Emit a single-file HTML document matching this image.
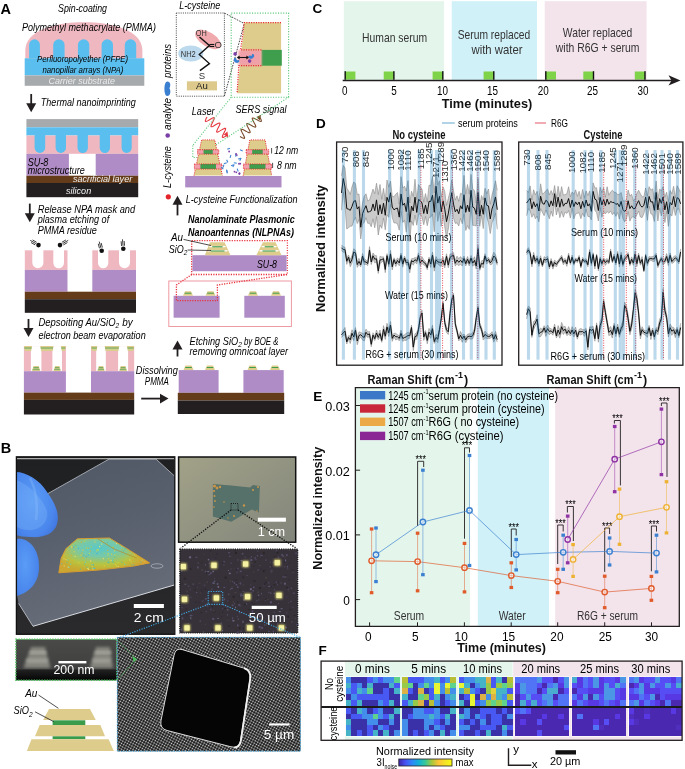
<!DOCTYPE html>
<html><head><meta charset="utf-8"><title>Figure</title>
<style>html,body{margin:0;padding:0;background:#fff;width:685px;height:769px;overflow:hidden}svg{display:block}</style>
</head><body>
<svg width="685" height="769" viewBox="0 0 685 769" font-family='"Liberation Sans", Arial, sans-serif'><defs>
<filter id="blur1" x="-20%" y="-20%" width="140%" height="140%"><feGaussianBlur stdDeviation="0.8"/></filter>
<filter id="blur2" x="-30%" y="-30%" width="160%" height="160%"><feGaussianBlur stdDeviation="1.6"/></filter><filter id="glow" x="-50%" y="-50%" width="200%" height="200%"><feGaussianBlur stdDeviation="1.1"/></filter>
<linearGradient id="gbg1" x1="0" y1="0" x2="0" y2="1"><stop offset="0" stop-color="#1f2022"/><stop offset="1" stop-color="#2a2a2c"/></linearGradient>
<linearGradient id="gsheet" x1="0" y1="0" x2="0.3" y2="1"><stop offset="0" stop-color="#4f5764"/><stop offset="0.5" stop-color="#59606d"/><stop offset="1" stop-color="#666c78"/></linearGradient>
<radialGradient id="gglove" cx="0.4" cy="0.45" r="0.75"><stop offset="0" stop-color="#5a9cf6"/><stop offset="0.7" stop-color="#4a86ec"/><stop offset="1" stop-color="#3d70da"/></radialGradient>
<radialGradient id="grain" cx="0.45" cy="0.3" r="0.65"><stop offset="0" stop-color="#58c8c8"/><stop offset="0.35" stop-color="#78c8a8"/><stop offset="0.7" stop-color="#b8c440"/><stop offset="1" stop-color="#c8a830"/></radialGradient><linearGradient id="grain2" x1="0" y1="0" x2="1" y2="0"><stop offset="0" stop-color="#d8a030" stop-opacity="0.5"/><stop offset="0.15" stop-color="#d8a030" stop-opacity="0"/><stop offset="0.75" stop-color="#d8a030" stop-opacity="0"/><stop offset="1" stop-color="#e0a030" stop-opacity="0.8"/></linearGradient>
<linearGradient id="gbg2" x1="0" y1="0" x2="1" y2="1"><stop offset="0" stop-color="#a2a288"/><stop offset="1" stop-color="#82857b"/></linearGradient>
<linearGradient id="gsem" x1="0" y1="0" x2="0" y2="1"><stop offset="0" stop-color="#4a4a48"/><stop offset="0.7" stop-color="#404040"/><stop offset="1" stop-color="#2a2a2a"/></linearGradient>
<linearGradient id="gsemb" x1="0" y1="0" x2="0" y2="1"><stop offset="0" stop-color="#222"/><stop offset="1" stop-color="#050505"/></linearGradient>
<linearGradient id="gtrap" x1="0" y1="0" x2="0" y2="1"><stop offset="0" stop-color="#9a9a9a"/><stop offset="1" stop-color="#c8c8c8"/></linearGradient>
<pattern id="dots" width="2.6" height="2.6" patternUnits="userSpaceOnUse" patternTransform="rotate(28)"><rect width="2.6" height="2.6" fill="#0e0e0e"/><circle cx="1.3" cy="1.3" r="0.88" fill="#d6d6d6"/></pattern>
<pattern id="noise1" width="9" height="7" patternUnits="userSpaceOnUse"><rect x="1" y="2" width="1.5" height="1.5" fill="#5a5272"/><rect x="5" y="5" width="1.5" height="1.5" fill="#6a6476"/><rect x="7" y="1" width="1" height="1" fill="#4a4060"/><rect x="3" y="4" width="1" height="1" fill="#4a4644"/></pattern>
</defs><text x="0.50" y="14.20" font-size="14.5" font-weight="bold" fill="#000" >A</text>
<text x="82.50" y="12.20" font-size="10.2" text-anchor="middle" font-style="italic" textLength="49.00" lengthAdjust="spacingAndGlyphs" >Spin-coating</text>
<path d="M25.3,58.5 L25.3,50 C26,30 55,22.2 84,22.2 C113,22.2 141.5,30 142.4,50 L142.4,58.5 Z" fill="#efb8c0" />
<text x="21.90" y="31.10" font-size="10.3" font-style="italic" textLength="134.00" lengthAdjust="spacingAndGlyphs" >Polymethyl methacrylate (PMMA)</text>
<rect x="24.70" y="58.30" width="119.60" height="17.10" fill="#5abeee" />
<path d="M29.10,58.60 L29.10,44.70 A5.40,5.40 0 0 1 39.90,44.70 L39.90,58.60 Z" fill="#5abeee" />
<path d="M53.20,58.60 L53.20,45.00 A5.70,5.70 0 0 1 64.60,45.00 L64.60,58.60 Z" fill="#5abeee" />
<path d="M77.90,58.60 L77.90,45.00 A5.70,5.70 0 0 1 89.30,45.00 L89.30,58.60 Z" fill="#5abeee" />
<path d="M101.60,58.60 L101.60,45.00 A5.70,5.70 0 0 1 113.00,45.00 L113.00,58.60 Z" fill="#5abeee" />
<path d="M124.80,58.60 L124.80,45.00 A5.70,5.70 0 0 1 136.20,45.00 L136.20,58.60 Z" fill="#5abeee" />
<rect x="24.70" y="75.40" width="119.60" height="10.40" fill="#a7aaac" />
<text x="37.10" y="62.40" font-size="9.2" font-style="italic" textLength="91.00" lengthAdjust="spacingAndGlyphs" >Perfluoropolyether (PFPE)</text>
<text x="42.40" y="72.90" font-size="9.2" font-style="italic" textLength="81.00" lengthAdjust="spacingAndGlyphs" >nanopillar arrays (NPA)</text>
<text x="48.50" y="84.30" font-size="9.2" font-style="italic" fill="#ececec" textLength="66.40" lengthAdjust="spacingAndGlyphs" >Carrier substrate</text>
<line x1="31.20" y1="94.00" x2="31.20" y2="104.30" stroke="#231f20" stroke-width="1.8" />
<polygon points="26.20,103.30 36.20,103.30 31.20,112.30" fill="#231f20" />
<text x="40.80" y="106.00" font-size="10.3" font-style="italic" textLength="95.00" lengthAdjust="spacingAndGlyphs" >Thermal nanoimprinting</text>
<rect x="26.40" y="119.10" width="111.80" height="8.20" fill="#a7aaac" />
<rect x="26.40" y="127.30" width="111.80" height="8.20" fill="#5abeee" />
<rect x="26.40" y="135.50" width="111.80" height="18.30" fill="#efb8c0" />
<path d="M34.60,135.00 L34.60,147.60 A5.30,5.30 0 0 0 45.20,147.60 L45.20,135.00 Z" fill="#5abeee" />
<path d="M55.60,135.00 L55.60,147.70 A5.20,5.20 0 0 0 66.00,147.70 L66.00,135.00 Z" fill="#5abeee" />
<path d="M77.50,135.00 L77.50,147.70 A5.20,5.20 0 0 0 87.90,147.70 L87.90,135.00 Z" fill="#5abeee" />
<path d="M99.70,135.00 L99.70,147.75 A5.15,5.15 0 0 0 110.00,147.75 L110.00,135.00 Z" fill="#5abeee" />
<path d="M121.60,135.00 L121.60,147.85 A5.05,5.05 0 0 0 131.70,147.85 L131.70,135.00 Z" fill="#5abeee" />
<rect x="26.40" y="153.80" width="42.50" height="21.90" fill="#b08cc6" />
<rect x="95.70" y="153.80" width="42.50" height="21.90" fill="#b08cc6" />
<rect x="26.40" y="175.70" width="111.80" height="7.30" fill="#643c19" />
<rect x="26.40" y="183.00" width="111.80" height="14.20" fill="#231f20" />
<text x="27.70" y="165.70" font-size="10" font-style="italic" textLength="20.60" lengthAdjust="spacingAndGlyphs" >SU-8</text>
<text x="27.70" y="173.90" font-size="10" font-style="italic" textLength="57.00" lengthAdjust="spacingAndGlyphs" >microstructure</text>
<text x="72.90" y="182.20" font-size="9.6" font-style="italic" fill="#f2f2f2" textLength="59.30" lengthAdjust="spacingAndGlyphs" >sacrificial layer</text>
<text x="66.00" y="194.00" font-size="9.6" font-style="italic" fill="#f2f2f2" textLength="25.20" lengthAdjust="spacingAndGlyphs" >silicon</text>
<line x1="29.80" y1="203.60" x2="29.80" y2="214.30" stroke="#231f20" stroke-width="1.8" />
<polygon points="24.80,213.30 34.80,213.30 29.80,222.30" fill="#231f20" />
<text x="37.70" y="212.80" font-size="10.3" font-style="italic" textLength="97.50" lengthAdjust="spacingAndGlyphs" >Release NPA mask and</text>
<text x="37.70" y="223.20" font-size="10.3" font-style="italic" textLength="71.50" lengthAdjust="spacingAndGlyphs" >plasma etching of</text>
<text x="37.70" y="233.60" font-size="10.3" font-style="italic" textLength="59.10" lengthAdjust="spacingAndGlyphs" >PMMA residue</text>
<rect x="24.80" y="250.30" width="42.70" height="19.60" fill="#efb8c0" />
<path d="M32.30,250 L32.30,262.65 A5.55,5.55 0 0 0 43.40,262.65 L43.40,250 Z" fill="#fff" />
<path d="M53.30,250 L53.30,262.85 A5.35,5.35 0 0 0 64.00,262.85 L64.00,250 Z" fill="#fff" />
<rect x="24.80" y="269.90" width="42.70" height="21.80" fill="#b08cc6" />
<rect x="92.30" y="250.30" width="43.70" height="19.60" fill="#efb8c0" />
<path d="M98.00,250 L98.00,263.05 A5.15,5.15 0 0 0 108.30,263.05 L108.30,250 Z" fill="#fff" />
<path d="M119.00,250 L119.00,262.70 A5.50,5.50 0 0 0 130.00,262.70 L130.00,250 Z" fill="#fff" />
<rect x="92.30" y="269.90" width="43.70" height="21.80" fill="#b08cc6" />
<rect x="24.80" y="291.70" width="111.20" height="7.50" fill="#643c19" />
<rect x="24.80" y="299.20" width="111.20" height="13.60" fill="#231f20" />
<circle cx="38.50" cy="245.10" r="2.3" fill="#111" />
<line x1="35.15" y1="244.90" x2="31.08" y2="242.55" stroke="#333" stroke-width="0.95" />
<line x1="35.90" y1="243.60" x2="30.27" y2="240.35" stroke="#333" stroke-width="0.95" />
<line x1="36.65" y1="242.30" x2="32.58" y2="239.95" stroke="#333" stroke-width="0.95" />
<circle cx="60.00" cy="245.10" r="2.3" fill="#111" />
<line x1="61.85" y1="242.30" x2="65.92" y2="239.95" stroke="#333" stroke-width="0.95" />
<line x1="62.60" y1="243.60" x2="68.23" y2="240.35" stroke="#333" stroke-width="0.95" />
<line x1="63.35" y1="244.90" x2="67.42" y2="242.55" stroke="#333" stroke-width="0.95" />
<circle cx="101.70" cy="250.80" r="2.3" fill="#111" />
<line x1="99.47" y1="248.29" x2="98.26" y2="243.75" stroke="#333" stroke-width="0.95" />
<line x1="100.92" y1="247.90" x2="99.24" y2="241.62" stroke="#333" stroke-width="0.95" />
<line x1="102.37" y1="247.51" x2="101.16" y2="242.97" stroke="#333" stroke-width="0.95" />
<circle cx="123.30" cy="248.80" r="2.3" fill="#111" />
<line x1="121.54" y1="245.94" x2="121.13" y2="241.26" stroke="#333" stroke-width="0.95" />
<line x1="123.04" y1="245.81" x2="122.47" y2="239.34" stroke="#333" stroke-width="0.95" />
<line x1="124.53" y1="245.68" x2="124.12" y2="241.00" stroke="#333" stroke-width="0.95" />
<line x1="28.50" y1="319.00" x2="28.50" y2="329.10" stroke="#231f20" stroke-width="1.8" />
<polygon points="23.50,328.10 33.50,328.10 28.50,337.10" fill="#231f20" />
<text x="38.50" y="326.20" font-size="10.3" font-style="italic" textLength="77.00" lengthAdjust="spacingAndGlyphs" >Depsoiting Au/SiO</text>
<text x="115.60" y="328.30" font-size="6.5" font-style="italic" >2</text>
<text x="122.30" y="326.20" font-size="10.3" font-style="italic" textLength="10.50" lengthAdjust="spacingAndGlyphs" >by</text>
<text x="38.50" y="338.90" font-size="10.3" font-style="italic" textLength="107.20" lengthAdjust="spacingAndGlyphs" >electron beam evaporation</text>
<rect x="23.90" y="346.10" width="42.00" height="25.10" fill="#efb8c0" />
<rect x="30.90" y="346.10" width="10.50" height="25.10" fill="#fff" />
<polygon points="31.90,371.20 33.50,366.00 38.80,366.00 40.40,371.20" fill="#decc8c" />
<line x1="33.50" y1="367.80" x2="38.80" y2="367.80" stroke="#3e9e4e" stroke-width="0.9" />
<line x1="32.70" y1="369.60" x2="39.60" y2="369.60" stroke="#3e9e4e" stroke-width="0.6" />
<rect x="52.40" y="346.10" width="9.60" height="25.10" fill="#fff" />
<polygon points="53.40,371.20 55.00,366.00 59.40,366.00 61.00,371.20" fill="#decc8c" />
<line x1="55.00" y1="367.80" x2="59.40" y2="367.80" stroke="#3e9e4e" stroke-width="0.9" />
<line x1="54.20" y1="369.60" x2="60.20" y2="369.60" stroke="#3e9e4e" stroke-width="0.6" />
<polygon points="23.90,346.10 32.10,346.10 31.10,351.00 24.90,351.00" fill="#decc8c" />
<line x1="24.40" y1="348.00" x2="31.60" y2="348.00" stroke="#3e9e4e" stroke-width="0.8" />
<line x1="24.70" y1="349.80" x2="31.30" y2="349.80" stroke="#c8d890" stroke-width="0.6" />
<polygon points="40.20,346.10 53.60,346.10 52.60,351.00 41.20,351.00" fill="#decc8c" />
<line x1="40.70" y1="348.00" x2="53.10" y2="348.00" stroke="#3e9e4e" stroke-width="0.8" />
<line x1="41.00" y1="349.80" x2="52.80" y2="349.80" stroke="#c8d890" stroke-width="0.6" />
<polygon points="60.80,346.10 65.90,346.10 64.90,351.00 61.80,351.00" fill="#decc8c" />
<line x1="61.30" y1="348.00" x2="65.40" y2="348.00" stroke="#3e9e4e" stroke-width="0.8" />
<line x1="61.60" y1="349.80" x2="65.10" y2="349.80" stroke="#c8d890" stroke-width="0.6" />
<rect x="23.90" y="371.20" width="42.00" height="21.40" fill="#b08cc6" />
<rect x="91.00" y="346.10" width="43.20" height="25.10" fill="#efb8c0" />
<rect x="96.20" y="346.10" width="9.60" height="25.10" fill="#fff" />
<polygon points="97.20,371.20 98.80,366.00 103.20,366.00 104.80,371.20" fill="#decc8c" />
<line x1="98.80" y1="367.80" x2="103.20" y2="367.80" stroke="#3e9e4e" stroke-width="0.9" />
<line x1="98.00" y1="369.60" x2="104.00" y2="369.60" stroke="#3e9e4e" stroke-width="0.6" />
<rect x="118.10" y="346.10" width="10.00" height="25.10" fill="#fff" />
<polygon points="119.10,371.20 120.70,366.00 125.50,366.00 127.10,371.20" fill="#decc8c" />
<line x1="120.70" y1="367.80" x2="125.50" y2="367.80" stroke="#3e9e4e" stroke-width="0.9" />
<line x1="119.90" y1="369.60" x2="126.30" y2="369.60" stroke="#3e9e4e" stroke-width="0.6" />
<polygon points="91.00,346.10 97.40,346.10 96.40,351.00 92.00,351.00" fill="#decc8c" />
<line x1="91.50" y1="348.00" x2="96.90" y2="348.00" stroke="#3e9e4e" stroke-width="0.8" />
<line x1="91.80" y1="349.80" x2="96.60" y2="349.80" stroke="#c8d890" stroke-width="0.6" />
<polygon points="104.60,346.10 119.30,346.10 118.30,351.00 105.60,351.00" fill="#decc8c" />
<line x1="105.10" y1="348.00" x2="118.80" y2="348.00" stroke="#3e9e4e" stroke-width="0.8" />
<line x1="105.40" y1="349.80" x2="118.50" y2="349.80" stroke="#c8d890" stroke-width="0.6" />
<polygon points="126.90,346.10 134.20,346.10 133.20,351.00 127.90,351.00" fill="#decc8c" />
<line x1="127.40" y1="348.00" x2="133.70" y2="348.00" stroke="#3e9e4e" stroke-width="0.8" />
<line x1="127.70" y1="349.80" x2="133.40" y2="349.80" stroke="#c8d890" stroke-width="0.6" />
<rect x="91.00" y="371.20" width="43.20" height="21.40" fill="#b08cc6" />
<rect x="23.90" y="392.60" width="110.30" height="7.30" fill="#643c19" />
<rect x="23.90" y="399.90" width="110.30" height="14.60" fill="#231f20" />
<text x="156.80" y="373.60" font-size="10.3" text-anchor="middle" font-style="italic" textLength="42.00" lengthAdjust="spacingAndGlyphs" >Dissolving</text>
<text x="156.80" y="384.90" font-size="10.3" text-anchor="middle" font-style="italic" textLength="24.00" lengthAdjust="spacingAndGlyphs" >PMMA</text>
<line x1="141.20" y1="398.60" x2="162.00" y2="398.60" stroke="#231f20" stroke-width="1.8" />
<polygon points="160.00,393.80 160.00,403.40 168.50,398.60" fill="#231f20" />
<rect x="178.70" y="370.10" width="39.90" height="22.70" fill="#b08cc6" />
<rect x="243.40" y="370.10" width="40.30" height="22.70" fill="#b08cc6" />
<rect x="177.80" y="392.80" width="106.40" height="7.70" fill="#643c19" />
<rect x="177.80" y="400.50" width="106.40" height="13.50" fill="#231f20" />
<polygon points="183.50,370.10 185.50,365.50 191.50,365.50 193.50,370.10" fill="#decc8c" />
<line x1="185.20" y1="367.50" x2="191.80" y2="367.50" stroke="#3e9e4e" stroke-width="1.0" />
<polygon points="205.00,370.10 207.00,365.50 213.00,365.50 215.00,370.10" fill="#decc8c" />
<line x1="206.70" y1="367.50" x2="213.30" y2="367.50" stroke="#3e9e4e" stroke-width="1.0" />
<polygon points="247.50,370.10 249.50,365.50 255.50,365.50 257.50,370.10" fill="#decc8c" />
<line x1="249.20" y1="367.50" x2="255.80" y2="367.50" stroke="#3e9e4e" stroke-width="1.0" />
<polygon points="270.00,370.10 272.00,365.50 278.00,365.50 280.00,370.10" fill="#decc8c" />
<line x1="271.70" y1="367.50" x2="278.30" y2="367.50" stroke="#3e9e4e" stroke-width="1.0" />
<line x1="177.50" y1="356.50" x2="177.50" y2="348.50" stroke="#231f20" stroke-width="1.8" />
<polygon points="172.50,349.50 182.50,349.50 177.50,340.50" fill="#231f20" />
<text x="189.60" y="344.80" font-size="10.3" font-style="italic" textLength="48.50" lengthAdjust="spacingAndGlyphs" >Etching SiO</text>
<text x="238.30" y="347.20" font-size="6.5" font-style="italic" >2</text>
<text x="244.00" y="344.80" font-size="10.3" font-style="italic" textLength="34.50" lengthAdjust="spacingAndGlyphs" >by BOE &amp;</text>
<text x="189.60" y="355.10" font-size="10.3" font-style="italic" textLength="98.50" lengthAdjust="spacingAndGlyphs" >removing omnicoat layer</text>
<rect x="168.80" y="281.00" width="122.60" height="45.50" fill="none" stroke="#ee9aa2" stroke-width="1"/>
<rect x="173.60" y="295.80" width="46.00" height="21.90" fill="#b08cc6" />
<rect x="244.30" y="295.80" width="40.50" height="21.90" fill="#b08cc6" />
<polygon points="183.00,295.80 185.00,291.20 191.00,291.20 193.00,295.80" fill="#decc8c" />
<line x1="184.70" y1="293.20" x2="191.30" y2="293.20" stroke="#3e9e4e" stroke-width="1.0" />
<polygon points="205.50,295.80 207.50,291.20 213.50,291.20 215.50,295.80" fill="#decc8c" />
<line x1="207.20" y1="293.20" x2="213.80" y2="293.20" stroke="#3e9e4e" stroke-width="1.0" />
<polygon points="248.00,295.80 250.00,291.20 256.00,291.20 258.00,295.80" fill="#decc8c" />
<line x1="249.70" y1="293.20" x2="256.30" y2="293.20" stroke="#3e9e4e" stroke-width="1.0" />
<polygon points="271.00,295.80 273.00,291.20 279.00,291.20 281.00,295.80" fill="#decc8c" />
<line x1="272.70" y1="293.20" x2="279.30" y2="293.20" stroke="#3e9e4e" stroke-width="1.0" />
<path d="M191.7,274.5 L176.4,285 L176.4,300.6 L217.4,300.6 L217.4,285 L287.4,274.5" fill="none" stroke="#e8323c" stroke-width="1.3" stroke-dasharray="1.2 1.3" fill="none"/>
<rect x="191.70" y="240.60" width="95.70" height="33.90" fill="none" stroke="#e8323c" stroke-width="1.3" stroke-dasharray="1.2 1.3" fill="none"/>
<rect x="192.40" y="255.20" width="94.20" height="16.00" fill="#b08cc6" />
<text x="257.00" y="268.40" font-size="10.3" font-style="italic" textLength="20.00" lengthAdjust="spacingAndGlyphs" >SU-8</text>
<polygon points="204.90,255.20 209.90,242.30 224.60,242.30 230.50,255.20" fill="#decc8c" />
<line x1="209.25" y1="246.56" x2="225.55" y2="246.56" stroke="#fff" stroke-width="1.3" />
<line x1="212.25" y1="246.76" x2="222.55" y2="246.76" stroke="#3e9e4e" stroke-width="1.1" />
<line x1="207.60" y1="250.81" x2="227.49" y2="250.81" stroke="#fff" stroke-width="1.3" />
<line x1="210.60" y1="251.01" x2="224.49" y2="251.01" stroke="#3e9e4e" stroke-width="1.1" />
<polygon points="256.30,255.20 262.90,242.30 275.60,242.30 281.50,255.20" fill="#decc8c" />
<line x1="261.72" y1="246.56" x2="276.55" y2="246.56" stroke="#fff" stroke-width="1.3" />
<line x1="264.72" y1="246.76" x2="273.55" y2="246.76" stroke="#3e9e4e" stroke-width="1.1" />
<line x1="259.54" y1="250.81" x2="278.49" y2="250.81" stroke="#fff" stroke-width="1.3" />
<line x1="262.54" y1="251.01" x2="275.49" y2="251.01" stroke="#3e9e4e" stroke-width="1.1" />
<text x="171.00" y="240.90" font-size="10.3" font-style="italic" textLength="12.00" lengthAdjust="spacingAndGlyphs" >Au</text>
<line x1="183.50" y1="239.40" x2="211.00" y2="245.50" stroke="#231f20" stroke-width="0.8" />
<text x="168.80" y="252.90" font-size="10.3" font-style="italic" textLength="15.00" lengthAdjust="spacingAndGlyphs" >SiO</text>
<text x="183.80" y="255.20" font-size="6.5" font-style="italic" >2</text>
<line x1="187.60" y1="250.00" x2="211.00" y2="250.50" stroke="#231f20" stroke-width="0.8" />
<text x="188.00" y="223.40" font-size="10.6" font-weight="bold" font-style="italic" textLength="106.70" lengthAdjust="spacingAndGlyphs" >Nanolaminate Plasmonic</text>
<text x="188.00" y="236.10" font-size="10.6" font-weight="bold" font-style="italic" textLength="106.00" lengthAdjust="spacingAndGlyphs" >Nanoantennas (NLPNAs)</text>
<line x1="177.50" y1="215.40" x2="177.50" y2="203.70" stroke="#231f20" stroke-width="1.8" />
<polygon points="172.50,204.70 182.50,204.70 177.50,195.70" fill="#231f20" />
<text x="185.80" y="203.20" font-size="10.3" font-style="italic" textLength="111.70" lengthAdjust="spacingAndGlyphs" >L-cysteine Functionalization</text>
<text x="170.50" y="78.00" font-size="10.3" font-style="italic" textLength="34.00" lengthAdjust="spacingAndGlyphs" transform="rotate(-90 170.50 78.00)" >proteins</text>
<path d="M167.4,81.5 C170.6,81.5 171,85.5 169.4,88.2 C171.2,90.6 170.6,96 167.2,96 C163.6,96 163.4,81.5 167.4,81.5 Z" fill="#3b7fd0" />
<text x="170.50" y="130.00" font-size="10.3" font-style="italic" textLength="32.00" lengthAdjust="spacingAndGlyphs" transform="rotate(-90 170.50 130.00)" >analyte</text>
<circle cx="167.70" cy="135.50" r="2.3" fill="#7a3fa6" />
<text x="170.50" y="188.00" font-size="10.3" font-style="italic" textLength="42.00" lengthAdjust="spacingAndGlyphs" transform="rotate(-90 170.50 188.00)" >L-cysteine</text>
<circle cx="168.30" cy="196.80" r="2.6" fill="#e3242b" />
<text x="179.20" y="8.60" font-size="10.3" font-style="italic" textLength="41.00" lengthAdjust="spacingAndGlyphs" >L-cysteine</text>
<rect x="176.30" y="13.00" width="48.10" height="83.20" fill="none" stroke="#333" stroke-width="0.9" stroke-dasharray="1 1.2"/>
<ellipse cx="208.1" cy="39.4" rx="14.5" ry="7.2" fill="#f0a9ad" transform="rotate(32 208.1 39.4)"/>
<ellipse cx="190.8" cy="53.5" rx="12.5" ry="8" fill="#bcd9ee"/>
<path d="M199.5,37 L209.4,45.5 L199.3,54.4 L209.4,63.6 L199.9,70.6" fill="none" stroke="#111" stroke-width="1.4" />
<line x1="209.40" y1="44.50" x2="214.30" y2="44.50" stroke="#111" stroke-width="1.1" />
<line x1="209.40" y1="46.50" x2="214.30" y2="46.50" stroke="#111" stroke-width="1.1" />
<text x="195.80" y="35.80" font-size="9.6" fill="#333" textLength="11.00" lengthAdjust="spacingAndGlyphs" >OH</text>
<text x="214.60" y="48.20" font-size="9.6" fill="#333" >O</text>
<text x="180.80" y="56.80" font-size="9.6" fill="#333" textLength="15.00" lengthAdjust="spacingAndGlyphs" >NH2</text>
<text x="198.80" y="79.00" font-size="9.6" fill="#333" >S</text>
<rect x="186.90" y="81.30" width="30.10" height="9.10" fill="#dcc98b" />
<text x="201.90" y="89.00" font-size="9.6" text-anchor="middle" fill="#222" >Au</text>
<line x1="224.40" y1="13.00" x2="244.30" y2="23.60" stroke="#333" stroke-width="0.9" stroke-dasharray="1.6 1.2"/>
<line x1="224.40" y1="96.20" x2="244.30" y2="23.60" stroke="#333" stroke-width="0.9" stroke-dasharray="1.6 1.2"/>
<rect x="231.20" y="13.10" width="57.40" height="84.10" fill="none" stroke="#5cc87a" stroke-width="1.1" stroke-dasharray="1.1 1.5" fill="none"/>
<polygon points="244.30,22.60 281.10,22.60 281.10,93.30 237.10,93.30" fill="#decc8c" />
<rect x="261.40" y="49.90" width="20.40" height="15.80" fill="#3e9e4e" />
<rect x="238.4" y="49.9" width="23" height="15.8" fill="#f0a0a8" filter="url(#blur1)"/>
<path d="M281,22.6 L244.3,22.6 L240.6,49.9 L261.4,49.9 M261.4,65.7 L238.8,65.7 L237.1,93.3" fill="none" stroke="#e8232c" stroke-width="1.2" stroke-dasharray="1.1 1.3" fill="none"/>
<line x1="238.20" y1="57.50" x2="247.80" y2="57.50" stroke="#111" stroke-width="1.1" />
<polygon points="236.80,57.50 239.60,55.60 239.60,59.40" fill="#111" />
<polygon points="249.20,57.50 246.40,55.60 246.40,59.40" fill="#111" />
<circle cx="235.10" cy="53.90" r="1.8" fill="#7a3fa6" />
<circle cx="249.60" cy="61.10" r="1.8" fill="#7a3fa6" />
<g transform="translate(236.3,60.6) rotate(30) scale(0.75)"><path d="M-4,-1.2 C-4,-3.2 -1.5,-3.2 -0.6,-1.6 C0.2,-0.6 0.8,-0.6 1.4,-1.6 C2.3,-3.2 4.6,-2.4 4,0 C3.4,2.6 0.5,3 -0.3,2.8 C-1.2,2.6 -4,2 -4,-1.2 Z" fill="#3b7fd0"/></g>
<g transform="translate(251.5,56.6) rotate(-30) scale(0.75)"><path d="M-4,-1.2 C-4,-3.2 -1.5,-3.2 -0.6,-1.6 C0.2,-0.6 0.8,-0.6 1.4,-1.6 C2.3,-3.2 4.6,-2.4 4,0 C3.4,2.6 0.5,3 -0.3,2.8 C-1.2,2.6 -4,2 -4,-1.2 Z" fill="#3b7fd0"/></g>
<text x="191.70" y="115.00" font-size="10.3" font-style="italic" textLength="23.00" lengthAdjust="spacingAndGlyphs" >Laser</text>
<text x="235.50" y="112.50" font-size="10.3" font-style="italic" textLength="51.00" lengthAdjust="spacingAndGlyphs" >SERS signal</text>
<path d="M207.00,116.90 L206.56,117.77 L206.14,118.61 L205.79,119.38 L205.52,120.06 L205.37,120.62 L205.34,121.05 L205.44,121.33 L205.69,121.47 L206.08,121.45 L206.60,121.30 L207.23,121.02 L207.96,120.64 L208.75,120.19 L209.59,119.70 L210.43,119.20 L211.25,118.72 L212.02,118.30 L212.71,117.96 L213.30,117.74 L213.76,117.64 L214.09,117.69 L214.28,117.88 L214.32,118.23 L214.24,118.72 L214.03,119.33 L213.73,120.06 L213.34,120.86 L212.91,121.72 L212.46,122.59 L212.03,123.45 L211.64,124.26 L211.32,125.00 L211.10,125.63 L210.99,126.14 L211.02,126.51 L211.19,126.72 L211.50,126.79 L211.94,126.71 L212.51,126.50 L213.19,126.18 L213.95,125.77 L214.76,125.30 L215.61,124.80 L216.44,124.30 L217.25,123.85 L217.98,123.46 L218.63,123.17 L219.17,122.99 L219.58,122.96 L219.84,123.07 L219.97,123.33 L219.96,123.74 L219.82,124.28 L219.57,124.95 L219.23,125.71 L218.82,126.54 L218.38,127.40 L217.93,128.28 L217.51,129.12 L217.15,129.90 L216.87,130.60 L216.70,131.18 L216.65,131.63 L216.73,131.93 L216.96,132.09 L217.33,132.09 L217.83,131.95 L218.45,131.69 L219.16,131.33 L219.95,130.89 L220.78,130.40 L221.62,129.90 L222.45,129.42 L223.23,128.98 L223.93,128.63 L224.53,128.39 L225.02,128.27 L225.36,128.30 L225.57,128.47 L225.64,128.80 L225.57,129.27 L225.38,129.87 L225.09,130.58 L224.72,131.37 L224.29,132.22 L223.84,133.09 L223.40,133.96 L223.01,134.78 L222.68,135.53 L222.44,136.18 L222.32,136.70 L222.32,137.09 L222.47,137.33 L222.76,137.42 L223.19,137.36 L223.74,137.17 L224.40,136.86 L225.15,136.46 L225.96,136.00 L226.80,135.50" fill="none" stroke="#e5383f" stroke-width="1.1" />
<polygon points="228.40,137.50 223.80,134.60 227.40,131.60" fill="#e5383f" />
<path d="M240.00,136.60 L240.86,137.06 L241.69,137.50 L242.46,137.87 L243.13,138.15 L243.70,138.32 L244.13,138.36 L244.42,138.25 L244.56,138.00 L244.56,137.61 L244.43,137.08 L244.17,136.44 L243.82,135.70 L243.40,134.89 L242.94,134.03 L242.46,133.17 L242.01,132.33 L241.62,131.55 L241.31,130.84 L241.10,130.25 L241.02,129.78 L241.08,129.44 L241.29,129.26 L241.64,129.22 L242.13,129.31 L242.74,129.53 L243.46,129.85 L244.26,130.25 L245.11,130.70 L245.97,131.17 L246.82,131.63 L247.63,132.04 L248.36,132.37 L248.99,132.61 L249.50,132.72 L249.87,132.70 L250.10,132.53 L250.18,132.22 L250.12,131.77 L249.93,131.19 L249.63,130.50 L249.25,129.73 L248.80,128.89 L248.33,128.03 L247.87,127.18 L247.44,126.36 L247.07,125.60 L246.80,124.94 L246.65,124.40 L246.63,123.99 L246.75,123.72 L247.02,123.59 L247.43,123.61 L247.98,123.76 L248.64,124.03 L249.40,124.39 L250.22,124.81 L251.08,125.28 L251.94,125.74 L252.77,126.18 L253.55,126.56 L254.24,126.86 L254.82,127.04 L255.28,127.10 L255.59,127.02 L255.75,126.79 L255.77,126.42 L255.65,125.91 L255.41,125.28 L255.08,124.55 L254.66,123.75 L254.20,122.90 L253.73,122.04 L253.28,121.19 L252.87,120.40 L252.54,119.68 L252.32,119.07 L252.22,118.58 L252.26,118.23 L252.45,118.02 L252.78,117.96 L253.25,118.03 L253.85,118.24 L254.55,118.54 L255.34,118.94 L256.18,119.38 L257.05,119.85 L257.90,120.31 L258.72,120.73 L259.46,121.07 L260.11,121.32 L260.63,121.46 L261.03,121.46 L261.27,121.31 L261.38,121.02 L261.34,120.59 L261.16,120.02 L260.88,119.35 L260.51,118.59 L260.07,117.76 L259.60,116.90" fill="none" stroke="#7b4a2a" stroke-width="1.1" />
<polygon points="261.20,114.80 256.40,117.00 259.70,120.60" fill="#7b4a2a" />
<line x1="231.20" y1="97.20" x2="192.80" y2="145.40" stroke="#5cc87a" stroke-width="1.1" stroke-dasharray="1.1 1.5"/>
<line x1="288.60" y1="97.20" x2="208.00" y2="150.00" stroke="#5cc87a" stroke-width="1.1" stroke-dasharray="1.1 1.5"/>
<path d="M192.8,145.4 L192.8,157.5 L208.4,157.5 L208.4,145.4" fill="none" stroke="#5cc87a" stroke-width="1.1" stroke-dasharray="1.1 1.5" fill="none"/>
<polygon points="201.60,139.90 214.70,139.90 222.40,175.60 194.00,175.60" fill="#decc8c" />
<path d="M194.00,175.60 L201.60,139.90 L214.70,139.90 L222.40,175.60" fill="none" stroke="#e8232c" stroke-width="1" stroke-dasharray="1 1.2" fill="none"/>
<rect x="197.58" y="149.70" width="21.19" height="4.40" fill="#efa0aa" />
<rect x="203.58" y="149.70" width="9.19" height="4.40" fill="#3e9e4e" />
<rect x="197.58" y="149.70" width="21.19" height="4.40" fill="none" stroke="#e8232c" stroke-width="1" stroke-dasharray="1 1.2" fill="none"/>
<rect x="194.41" y="164.00" width="27.57" height="5.00" fill="#efa0aa" />
<rect x="200.41" y="164.00" width="15.57" height="5.00" fill="#3e9e4e" />
<rect x="194.41" y="164.00" width="27.57" height="5.00" fill="none" stroke="#e8232c" stroke-width="1" stroke-dasharray="1 1.2" fill="none"/>
<polygon points="249.80,139.90 265.10,139.90 271.70,175.60 243.20,175.60" fill="#decc8c" />
<path d="M243.20,175.60 L249.80,139.90 L265.10,139.90 L271.70,175.60" fill="none" stroke="#e8232c" stroke-width="1" stroke-dasharray="1 1.2" fill="none"/>
<rect x="246.17" y="149.70" width="22.55" height="4.40" fill="#efa0aa" />
<rect x="252.17" y="149.70" width="10.55" height="4.40" fill="#3e9e4e" />
<rect x="246.17" y="149.70" width="22.55" height="4.40" fill="none" stroke="#e8232c" stroke-width="1" stroke-dasharray="1 1.2" fill="none"/>
<rect x="243.42" y="164.00" width="28.06" height="5.00" fill="#efa0aa" />
<rect x="249.42" y="164.00" width="16.06" height="5.00" fill="#3e9e4e" />
<rect x="243.42" y="164.00" width="28.06" height="5.00" fill="none" stroke="#e8232c" stroke-width="1" stroke-dasharray="1 1.2" fill="none"/>
<line x1="226.64" y1="159.68" x2="227.83" y2="162.44" stroke="#3f86d2" stroke-width="1.1" />
<line x1="233.82" y1="162.71" x2="236.75" y2="163.32" stroke="#3f86d2" stroke-width="1.1" />
<line x1="221.26" y1="167.01" x2="223.32" y2="169.19" stroke="#3f86d2" stroke-width="1.1" />
<line x1="227.02" y1="170.40" x2="227.30" y2="173.39" stroke="#3f86d2" stroke-width="1.1" />
<line x1="241.04" y1="158.07" x2="239.77" y2="160.79" stroke="#3f86d2" stroke-width="1.1" />
<line x1="226.69" y1="162.63" x2="223.94" y2="163.84" stroke="#3f86d2" stroke-width="1.1" />
<line x1="234.28" y1="164.50" x2="232.74" y2="167.08" stroke="#3f86d2" stroke-width="1.1" />
<line x1="223.83" y1="164.76" x2="222.99" y2="167.64" stroke="#3f86d2" stroke-width="1.1" />
<line x1="230.00" y1="148.13" x2="227.26" y2="149.36" stroke="#3f86d2" stroke-width="1.1" />
<line x1="233.79" y1="164.69" x2="231.01" y2="165.81" stroke="#3f86d2" stroke-width="1.1" />
<line x1="237.22" y1="168.69" x2="238.20" y2="171.53" stroke="#3f86d2" stroke-width="1.1" />
<line x1="241.09" y1="158.37" x2="238.15" y2="158.97" stroke="#3f86d2" stroke-width="1.1" />
<line x1="239.97" y1="149.72" x2="242.70" y2="150.96" stroke="#3f86d2" stroke-width="1.1" />
<line x1="226.47" y1="169.70" x2="227.07" y2="172.64" stroke="#3f86d2" stroke-width="1.1" />
<line x1="235.82" y1="153.73" x2="235.75" y2="156.72" stroke="#3f86d2" stroke-width="1.1" />
<line x1="230.89" y1="154.98" x2="230.09" y2="157.87" stroke="#3f86d2" stroke-width="1.1" />
<circle cx="234.52" cy="171.70" r="0.9" fill="#7a3fa6" />
<circle cx="236.28" cy="172.29" r="0.9" fill="#7a3fa6" />
<circle cx="239.42" cy="173.78" r="0.9" fill="#7a3fa6" />
<circle cx="236.08" cy="153.91" r="0.9" fill="#7a3fa6" />
<circle cx="239.49" cy="173.15" r="0.9" fill="#7a3fa6" />
<circle cx="240.28" cy="163.66" r="0.9" fill="#7a3fa6" />
<circle cx="236.85" cy="155.07" r="0.9" fill="#7a3fa6" />
<circle cx="238.97" cy="163.76" r="0.9" fill="#7a3fa6" />
<circle cx="229.13" cy="151.52" r="0.9" fill="#7a3fa6" />
<circle cx="239.37" cy="173.76" r="0.9" fill="#7a3fa6" />
<rect x="185.20" y="176.00" width="96.30" height="11.40" fill="#b08cc6" />
<text x="274.30" y="154.30" font-size="10.3" font-style="italic" textLength="24.00" lengthAdjust="spacingAndGlyphs" >12 nm</text>
<text x="277.10" y="169.00" font-size="10.3" font-style="italic" textLength="19.50" lengthAdjust="spacingAndGlyphs" >8 nm</text>
<line x1="271.60" y1="148.00" x2="271.60" y2="153.50" stroke="#231f20" stroke-width="0.8" />
<line x1="272.60" y1="162.80" x2="272.60" y2="168.00" stroke="#231f20" stroke-width="0.8" />
<text x="0.80" y="453.30" font-size="14.5" font-weight="bold" fill="#000" >B</text>
<clipPath id="cp1"><rect x="16.4" y="456.8" width="158.4" height="177.5"/></clipPath>
<g clip-path="url(#cp1)">
<rect x="16.40" y="456.80" width="158.40" height="177.50" fill="url(#gbg1)" />
<polygon points="47.00,494.10 109.20,459.00 155.90,459.00 175.00,476.50 175.00,584.80 33.00,626.30 18.60,603.40 10.00,560.00 10.00,500.00" fill="url(#gsheet)" />
<path d="M47,494.1 L109.2,459 L155.9,459 L175,476.5" fill="none" stroke="#b8bcc4" stroke-width="0.8" />
<line x1="33.00" y1="626.30" x2="175.00" y2="584.80" stroke="#d8dce2" stroke-width="1.0" />
<line x1="18.60" y1="603.40" x2="33.00" y2="626.30" stroke="#c8ccd2" stroke-width="0.8" />
<rect x="16.40" y="458.20" width="158.40" height="1.00" fill="#d0d0d0" />
<path d="M16,472 C26,472 40,480 47,492 C55,503 60,514 57,524 C54,534 44,538 30,537 C24,537 19,536 16,535 Z" fill="url(#gglove)"/>
<path d="M16,539 C28,537 38,548 39,564 C40,580 32,592 16,596 Z" fill="url(#gglove)"/>
<path d="M16,480 C28,484 40,496 46,508 C50,518 44,528 32,530 C24,531 18,528 16,526 Z" fill="#7db4f8" opacity="0.35"/>
<path d="M30,478 C36,490 38,505 36,520" stroke="#8cbcf8" stroke-width="2.5" fill="none" opacity="0.35"/>
<polygon points="58.80,572.80 61.20,558.10 66.10,548.50 77.30,538.80 109.40,538.00 125.50,547.70 149.60,562.90 133.50,566.10 98.20,570.10" fill="url(#grain)" />
<clipPath id="cpfilm"><polygon points="58.8,572.8 61.2,558.1 66.1,548.5 77.3,538.8 109.4,538 125.5,547.7 149.6,562.9 133.5,566.1 98.2,570.1"/></clipPath><g clip-path="url(#cpfilm)">
<rect x="115.3" y="564.0" width="1.2" height="1.2" fill="#e0d040" opacity="0.85"/>
<rect x="135.3" y="565.2" width="1.2" height="1.2" fill="#40b0d8" opacity="0.85"/>
<rect x="117.7" y="569.5" width="1.2" height="1.2" fill="#c8d848" opacity="0.85"/>
<rect x="92.2" y="568.4" width="1.2" height="1.2" fill="#f0e070" opacity="0.85"/>
<rect x="108.0" y="558.1" width="1.2" height="1.2" fill="#e0d040" opacity="0.85"/>
<rect x="125.3" y="552.3" width="1.2" height="1.2" fill="#60d0c8" opacity="0.85"/>
<rect x="142.3" y="564.8" width="1.2" height="1.2" fill="#60d0c8" opacity="0.85"/>
<rect x="128.1" y="540.5" width="1.2" height="1.2" fill="#58c0a0" opacity="0.85"/>
<rect x="69.7" y="538.1" width="1.2" height="1.2" fill="#e0d040" opacity="0.85"/>
<rect x="77.3" y="545.5" width="1.2" height="1.2" fill="#60d0c8" opacity="0.85"/>
<rect x="138.3" y="548.1" width="1.2" height="1.2" fill="#40b0d8" opacity="0.85"/>
<rect x="107.6" y="561.7" width="1.2" height="1.2" fill="#40b0d8" opacity="0.85"/>
<rect x="74.7" y="571.9" width="1.2" height="1.2" fill="#40b0d8" opacity="0.85"/>
<rect x="146.9" y="569.3" width="1.2" height="1.2" fill="#d8b030" opacity="0.85"/>
<rect x="60.0" y="552.5" width="1.2" height="1.2" fill="#60d0c8" opacity="0.85"/>
<rect x="82.3" y="549.6" width="1.2" height="1.2" fill="#e0d040" opacity="0.85"/>
<rect x="112.8" y="562.8" width="1.2" height="1.2" fill="#c8d848" opacity="0.85"/>
<rect x="86.5" y="566.6" width="1.2" height="1.2" fill="#58c0a0" opacity="0.85"/>
<rect x="122.1" y="544.5" width="1.2" height="1.2" fill="#58c0a0" opacity="0.85"/>
<rect x="122.8" y="540.0" width="1.2" height="1.2" fill="#e0d040" opacity="0.85"/>
<rect x="145.3" y="550.5" width="1.2" height="1.2" fill="#f0e070" opacity="0.85"/>
<rect x="59.7" y="565.6" width="1.2" height="1.2" fill="#a0d060" opacity="0.85"/>
<rect x="92.6" y="567.4" width="1.2" height="1.2" fill="#58c0a0" opacity="0.85"/>
<rect x="62.3" y="544.3" width="1.2" height="1.2" fill="#40b0d8" opacity="0.85"/>
<rect x="68.9" y="546.6" width="1.2" height="1.2" fill="#58c0a0" opacity="0.85"/>
<rect x="89.7" y="550.4" width="1.2" height="1.2" fill="#d8b030" opacity="0.85"/>
<rect x="129.4" y="541.8" width="1.2" height="1.2" fill="#a0d060" opacity="0.85"/>
<rect x="137.1" y="539.3" width="1.2" height="1.2" fill="#c8d848" opacity="0.85"/>
<rect x="77.2" y="556.0" width="1.2" height="1.2" fill="#a0d060" opacity="0.85"/>
<rect x="142.5" y="549.9" width="1.2" height="1.2" fill="#c8d848" opacity="0.85"/>
<rect x="86.7" y="549.1" width="1.2" height="1.2" fill="#60d0c8" opacity="0.85"/>
<rect x="131.5" y="559.9" width="1.2" height="1.2" fill="#d8b030" opacity="0.85"/>
<rect x="149.7" y="543.7" width="1.2" height="1.2" fill="#e0d040" opacity="0.85"/>
<rect x="65.4" y="559.0" width="1.2" height="1.2" fill="#f0e070" opacity="0.85"/>
<rect x="60.9" y="563.9" width="1.2" height="1.2" fill="#a0d060" opacity="0.85"/>
<rect x="134.0" y="553.9" width="1.2" height="1.2" fill="#f0e070" opacity="0.85"/>
<rect x="71.4" y="572.3" width="1.2" height="1.2" fill="#e0d040" opacity="0.85"/>
<rect x="131.8" y="549.7" width="1.2" height="1.2" fill="#40b0d8" opacity="0.85"/>
<rect x="70.0" y="563.6" width="1.2" height="1.2" fill="#60d0c8" opacity="0.85"/>
<rect x="116.0" y="565.6" width="1.2" height="1.2" fill="#c8d848" opacity="0.85"/>
<rect x="73.5" y="551.1" width="1.2" height="1.2" fill="#e0d040" opacity="0.85"/>
<rect x="135.7" y="548.3" width="1.2" height="1.2" fill="#58c0a0" opacity="0.85"/>
<rect x="142.8" y="559.7" width="1.2" height="1.2" fill="#60d0c8" opacity="0.85"/>
<rect x="147.8" y="553.9" width="1.2" height="1.2" fill="#58c0a0" opacity="0.85"/>
<rect x="121.4" y="549.1" width="1.2" height="1.2" fill="#d8b030" opacity="0.85"/>
<rect x="84.8" y="552.1" width="1.2" height="1.2" fill="#60d0c8" opacity="0.85"/>
<rect x="68.4" y="566.8" width="1.2" height="1.2" fill="#60d0c8" opacity="0.85"/>
<rect x="115.7" y="555.5" width="1.2" height="1.2" fill="#a0d060" opacity="0.85"/>
<rect x="74.6" y="555.2" width="1.2" height="1.2" fill="#a0d060" opacity="0.85"/>
<rect x="63.8" y="565.8" width="1.2" height="1.2" fill="#a0d060" opacity="0.85"/>
<rect x="121.9" y="561.2" width="1.2" height="1.2" fill="#d8b030" opacity="0.85"/>
<rect x="91.4" y="562.7" width="1.2" height="1.2" fill="#d8b030" opacity="0.85"/>
<rect x="134.8" y="547.3" width="1.2" height="1.2" fill="#d8b030" opacity="0.85"/>
<rect x="146.0" y="549.9" width="1.2" height="1.2" fill="#60d0c8" opacity="0.85"/>
<rect x="111.4" y="538.4" width="1.2" height="1.2" fill="#d8b030" opacity="0.85"/>
<rect x="88.0" y="547.6" width="1.2" height="1.2" fill="#d8b030" opacity="0.85"/>
<rect x="133.1" y="560.7" width="1.2" height="1.2" fill="#a0d060" opacity="0.85"/>
<rect x="90.0" y="560.5" width="1.2" height="1.2" fill="#f0e070" opacity="0.85"/>
<rect x="90.2" y="567.5" width="1.2" height="1.2" fill="#58c0a0" opacity="0.85"/>
<rect x="147.8" y="571.5" width="1.2" height="1.2" fill="#60d0c8" opacity="0.85"/>
<rect x="106.7" y="543.8" width="1.2" height="1.2" fill="#a0d060" opacity="0.85"/>
<rect x="144.2" y="554.7" width="1.2" height="1.2" fill="#c8d848" opacity="0.85"/>
<rect x="124.2" y="563.6" width="1.2" height="1.2" fill="#60d0c8" opacity="0.85"/>
<rect x="114.7" y="570.8" width="1.2" height="1.2" fill="#f0e070" opacity="0.85"/>
<rect x="85.8" y="557.4" width="1.2" height="1.2" fill="#d8b030" opacity="0.85"/>
<rect x="124.3" y="539.0" width="1.2" height="1.2" fill="#60d0c8" opacity="0.85"/>
<rect x="112.0" y="559.8" width="1.2" height="1.2" fill="#60d0c8" opacity="0.85"/>
<rect x="78.2" y="562.0" width="1.2" height="1.2" fill="#e0d040" opacity="0.85"/>
<rect x="148.8" y="572.3" width="1.2" height="1.2" fill="#60d0c8" opacity="0.85"/>
<rect x="63.0" y="542.7" width="1.2" height="1.2" fill="#a0d060" opacity="0.85"/>
<rect x="147.1" y="554.9" width="1.2" height="1.2" fill="#e0d040" opacity="0.85"/>
<rect x="96.2" y="550.3" width="1.2" height="1.2" fill="#c8d848" opacity="0.85"/>
<rect x="112.3" y="546.3" width="1.2" height="1.2" fill="#a0d060" opacity="0.85"/>
<rect x="58.1" y="552.2" width="1.2" height="1.2" fill="#d8b030" opacity="0.85"/>
<rect x="136.7" y="568.3" width="1.2" height="1.2" fill="#a0d060" opacity="0.85"/>
<rect x="146.7" y="557.2" width="1.2" height="1.2" fill="#d8b030" opacity="0.85"/>
<rect x="66.7" y="557.1" width="1.2" height="1.2" fill="#a0d060" opacity="0.85"/>
<rect x="145.5" y="548.3" width="1.2" height="1.2" fill="#a0d060" opacity="0.85"/>
<rect x="133.3" y="552.7" width="1.2" height="1.2" fill="#a0d060" opacity="0.85"/>
<rect x="101.0" y="543.5" width="1.2" height="1.2" fill="#f0e070" opacity="0.85"/>
<rect x="109.9" y="571.5" width="1.2" height="1.2" fill="#60d0c8" opacity="0.85"/>
<rect x="114.0" y="550.3" width="1.2" height="1.2" fill="#e0d040" opacity="0.85"/>
<rect x="93.1" y="549.4" width="1.2" height="1.2" fill="#60d0c8" opacity="0.85"/>
<rect x="87.9" y="568.7" width="1.2" height="1.2" fill="#f0e070" opacity="0.85"/>
<rect x="97.5" y="572.2" width="1.2" height="1.2" fill="#58c0a0" opacity="0.85"/>
<rect x="84.8" y="572.0" width="1.2" height="1.2" fill="#f0e070" opacity="0.85"/>
<rect x="93.3" y="567.9" width="1.2" height="1.2" fill="#60d0c8" opacity="0.85"/>
<rect x="112.8" y="547.1" width="1.2" height="1.2" fill="#d8b030" opacity="0.85"/>
<rect x="103.7" y="552.5" width="1.2" height="1.2" fill="#a0d060" opacity="0.85"/>
<rect x="145.0" y="548.8" width="1.2" height="1.2" fill="#d8b030" opacity="0.85"/>
<rect x="71.2" y="538.8" width="1.2" height="1.2" fill="#58c0a0" opacity="0.85"/>
<rect x="80.6" y="539.4" width="1.2" height="1.2" fill="#60d0c8" opacity="0.85"/>
<rect x="134.1" y="538.5" width="1.2" height="1.2" fill="#d8b030" opacity="0.85"/>
<rect x="80.4" y="554.6" width="1.2" height="1.2" fill="#e0d040" opacity="0.85"/>
<rect x="80.6" y="547.4" width="1.2" height="1.2" fill="#60d0c8" opacity="0.85"/>
<rect x="124.4" y="548.0" width="1.2" height="1.2" fill="#58c0a0" opacity="0.85"/>
<rect x="113.9" y="554.6" width="1.2" height="1.2" fill="#c8d848" opacity="0.85"/>
<rect x="59.5" y="542.4" width="1.2" height="1.2" fill="#d8b030" opacity="0.85"/>
<rect x="107.1" y="549.8" width="1.2" height="1.2" fill="#d8b030" opacity="0.85"/>
<rect x="125.3" y="538.9" width="1.2" height="1.2" fill="#a0d060" opacity="0.85"/>
<rect x="91.2" y="564.1" width="1.2" height="1.2" fill="#60d0c8" opacity="0.85"/>
<rect x="61.4" y="546.8" width="1.2" height="1.2" fill="#58c0a0" opacity="0.85"/>
<rect x="121.1" y="541.8" width="1.2" height="1.2" fill="#40b0d8" opacity="0.85"/>
<rect x="59.3" y="565.2" width="1.2" height="1.2" fill="#f0e070" opacity="0.85"/>
<rect x="112.7" y="562.1" width="1.2" height="1.2" fill="#58c0a0" opacity="0.85"/>
<rect x="137.0" y="567.4" width="1.2" height="1.2" fill="#58c0a0" opacity="0.85"/>
<rect x="94.1" y="567.8" width="1.2" height="1.2" fill="#40b0d8" opacity="0.85"/>
<rect x="140.7" y="554.3" width="1.2" height="1.2" fill="#c8d848" opacity="0.85"/>
<rect x="85.9" y="538.1" width="1.2" height="1.2" fill="#f0e070" opacity="0.85"/>
<rect x="111.6" y="560.7" width="1.2" height="1.2" fill="#58c0a0" opacity="0.85"/>
<rect x="141.8" y="543.0" width="1.2" height="1.2" fill="#58c0a0" opacity="0.85"/>
<rect x="122.0" y="569.1" width="1.2" height="1.2" fill="#a0d060" opacity="0.85"/>
<rect x="107.5" y="552.9" width="1.2" height="1.2" fill="#e0d040" opacity="0.85"/>
<rect x="64.3" y="546.1" width="1.2" height="1.2" fill="#c8d848" opacity="0.85"/>
<rect x="130.8" y="561.2" width="1.2" height="1.2" fill="#e0d040" opacity="0.85"/>
<rect x="88.6" y="553.0" width="1.2" height="1.2" fill="#c8d848" opacity="0.85"/>
<rect x="149.8" y="562.5" width="1.2" height="1.2" fill="#e0d040" opacity="0.85"/>
<rect x="69.4" y="542.3" width="1.2" height="1.2" fill="#c8d848" opacity="0.85"/>
<rect x="123.5" y="542.7" width="1.2" height="1.2" fill="#d8b030" opacity="0.85"/>
<rect x="122.9" y="553.3" width="1.2" height="1.2" fill="#60d0c8" opacity="0.85"/>
<rect x="114.2" y="552.5" width="1.2" height="1.2" fill="#60d0c8" opacity="0.85"/>
<rect x="64.2" y="545.5" width="1.2" height="1.2" fill="#c8d848" opacity="0.85"/>
<rect x="118.7" y="564.1" width="1.2" height="1.2" fill="#d8b030" opacity="0.85"/>
<rect x="63.3" y="558.1" width="1.2" height="1.2" fill="#f0e070" opacity="0.85"/>
<rect x="138.8" y="542.7" width="1.2" height="1.2" fill="#f0e070" opacity="0.85"/>
<rect x="66.4" y="562.0" width="1.2" height="1.2" fill="#58c0a0" opacity="0.85"/>
<rect x="103.0" y="570.8" width="1.2" height="1.2" fill="#a0d060" opacity="0.85"/>
<rect x="142.2" y="542.8" width="1.2" height="1.2" fill="#d8b030" opacity="0.85"/>
<rect x="71.9" y="560.1" width="1.2" height="1.2" fill="#d8b030" opacity="0.85"/>
<rect x="141.8" y="557.4" width="1.2" height="1.2" fill="#40b0d8" opacity="0.85"/>
<rect x="82.2" y="557.3" width="1.2" height="1.2" fill="#d8b030" opacity="0.85"/>
<rect x="134.6" y="547.9" width="1.2" height="1.2" fill="#60d0c8" opacity="0.85"/>
<rect x="132.3" y="568.2" width="1.2" height="1.2" fill="#58c0a0" opacity="0.85"/>
<rect x="125.8" y="544.3" width="1.2" height="1.2" fill="#e0d040" opacity="0.85"/>
<rect x="118.3" y="541.0" width="1.2" height="1.2" fill="#e0d040" opacity="0.85"/>
<rect x="66.4" y="542.4" width="1.2" height="1.2" fill="#58c0a0" opacity="0.85"/>
<rect x="79.9" y="568.7" width="1.2" height="1.2" fill="#58c0a0" opacity="0.85"/>
<rect x="146.6" y="541.8" width="1.2" height="1.2" fill="#e0d040" opacity="0.85"/>
<rect x="107.9" y="551.5" width="1.2" height="1.2" fill="#60d0c8" opacity="0.85"/>
<rect x="144.9" y="553.0" width="1.2" height="1.2" fill="#40b0d8" opacity="0.85"/>
<rect x="127.0" y="540.9" width="1.2" height="1.2" fill="#58c0a0" opacity="0.85"/>
<rect x="133.5" y="542.9" width="1.2" height="1.2" fill="#f0e070" opacity="0.85"/>
<rect x="90.6" y="546.2" width="1.2" height="1.2" fill="#a0d060" opacity="0.85"/>
<rect x="143.6" y="562.7" width="1.2" height="1.2" fill="#f0e070" opacity="0.85"/>
<rect x="92.8" y="563.3" width="1.2" height="1.2" fill="#a0d060" opacity="0.85"/>
<rect x="117.6" y="566.2" width="1.2" height="1.2" fill="#f0e070" opacity="0.85"/>
<rect x="146.4" y="550.7" width="1.2" height="1.2" fill="#e0d040" opacity="0.85"/>
<rect x="112.5" y="558.1" width="1.2" height="1.2" fill="#60d0c8" opacity="0.85"/>
<rect x="94.4" y="541.4" width="1.2" height="1.2" fill="#e0d040" opacity="0.85"/>
<rect x="75.1" y="544.8" width="1.2" height="1.2" fill="#58c0a0" opacity="0.85"/>
<rect x="139.8" y="554.8" width="1.2" height="1.2" fill="#a0d060" opacity="0.85"/>
<rect x="58.0" y="554.5" width="1.2" height="1.2" fill="#f0e070" opacity="0.85"/>
<rect x="87.7" y="554.2" width="1.2" height="1.2" fill="#40b0d8" opacity="0.85"/>
<rect x="72.2" y="543.6" width="1.2" height="1.2" fill="#a0d060" opacity="0.85"/>
<rect x="138.0" y="568.4" width="1.2" height="1.2" fill="#58c0a0" opacity="0.85"/>
<rect x="72.0" y="546.9" width="1.2" height="1.2" fill="#d8b030" opacity="0.85"/>
<rect x="133.3" y="564.3" width="1.2" height="1.2" fill="#40b0d8" opacity="0.85"/>
<rect x="61.1" y="569.4" width="1.2" height="1.2" fill="#a0d060" opacity="0.85"/>
<rect x="143.1" y="550.9" width="1.2" height="1.2" fill="#e0d040" opacity="0.85"/>
<rect x="121.3" y="561.6" width="1.2" height="1.2" fill="#58c0a0" opacity="0.85"/>
<rect x="136.1" y="543.5" width="1.2" height="1.2" fill="#a0d060" opacity="0.85"/>
<rect x="84.8" y="561.6" width="1.2" height="1.2" fill="#60d0c8" opacity="0.85"/>
<rect x="61.1" y="563.0" width="1.2" height="1.2" fill="#40b0d8" opacity="0.85"/>
<rect x="118.4" y="559.6" width="1.2" height="1.2" fill="#a0d060" opacity="0.85"/>
<rect x="120.6" y="544.5" width="1.2" height="1.2" fill="#a0d060" opacity="0.85"/>
<rect x="84.0" y="563.6" width="1.2" height="1.2" fill="#58c0a0" opacity="0.85"/>
<rect x="73.0" y="546.4" width="1.2" height="1.2" fill="#40b0d8" opacity="0.85"/>
<rect x="144.5" y="560.6" width="1.2" height="1.2" fill="#f0e070" opacity="0.85"/>
<rect x="124.8" y="547.5" width="1.2" height="1.2" fill="#58c0a0" opacity="0.85"/>
<rect x="63.6" y="565.3" width="1.2" height="1.2" fill="#f0e070" opacity="0.85"/>
<rect x="73.6" y="539.2" width="1.2" height="1.2" fill="#a0d060" opacity="0.85"/>
<rect x="144.4" y="563.1" width="1.2" height="1.2" fill="#40b0d8" opacity="0.85"/>
<rect x="140.7" y="555.2" width="1.2" height="1.2" fill="#58c0a0" opacity="0.85"/>
<rect x="62.9" y="546.5" width="1.2" height="1.2" fill="#e0d040" opacity="0.85"/>
<rect x="103.8" y="565.4" width="1.2" height="1.2" fill="#e0d040" opacity="0.85"/>
<rect x="81.5" y="552.3" width="1.2" height="1.2" fill="#d8b030" opacity="0.85"/>
<rect x="116.9" y="568.6" width="1.2" height="1.2" fill="#40b0d8" opacity="0.85"/>
<rect x="74.5" y="555.8" width="1.2" height="1.2" fill="#f0e070" opacity="0.85"/>
<rect x="75.3" y="546.2" width="1.2" height="1.2" fill="#a0d060" opacity="0.85"/>
<rect x="130.8" y="541.0" width="1.2" height="1.2" fill="#60d0c8" opacity="0.85"/>
<rect x="113.0" y="568.0" width="1.2" height="1.2" fill="#40b0d8" opacity="0.85"/>
<rect x="115.5" y="553.4" width="1.2" height="1.2" fill="#a0d060" opacity="0.85"/>
<rect x="102.8" y="558.0" width="1.2" height="1.2" fill="#f0e070" opacity="0.85"/>
<rect x="106.1" y="542.6" width="1.2" height="1.2" fill="#e0d040" opacity="0.85"/>
<rect x="142.0" y="548.8" width="1.2" height="1.2" fill="#58c0a0" opacity="0.85"/>
<rect x="140.0" y="573.0" width="1.2" height="1.2" fill="#c8d848" opacity="0.85"/>
<rect x="70.8" y="554.9" width="1.2" height="1.2" fill="#d8b030" opacity="0.85"/>
<rect x="133.4" y="549.0" width="1.2" height="1.2" fill="#60d0c8" opacity="0.85"/>
<rect x="107.4" y="554.5" width="1.2" height="1.2" fill="#c8d848" opacity="0.85"/>
<rect x="131.5" y="571.9" width="1.2" height="1.2" fill="#40b0d8" opacity="0.85"/>
<rect x="83.4" y="555.2" width="1.2" height="1.2" fill="#40b0d8" opacity="0.85"/>
<rect x="62.4" y="545.0" width="1.2" height="1.2" fill="#d8b030" opacity="0.85"/>
<rect x="139.2" y="569.0" width="1.2" height="1.2" fill="#c8d848" opacity="0.85"/>
<rect x="96.7" y="549.0" width="1.2" height="1.2" fill="#e0d040" opacity="0.85"/>
<rect x="140.4" y="560.9" width="1.2" height="1.2" fill="#60d0c8" opacity="0.85"/>
<rect x="110.9" y="553.5" width="1.2" height="1.2" fill="#e0d040" opacity="0.85"/>
<rect x="125.0" y="562.5" width="1.2" height="1.2" fill="#d8b030" opacity="0.85"/>
<rect x="67.8" y="566.2" width="1.2" height="1.2" fill="#60d0c8" opacity="0.85"/>
<rect x="87.6" y="548.7" width="1.2" height="1.2" fill="#60d0c8" opacity="0.85"/>
<rect x="82.2" y="561.7" width="1.2" height="1.2" fill="#d8b030" opacity="0.85"/>
<rect x="61.1" y="557.0" width="1.2" height="1.2" fill="#e0d040" opacity="0.85"/>
<rect x="60.5" y="539.8" width="1.2" height="1.2" fill="#60d0c8" opacity="0.85"/>
<rect x="134.0" y="553.3" width="1.2" height="1.2" fill="#d8b030" opacity="0.85"/>
<rect x="145.3" y="559.4" width="1.2" height="1.2" fill="#40b0d8" opacity="0.85"/>
<rect x="106.5" y="542.4" width="1.2" height="1.2" fill="#40b0d8" opacity="0.85"/>
<rect x="88.4" y="538.4" width="1.2" height="1.2" fill="#60d0c8" opacity="0.85"/>
<rect x="124.9" y="541.3" width="1.2" height="1.2" fill="#60d0c8" opacity="0.85"/>
<rect x="116.0" y="543.0" width="1.2" height="1.2" fill="#f0e070" opacity="0.85"/>
<rect x="131.1" y="542.1" width="1.2" height="1.2" fill="#a0d060" opacity="0.85"/>
<rect x="99.0" y="546.0" width="1.2" height="1.2" fill="#f0e070" opacity="0.85"/>
<rect x="73.8" y="539.7" width="1.2" height="1.2" fill="#60d0c8" opacity="0.85"/>
<rect x="107.0" y="571.9" width="1.2" height="1.2" fill="#e0d040" opacity="0.85"/>
<rect x="67.5" y="566.5" width="1.2" height="1.2" fill="#f0e070" opacity="0.85"/>
<rect x="121.1" y="545.3" width="1.2" height="1.2" fill="#e0d040" opacity="0.85"/>
<rect x="61.0" y="558.2" width="1.2" height="1.2" fill="#58c0a0" opacity="0.85"/>
<rect x="122.9" y="550.4" width="1.2" height="1.2" fill="#58c0a0" opacity="0.85"/>
<rect x="77.8" y="547.7" width="1.2" height="1.2" fill="#40b0d8" opacity="0.85"/>
<rect x="85.9" y="556.1" width="1.2" height="1.2" fill="#40b0d8" opacity="0.85"/>
<rect x="91.7" y="566.3" width="1.2" height="1.2" fill="#e0d040" opacity="0.85"/>
<rect x="114.9" y="552.0" width="1.2" height="1.2" fill="#60d0c8" opacity="0.85"/>
<rect x="71.1" y="546.3" width="1.2" height="1.2" fill="#f0e070" opacity="0.85"/>
<rect x="61.5" y="543.9" width="1.2" height="1.2" fill="#c8d848" opacity="0.85"/>
<rect x="127.3" y="547.9" width="1.2" height="1.2" fill="#40b0d8" opacity="0.85"/>
<rect x="131.3" y="564.4" width="1.2" height="1.2" fill="#58c0a0" opacity="0.85"/>
<rect x="120.8" y="568.2" width="1.2" height="1.2" fill="#c8d848" opacity="0.85"/>
<rect x="131.6" y="551.2" width="1.2" height="1.2" fill="#e0d040" opacity="0.85"/>
<rect x="67.5" y="559.2" width="1.2" height="1.2" fill="#60d0c8" opacity="0.85"/>
<rect x="132.8" y="538.8" width="1.2" height="1.2" fill="#e0d040" opacity="0.85"/>
<rect x="114.1" y="556.0" width="1.2" height="1.2" fill="#58c0a0" opacity="0.85"/>
<rect x="108.2" y="562.2" width="1.2" height="1.2" fill="#58c0a0" opacity="0.85"/>
<rect x="148.4" y="566.5" width="1.2" height="1.2" fill="#e0d040" opacity="0.85"/>
<rect x="107.4" y="566.0" width="1.2" height="1.2" fill="#a0d060" opacity="0.85"/>
<rect x="146.2" y="538.7" width="1.2" height="1.2" fill="#40b0d8" opacity="0.85"/>
<rect x="84.1" y="540.7" width="1.2" height="1.2" fill="#c8d848" opacity="0.85"/>
<rect x="129.2" y="559.4" width="1.2" height="1.2" fill="#f0e070" opacity="0.85"/>
<rect x="86.2" y="570.5" width="1.2" height="1.2" fill="#d8b030" opacity="0.85"/>
<rect x="143.5" y="546.2" width="1.2" height="1.2" fill="#e0d040" opacity="0.85"/>
<rect x="127.3" y="561.4" width="1.2" height="1.2" fill="#d8b030" opacity="0.85"/>
<rect x="140.5" y="562.1" width="1.2" height="1.2" fill="#40b0d8" opacity="0.85"/>
<rect x="102.4" y="541.2" width="1.2" height="1.2" fill="#c8d848" opacity="0.85"/>
<rect x="80.0" y="572.1" width="1.2" height="1.2" fill="#f0e070" opacity="0.85"/>
<rect x="94.2" y="538.1" width="1.2" height="1.2" fill="#f0e070" opacity="0.85"/>
<rect x="92.8" y="564.3" width="1.2" height="1.2" fill="#40b0d8" opacity="0.85"/>
<rect x="141.7" y="559.5" width="1.2" height="1.2" fill="#f0e070" opacity="0.85"/>
<rect x="87.8" y="567.5" width="1.2" height="1.2" fill="#a0d060" opacity="0.85"/>
<rect x="80.9" y="541.5" width="1.2" height="1.2" fill="#d8b030" opacity="0.85"/>
<rect x="86.1" y="547.4" width="1.2" height="1.2" fill="#c8d848" opacity="0.85"/>
<rect x="140.5" y="543.9" width="1.2" height="1.2" fill="#f0e070" opacity="0.85"/>
<rect x="128.5" y="545.9" width="1.2" height="1.2" fill="#c8d848" opacity="0.85"/>
<rect x="110.4" y="559.9" width="1.2" height="1.2" fill="#f0e070" opacity="0.85"/>
<rect x="96.4" y="552.9" width="1.2" height="1.2" fill="#40b0d8" opacity="0.85"/>
<rect x="85.8" y="547.8" width="1.2" height="1.2" fill="#a0d060" opacity="0.85"/>
<rect x="75.2" y="539.1" width="1.2" height="1.2" fill="#c8d848" opacity="0.85"/>
<rect x="85.2" y="557.4" width="1.2" height="1.2" fill="#60d0c8" opacity="0.85"/>
<rect x="97.9" y="549.4" width="1.2" height="1.2" fill="#c8d848" opacity="0.85"/>
<rect x="117.5" y="562.2" width="1.2" height="1.2" fill="#c8d848" opacity="0.85"/>
<rect x="63.6" y="555.0" width="1.2" height="1.2" fill="#c8d848" opacity="0.85"/>
<rect x="87.3" y="567.8" width="1.2" height="1.2" fill="#f0e070" opacity="0.85"/>
<rect x="143.3" y="546.0" width="1.2" height="1.2" fill="#58c0a0" opacity="0.85"/>
<rect x="135.3" y="538.1" width="1.2" height="1.2" fill="#60d0c8" opacity="0.85"/>
</g>
<polygon points="58.80,572.80 61.20,558.10 66.10,548.50 77.30,538.80 109.40,538.00 125.50,547.70 149.60,562.90 133.50,566.10 98.20,570.10" fill="url(#grain2)" />
<path d="M98,539 L114,549 L136.7,558" fill="none" stroke="#b08a30" stroke-width="1.0" opacity="0.7"/>
<path d="M58.8,572.8 L61.2,558.1 L66.1,548.5 L77.3,538.8 L109.4,538 L125.5,547.7 L149.6,562.9 L133.5,566.1 L98.2,570.1 Z" fill="none" stroke="#d49a30" stroke-width="1.0" />
<ellipse cx="157" cy="566" rx="6" ry="2.2" fill="none" stroke="#b8bcc4" stroke-width="0.7"/>
<rect x="133.80" y="604.00" width="30.10" height="4.00" fill="#fff" />
<text x="148.80" y="622.00" font-size="12" text-anchor="middle" fill="#fff" textLength="30.00" lengthAdjust="spacingAndGlyphs" >2 cm</text>
</g>
<rect x="16.40" y="456.80" width="158.40" height="177.50" fill="none" stroke="#111" stroke-width="1.3"/>
<rect x="178.60" y="457.00" width="117.10" height="85.20" fill="url(#gbg2)" />
<polygon points="212.90,484.00 231.30,485.50 250.00,487.50 253.00,485.00 259.90,486.00 258.90,512.60 251.70,509.50 231.30,521.70 212.90,516.60" fill="#56706a" />
<circle cx="214.50" cy="486.00" r="1.6" fill="#c89548" />
<circle cx="217.00" cy="488.00" r="1.4" fill="#c89548" />
<circle cx="220.00" cy="487.00" r="1.2" fill="#c89548" />
<circle cx="214.00" cy="491.00" r="1.1" fill="#c89548" />
<circle cx="214.50" cy="496.00" r="1.0" fill="#c89548" />
<circle cx="215.00" cy="501.00" r="0.9" fill="#c89548" />
<circle cx="214.00" cy="507.00" r="0.8" fill="#c89548" />
<circle cx="258.00" cy="487.00" r="1.0" fill="#c89548" />
<circle cx="253.00" cy="490.00" r="1.1" fill="#c89548" />
<circle cx="244.00" cy="505.50" r="1.2" fill="#c89548" />
<circle cx="224.00" cy="502.00" r="0.8" fill="#c89548" />
<circle cx="234.00" cy="516.00" r="1.0" fill="#c89548" />
<circle cx="228.00" cy="518.00" r="0.7" fill="#c89548" />
<circle cx="257.00" cy="511.00" r="0.8" fill="#c89548" />
<rect x="257.90" y="517.70" width="28.00" height="4.00" fill="#fff" />
<text x="271.40" y="536.20" font-size="12" text-anchor="middle" fill="#fff" textLength="27.50" lengthAdjust="spacingAndGlyphs" >1 cm</text>
<rect x="178.60" y="457.00" width="117.10" height="85.20" fill="none" stroke="#111" stroke-width="1.5"/>
<rect x="231" y="503.5" width="7" height="6.5" fill="none" stroke="#111" stroke-width="0.8" stroke-dasharray="1 1"/>
<line x1="231.00" y1="510.00" x2="181.00" y2="548.00" stroke="#111" stroke-width="1.3" stroke-dasharray="1.3 1.3"/>
<line x1="238.00" y1="510.00" x2="296.00" y2="548.00" stroke="#111" stroke-width="1.3" stroke-dasharray="1.3 1.3"/>
<rect x="179.80" y="549.20" width="117.90" height="83.80" fill="#37323a" />
<rect x="232.7" y="595.7" width="2" height="2" fill="#2a2426"/>
<rect x="201.5" y="591.7" width="1" height="1" fill="#302a38"/>
<rect x="215.3" y="557.0" width="1" height="2" fill="#302a38"/>
<rect x="256.2" y="600.3" width="1" height="1" fill="#585070"/>
<rect x="186.9" y="565.2" width="1" height="1" fill="#302a38"/>
<rect x="218.0" y="598.3" width="1" height="1" fill="#6a6680"/>
<rect x="238.2" y="604.2" width="2" height="1.5" fill="#55506a"/>
<rect x="296.2" y="631.6" width="1" height="1.5" fill="#4a4040"/>
<rect x="268.3" y="591.8" width="1" height="1" fill="#585070"/>
<rect x="226.6" y="619.3" width="2" height="1" fill="#4a4258"/>
<rect x="278.7" y="549.5" width="1" height="1" fill="#302a38"/>
<rect x="223.7" y="608.0" width="2" height="1" fill="#2a2426"/>
<rect x="270.7" y="571.8" width="1" height="1.5" fill="#4a4040"/>
<rect x="181.8" y="583.3" width="1" height="1" fill="#2a2426"/>
<rect x="262.4" y="550.4" width="2" height="2" fill="#3a3030"/>
<rect x="259.5" y="565.0" width="1" height="1" fill="#55506a"/>
<rect x="255.0" y="559.1" width="2" height="1" fill="#4a4258"/>
<rect x="211.4" y="629.6" width="1.5" height="1" fill="#2a2426"/>
<rect x="201.8" y="631.7" width="1" height="1" fill="#3a3030"/>
<rect x="204.8" y="570.8" width="1.5" height="1.5" fill="#55506a"/>
<rect x="188.6" y="556.9" width="1" height="1" fill="#4a4040"/>
<rect x="223.3" y="586.9" width="2" height="1" fill="#55506a"/>
<rect x="201.3" y="562.2" width="1" height="1" fill="#2a2426"/>
<rect x="198.5" y="601.4" width="1" height="2" fill="#302a38"/>
<rect x="250.3" y="584.3" width="1" height="1" fill="#4a4258"/>
<rect x="239.7" y="570.6" width="2" height="1.5" fill="#55506a"/>
<rect x="276.0" y="598.7" width="1.5" height="1" fill="#585070"/>
<rect x="194.7" y="589.0" width="1" height="1.5" fill="#2a2426"/>
<rect x="286.9" y="566.3" width="1" height="1" fill="#6a6680"/>
<rect x="227.9" y="570.0" width="1" height="1" fill="#6a6680"/>
<rect x="223.0" y="596.7" width="1" height="1" fill="#4a4040"/>
<rect x="196.1" y="586.7" width="1.5" height="1" fill="#4a4258"/>
<rect x="287.6" y="588.7" width="1.5" height="1.5" fill="#4a4258"/>
<rect x="182.5" y="602.0" width="2" height="1" fill="#6a6680"/>
<rect x="217.2" y="631.9" width="1" height="2" fill="#4a4040"/>
<rect x="265.9" y="623.8" width="1" height="1.5" fill="#4a4040"/>
<rect x="189.9" y="588.5" width="1" height="2" fill="#4a4258"/>
<rect x="280.6" y="596.8" width="2" height="2" fill="#4a4258"/>
<rect x="250.9" y="556.1" width="1" height="1.5" fill="#55506a"/>
<rect x="264.8" y="581.5" width="2" height="2" fill="#302a38"/>
<rect x="277.7" y="556.4" width="1" height="1.5" fill="#585070"/>
<rect x="236.0" y="568.5" width="1" height="2" fill="#302a38"/>
<rect x="209.8" y="550.4" width="1.5" height="1" fill="#2a2426"/>
<rect x="240.4" y="611.7" width="1.5" height="2" fill="#302a38"/>
<rect x="283.9" y="576.5" width="1.5" height="1" fill="#55506a"/>
<rect x="273.6" y="611.8" width="1" height="1" fill="#55506a"/>
<rect x="205.6" y="625.5" width="1" height="1" fill="#3a3030"/>
<rect x="237.8" y="618.6" width="1" height="1" fill="#6a6680"/>
<rect x="275.7" y="558.8" width="2" height="1.5" fill="#2a2426"/>
<rect x="276.8" y="581.1" width="2" height="1.5" fill="#302a38"/>
<rect x="217.3" y="617.9" width="1.5" height="1" fill="#6a6680"/>
<rect x="246.5" y="575.0" width="1" height="1" fill="#55506a"/>
<rect x="233.0" y="551.5" width="1.5" height="1" fill="#3a3030"/>
<rect x="272.8" y="630.7" width="1" height="2" fill="#585070"/>
<rect x="253.4" y="603.5" width="1.5" height="1" fill="#2a2426"/>
<rect x="203.2" y="588.7" width="1" height="1" fill="#302a38"/>
<rect x="242.3" y="552.5" width="1" height="1.5" fill="#4a4040"/>
<rect x="242.9" y="627.6" width="1" height="2" fill="#2a2426"/>
<rect x="190.2" y="626.4" width="2" height="1" fill="#302a38"/>
<rect x="232.8" y="601.1" width="1" height="2" fill="#4a4040"/>
<rect x="234.0" y="603.2" width="1" height="1" fill="#585070"/>
<rect x="204.8" y="623.7" width="1" height="1.5" fill="#4a4040"/>
<rect x="210.5" y="608.8" width="1" height="1.5" fill="#585070"/>
<rect x="184.3" y="577.7" width="2" height="1.5" fill="#302a38"/>
<rect x="287.2" y="567.5" width="1" height="2" fill="#4a4258"/>
<rect x="200.1" y="577.1" width="1" height="2" fill="#3a3030"/>
<rect x="296.5" y="623.8" width="2" height="2" fill="#585070"/>
<rect x="268.3" y="585.8" width="1.5" height="1" fill="#6a6680"/>
<rect x="216.3" y="581.0" width="1" height="1.5" fill="#3a3030"/>
<rect x="292.8" y="592.7" width="2" height="1" fill="#55506a"/>
<rect x="242.4" y="591.0" width="2" height="1" fill="#4a4258"/>
<rect x="240.1" y="582.5" width="1" height="2" fill="#585070"/>
<rect x="260.5" y="554.9" width="2" height="2" fill="#55506a"/>
<rect x="211.4" y="588.5" width="1" height="1.5" fill="#55506a"/>
<rect x="285.0" y="626.7" width="2" height="1.5" fill="#585070"/>
<rect x="202.3" y="600.5" width="1.5" height="1" fill="#4a4258"/>
<rect x="184.2" y="562.3" width="1" height="1.5" fill="#4a4040"/>
<rect x="264.3" y="569.7" width="2" height="1" fill="#302a38"/>
<rect x="265.1" y="559.6" width="1.5" height="1" fill="#55506a"/>
<rect x="182.7" y="601.7" width="1" height="1" fill="#2a2426"/>
<rect x="241.7" y="619.7" width="1" height="1" fill="#4a4040"/>
<rect x="285.2" y="575.6" width="1.5" height="1" fill="#2a2426"/>
<rect x="270.7" y="565.5" width="1" height="1" fill="#2a2426"/>
<rect x="195.4" y="556.8" width="2" height="1" fill="#55506a"/>
<rect x="276.9" y="584.3" width="1" height="1" fill="#55506a"/>
<rect x="253.2" y="615.4" width="1" height="1" fill="#4a4040"/>
<rect x="286.2" y="629.4" width="1" height="1.5" fill="#2a2426"/>
<rect x="273.5" y="589.3" width="1" height="1" fill="#302a38"/>
<rect x="197.1" y="564.7" width="1" height="1" fill="#3a3030"/>
<rect x="295.4" y="626.0" width="1" height="1" fill="#3a3030"/>
<rect x="290.8" y="587.6" width="1" height="1.5" fill="#55506a"/>
<rect x="234.4" y="592.0" width="2" height="1" fill="#4a4040"/>
<rect x="181.5" y="607.3" width="1" height="1" fill="#55506a"/>
<rect x="232.9" y="610.5" width="2" height="1" fill="#3a3030"/>
<rect x="191.0" y="614.9" width="1.5" height="1" fill="#55506a"/>
<rect x="246.4" y="565.3" width="1.5" height="1.5" fill="#6a6680"/>
<rect x="286.2" y="610.9" width="1" height="2" fill="#3a3030"/>
<rect x="284.4" y="622.1" width="1.5" height="2" fill="#3a3030"/>
<rect x="227.3" y="609.1" width="1" height="1.5" fill="#6a6680"/>
<rect x="234.6" y="550.4" width="1.5" height="1" fill="#2a2426"/>
<rect x="211.8" y="628.8" width="1.5" height="1.5" fill="#2a2426"/>
<rect x="256.9" y="596.5" width="1" height="2" fill="#302a38"/>
<rect x="254.8" y="607.4" width="2" height="1" fill="#585070"/>
<rect x="251.7" y="610.5" width="1.5" height="2" fill="#55506a"/>
<rect x="238.8" y="612.3" width="2" height="1" fill="#585070"/>
<rect x="210.1" y="572.2" width="1.5" height="2" fill="#585070"/>
<rect x="254.3" y="616.3" width="1" height="1" fill="#55506a"/>
<rect x="288.4" y="562.7" width="2" height="1" fill="#302a38"/>
<rect x="243.1" y="598.7" width="2" height="2" fill="#55506a"/>
<rect x="213.1" y="582.4" width="1.5" height="1.5" fill="#6a6680"/>
<rect x="236.3" y="571.8" width="1.5" height="1.5" fill="#4a4258"/>
<rect x="181.6" y="569.7" width="1" height="1" fill="#55506a"/>
<rect x="267.9" y="581.7" width="1.5" height="2" fill="#4a4258"/>
<rect x="247.8" y="609.2" width="1.5" height="1" fill="#2a2426"/>
<rect x="230.0" y="588.9" width="1" height="1" fill="#585070"/>
<rect x="289.2" y="609.1" width="2" height="1" fill="#2a2426"/>
<rect x="250.3" y="559.0" width="2" height="2" fill="#585070"/>
<rect x="203.7" y="553.8" width="1" height="1" fill="#4a4040"/>
<rect x="231.6" y="604.6" width="2" height="1.5" fill="#55506a"/>
<rect x="222.4" y="610.9" width="1" height="1.5" fill="#3a3030"/>
<rect x="207.8" y="558.9" width="1.5" height="1.5" fill="#6a6680"/>
<rect x="211.6" y="606.0" width="1" height="1.5" fill="#2a2426"/>
<rect x="202.1" y="570.0" width="1" height="1" fill="#4a4258"/>
<rect x="181.1" y="570.9" width="1" height="1" fill="#585070"/>
<rect x="205.9" y="572.5" width="1" height="1" fill="#2a2426"/>
<rect x="253.5" y="580.3" width="2" height="1.5" fill="#2a2426"/>
<rect x="219.4" y="590.3" width="1" height="1" fill="#585070"/>
<rect x="232.1" y="617.3" width="1" height="2" fill="#55506a"/>
<rect x="267.1" y="581.7" width="1" height="1.5" fill="#3a3030"/>
<rect x="256.2" y="631.1" width="1.5" height="1.5" fill="#3a3030"/>
<rect x="229.8" y="580.0" width="1" height="2" fill="#4a4040"/>
<rect x="189.1" y="556.3" width="2" height="2" fill="#6a6680"/>
<rect x="275.9" y="550.3" width="1.5" height="1" fill="#585070"/>
<rect x="261.0" y="590.3" width="1.5" height="1.5" fill="#3a3030"/>
<rect x="205.5" y="603.7" width="1.5" height="1.5" fill="#585070"/>
<rect x="217.6" y="585.9" width="1.5" height="2" fill="#6a6680"/>
<rect x="233.4" y="567.8" width="1" height="1" fill="#4a4040"/>
<rect x="276.5" y="551.5" width="2" height="2" fill="#2a2426"/>
<rect x="266.1" y="579.9" width="2" height="1" fill="#3a3030"/>
<rect x="200.6" y="612.1" width="1.5" height="1" fill="#2a2426"/>
<rect x="240.1" y="594.4" width="1.5" height="1" fill="#55506a"/>
<rect x="187.5" y="594.6" width="1" height="1.5" fill="#585070"/>
<rect x="211.9" y="558.2" width="1.5" height="1" fill="#4a4258"/>
<rect x="253.9" y="561.4" width="2" height="1" fill="#2a2426"/>
<rect x="237.0" y="624.4" width="1.5" height="2" fill="#55506a"/>
<rect x="220.8" y="616.1" width="1.5" height="1" fill="#302a38"/>
<rect x="236.9" y="615.9" width="1" height="1" fill="#55506a"/>
<rect x="268.2" y="630.8" width="1.5" height="1" fill="#55506a"/>
<rect x="277.1" y="622.8" width="1" height="1.5" fill="#4a4258"/>
<rect x="273.5" y="584.3" width="2" height="1" fill="#2a2426"/>
<rect x="266.4" y="631.3" width="2" height="1" fill="#4a4040"/>
<rect x="203.8" y="584.6" width="1.5" height="1.5" fill="#4a4258"/>
<rect x="234.9" y="609.8" width="1.5" height="1" fill="#3a3030"/>
<rect x="286.3" y="611.6" width="1" height="2" fill="#4a4258"/>
<rect x="216.4" y="565.8" width="1.5" height="1" fill="#2a2426"/>
<rect x="249.9" y="588.4" width="1" height="2" fill="#3a3030"/>
<rect x="284.2" y="582.7" width="1.5" height="2" fill="#6a6680"/>
<rect x="236.5" y="582.7" width="1.5" height="1" fill="#302a38"/>
<rect x="280.5" y="582.5" width="1" height="1" fill="#55506a"/>
<rect x="293.7" y="615.1" width="1.5" height="1" fill="#2a2426"/>
<rect x="283.9" y="621.6" width="1.5" height="2" fill="#2a2426"/>
<rect x="263.1" y="599.5" width="1" height="2" fill="#3a3030"/>
<rect x="269.9" y="561.4" width="1" height="1.5" fill="#4a4258"/>
<rect x="197.6" y="613.1" width="1" height="1" fill="#3a3030"/>
<rect x="275.8" y="556.3" width="1.5" height="1" fill="#302a38"/>
<rect x="260.8" y="556.3" width="1.5" height="1" fill="#2a2426"/>
<rect x="228.6" y="625.1" width="1" height="2" fill="#2a2426"/>
<rect x="184.3" y="583.6" width="2" height="1" fill="#6a6680"/>
<rect x="216.8" y="583.0" width="1.5" height="2" fill="#585070"/>
<rect x="221.9" y="606.2" width="1" height="2" fill="#302a38"/>
<rect x="267.0" y="614.2" width="1" height="2" fill="#4a4258"/>
<rect x="280.6" y="608.2" width="2" height="1" fill="#6a6680"/>
<rect x="245.7" y="587.3" width="1" height="1" fill="#3a3030"/>
<rect x="213.8" y="580.5" width="1.5" height="1.5" fill="#55506a"/>
<rect x="244.7" y="556.7" width="1" height="1" fill="#55506a"/>
<rect x="265.2" y="576.7" width="1.5" height="2" fill="#4a4040"/>
<rect x="232.1" y="581.1" width="1" height="1" fill="#585070"/>
<rect x="195.3" y="601.5" width="1" height="1" fill="#2a2426"/>
<rect x="226.9" y="618.5" width="1" height="1" fill="#2a2426"/>
<rect x="183.8" y="631.0" width="2" height="2" fill="#585070"/>
<rect x="219.8" y="617.4" width="1" height="1" fill="#3a3030"/>
<rect x="275.7" y="581.3" width="1.5" height="2" fill="#4a4258"/>
<rect x="264.7" y="600.1" width="1.5" height="1" fill="#4a4258"/>
<rect x="210.4" y="565.1" width="1.5" height="2" fill="#585070"/>
<rect x="244.9" y="566.4" width="1.5" height="1.5" fill="#585070"/>
<rect x="251.2" y="562.6" width="1.5" height="1" fill="#4a4040"/>
<rect x="251.3" y="591.9" width="1" height="1" fill="#4a4258"/>
<rect x="253.1" y="565.8" width="1" height="1" fill="#2a2426"/>
<rect x="235.7" y="583.9" width="1.5" height="1.5" fill="#585070"/>
<rect x="288.2" y="579.3" width="2" height="1" fill="#302a38"/>
<rect x="293.4" y="560.7" width="1" height="1.5" fill="#3a3030"/>
<rect x="285.9" y="631.4" width="1.5" height="1" fill="#585070"/>
<rect x="288.8" y="549.8" width="1.5" height="1" fill="#4a4040"/>
<rect x="276.8" y="564.8" width="1" height="2" fill="#4a4258"/>
<rect x="227.0" y="614.1" width="1" height="1.5" fill="#55506a"/>
<rect x="251.7" y="602.3" width="1" height="1" fill="#2a2426"/>
<rect x="228.0" y="552.2" width="2" height="1" fill="#55506a"/>
<rect x="200.2" y="592.4" width="1.5" height="1" fill="#4a4040"/>
<rect x="186.2" y="614.2" width="1" height="2" fill="#302a38"/>
<rect x="249.9" y="588.3" width="2" height="2" fill="#6a6680"/>
<rect x="236.6" y="631.6" width="2" height="2" fill="#585070"/>
<rect x="245.9" y="624.2" width="1.5" height="2" fill="#55506a"/>
<rect x="285.3" y="576.0" width="1" height="1.5" fill="#55506a"/>
<rect x="265.3" y="598.8" width="1.5" height="1" fill="#2a2426"/>
<rect x="194.5" y="586.4" width="2" height="1" fill="#302a38"/>
<rect x="261.0" y="592.9" width="1" height="1.5" fill="#55506a"/>
<rect x="289.5" y="622.1" width="1.5" height="2" fill="#3a3030"/>
<rect x="205.8" y="611.1" width="1" height="1" fill="#585070"/>
<rect x="240.5" y="560.2" width="2" height="1" fill="#6a6680"/>
<rect x="208.4" y="574.2" width="1.5" height="1" fill="#585070"/>
<rect x="231.3" y="586.6" width="2" height="1" fill="#4a4040"/>
<rect x="260.7" y="568.5" width="1.5" height="1" fill="#302a38"/>
<rect x="284.7" y="574.9" width="2" height="1" fill="#302a38"/>
<rect x="282.4" y="566.2" width="1" height="1" fill="#4a4040"/>
<rect x="277.6" y="578.7" width="2" height="1" fill="#3a3030"/>
<rect x="254.0" y="607.1" width="1" height="1" fill="#2a2426"/>
<rect x="290.6" y="630.0" width="1" height="1.5" fill="#4a4040"/>
<rect x="292.0" y="572.1" width="2" height="1" fill="#4a4040"/>
<rect x="261.1" y="626.9" width="2" height="2" fill="#585070"/>
<rect x="199.7" y="620.6" width="1" height="1" fill="#6a6680"/>
<rect x="201.1" y="568.9" width="1.5" height="1.5" fill="#4a4040"/>
<rect x="273.6" y="592.8" width="1" height="1" fill="#6a6680"/>
<rect x="284.3" y="564.4" width="1" height="1.5" fill="#3a3030"/>
<rect x="254.6" y="556.9" width="1" height="2" fill="#585070"/>
<rect x="241.8" y="553.2" width="1.5" height="1.5" fill="#55506a"/>
<rect x="273.6" y="556.7" width="1.5" height="1" fill="#2a2426"/>
<rect x="200.9" y="610.1" width="1" height="1" fill="#3a3030"/>
<rect x="295.1" y="552.3" width="2" height="2" fill="#4a4258"/>
<rect x="288.3" y="590.7" width="1" height="1" fill="#4a4040"/>
<rect x="217.4" y="589.4" width="1" height="1.5" fill="#3a3030"/>
<rect x="249.2" y="613.1" width="1" height="2" fill="#2a2426"/>
<rect x="257.9" y="594.7" width="1.5" height="1" fill="#6a6680"/>
<rect x="237.0" y="567.8" width="2" height="1.5" fill="#4a4258"/>
<rect x="203.6" y="629.6" width="1" height="2" fill="#3a3030"/>
<rect x="217.9" y="599.7" width="2" height="2" fill="#302a38"/>
<rect x="264.2" y="620.2" width="1" height="1" fill="#585070"/>
<rect x="285.7" y="596.4" width="1" height="1" fill="#4a4258"/>
<rect x="216.2" y="553.0" width="1.5" height="1.5" fill="#302a38"/>
<rect x="190.3" y="617.2" width="1" height="2" fill="#6a6680"/>
<rect x="208.9" y="590.5" width="2" height="1" fill="#4a4040"/>
<rect x="227.8" y="579.6" width="1" height="1" fill="#3a3030"/>
<rect x="237.0" y="612.3" width="1" height="1" fill="#302a38"/>
<rect x="240.8" y="630.8" width="1" height="1" fill="#55506a"/>
<rect x="283.7" y="561.2" width="2" height="1.5" fill="#302a38"/>
<rect x="229.4" y="555.8" width="1" height="1" fill="#6a6680"/>
<rect x="209.5" y="595.0" width="1" height="2" fill="#302a38"/>
<rect x="190.0" y="568.2" width="1.5" height="1.5" fill="#2a2426"/>
<rect x="184.6" y="582.8" width="1" height="1.5" fill="#3a3030"/>
<rect x="233.9" y="581.9" width="1" height="2" fill="#55506a"/>
<rect x="271.0" y="567.3" width="1.5" height="1" fill="#3a3030"/>
<rect x="272.4" y="615.8" width="2" height="1" fill="#55506a"/>
<rect x="205.0" y="588.1" width="1.5" height="2" fill="#302a38"/>
<rect x="237.1" y="601.2" width="1" height="2" fill="#2a2426"/>
<rect x="242.9" y="584.1" width="1" height="1.5" fill="#4a4040"/>
<rect x="290.5" y="600.7" width="1" height="1.5" fill="#55506a"/>
<rect x="246.1" y="603.1" width="1" height="1.5" fill="#585070"/>
<rect x="222.1" y="562.2" width="1.5" height="1" fill="#2a2426"/>
<rect x="264.3" y="624.3" width="1" height="1.5" fill="#55506a"/>
<rect x="232.4" y="620.0" width="2" height="1.5" fill="#6a6680"/>
<rect x="269.8" y="592.3" width="1" height="1.5" fill="#55506a"/>
<rect x="250.8" y="589.8" width="1" height="1" fill="#3a3030"/>
<rect x="183.7" y="575.3" width="2" height="2" fill="#3a3030"/>
<rect x="240.2" y="594.7" width="1.5" height="2" fill="#55506a"/>
<rect x="197.1" y="566.4" width="1.5" height="2" fill="#55506a"/>
<rect x="195.9" y="592.1" width="1.5" height="1" fill="#585070"/>
<rect x="214.0" y="578.0" width="1" height="1" fill="#4a4258"/>
<rect x="278.8" y="611.1" width="2" height="1" fill="#6a6680"/>
<rect x="256.9" y="555.0" width="1" height="1.5" fill="#585070"/>
<rect x="291.3" y="621.1" width="1" height="1.5" fill="#585070"/>
<rect x="273.1" y="559.4" width="2" height="1" fill="#302a38"/>
<rect x="224.7" y="576.6" width="2" height="1.5" fill="#2a2426"/>
<rect x="198.5" y="582.7" width="2" height="1" fill="#4a4040"/>
<rect x="257.5" y="569.3" width="1" height="1.5" fill="#55506a"/>
<rect x="273.7" y="589.0" width="1.5" height="1.5" fill="#4a4258"/>
<rect x="285.1" y="559.4" width="1" height="2" fill="#6a6680"/>
<rect x="186.4" y="590.4" width="1.5" height="2" fill="#4a4040"/>
<rect x="283.2" y="555.5" width="1" height="1.5" fill="#4a4040"/>
<rect x="283.9" y="596.2" width="1.5" height="1" fill="#302a38"/>
<rect x="224.8" y="577.7" width="1.5" height="1" fill="#2a2426"/>
<rect x="269.9" y="601.3" width="2" height="2" fill="#585070"/>
<rect x="212.2" y="617.9" width="2" height="2" fill="#55506a"/>
<rect x="184.4" y="560.7" width="1.5" height="1.5" fill="#302a38"/>
<rect x="222.0" y="630.1" width="1" height="1" fill="#6a6680"/>
<rect x="206.6" y="605.6" width="1" height="1" fill="#55506a"/>
<rect x="180.4" y="594.6" width="1" height="1.5" fill="#6a6680"/>
<rect x="220.4" y="622.6" width="1.5" height="1" fill="#55506a"/>
<rect x="260.0" y="629.0" width="1" height="1" fill="#4a4040"/>
<rect x="252.4" y="590.0" width="1.5" height="1.5" fill="#55506a"/>
<rect x="213.3" y="611.3" width="2" height="1" fill="#2a2426"/>
<rect x="222.2" y="607.8" width="1" height="1" fill="#585070"/>
<rect x="275.3" y="622.6" width="1.5" height="1" fill="#302a38"/>
<rect x="239.7" y="605.5" width="1" height="1" fill="#55506a"/>
<rect x="281.3" y="553.9" width="1.5" height="2" fill="#55506a"/>
<rect x="209.5" y="601.9" width="1.5" height="1.5" fill="#3a3030"/>
<rect x="218.9" y="612.1" width="1" height="2" fill="#3a3030"/>
<rect x="252.6" y="618.1" width="1" height="1" fill="#2a2426"/>
<rect x="223.9" y="604.7" width="1" height="1" fill="#4a4258"/>
<rect x="235.0" y="606.7" width="1" height="1.5" fill="#6a6680"/>
<rect x="228.8" y="601.6" width="2" height="2" fill="#3a3030"/>
<rect x="185.7" y="608.3" width="1" height="1" fill="#2a2426"/>
<rect x="213.3" y="609.8" width="1" height="2" fill="#4a4040"/>
<rect x="285.4" y="618.2" width="2" height="1" fill="#4a4040"/>
<rect x="187.8" y="585.7" width="1.5" height="1" fill="#55506a"/>
<rect x="264.1" y="583.2" width="1" height="2" fill="#2a2426"/>
<rect x="243.6" y="615.5" width="1" height="2" fill="#3a3030"/>
<rect x="277.1" y="595.4" width="1.5" height="2" fill="#55506a"/>
<rect x="194.0" y="576.2" width="1" height="1.5" fill="#3a3030"/>
<rect x="211.9" y="582.5" width="1.5" height="1" fill="#585070"/>
<rect x="236.2" y="579.7" width="1.5" height="1" fill="#3a3030"/>
<rect x="187.5" y="623.1" width="1.5" height="1" fill="#4a4258"/>
<rect x="201.3" y="589.4" width="1" height="2" fill="#302a38"/>
<rect x="183.7" y="578.5" width="2" height="1" fill="#2a2426"/>
<rect x="244.1" y="603.7" width="1.5" height="1.5" fill="#2a2426"/>
<rect x="289.4" y="620.8" width="2" height="1" fill="#3a3030"/>
<rect x="279.9" y="627.4" width="1" height="1" fill="#6a6680"/>
<rect x="221.8" y="611.7" width="1.5" height="1" fill="#302a38"/>
<rect x="181.2" y="566.8" width="1.5" height="1" fill="#6a6680"/>
<rect x="274.4" y="614.9" width="2" height="2" fill="#6a6680"/>
<rect x="273.6" y="617.8" width="1" height="2" fill="#55506a"/>
<rect x="277.9" y="583.2" width="1" height="1" fill="#3a3030"/>
<rect x="206.5" y="581.5" width="1.5" height="1.5" fill="#4a4040"/>
<rect x="253.0" y="586.6" width="1.5" height="1.5" fill="#585070"/>
<rect x="285.4" y="576.0" width="1" height="1.5" fill="#4a4040"/>
<rect x="204.9" y="564.4" width="1" height="1" fill="#6a6680"/>
<rect x="259.2" y="564.1" width="1" height="1" fill="#3a3030"/>
<rect x="223.4" y="564.5" width="1" height="1" fill="#55506a"/>
<rect x="238.5" y="582.8" width="1.5" height="1" fill="#4a4258"/>
<rect x="282.6" y="576.0" width="1" height="1.5" fill="#55506a"/>
<rect x="235.1" y="626.9" width="2" height="2" fill="#3a3030"/>
<rect x="274.7" y="555.3" width="2" height="1.5" fill="#3a3030"/>
<rect x="270.6" y="592.8" width="1" height="1" fill="#55506a"/>
<rect x="286.1" y="554.1" width="1.5" height="2" fill="#55506a"/>
<rect x="238.8" y="596.3" width="1" height="1" fill="#302a38"/>
<rect x="230.8" y="588.0" width="2" height="1" fill="#55506a"/>
<rect x="250.0" y="596.8" width="1" height="2" fill="#302a38"/>
<rect x="213.1" y="553.3" width="1" height="1.5" fill="#3a3030"/>
<rect x="242.6" y="576.6" width="1.5" height="1.5" fill="#2a2426"/>
<rect x="265.8" y="631.1" width="2" height="1" fill="#3a3030"/>
<rect x="267.7" y="623.5" width="1" height="1" fill="#3a3030"/>
<rect x="277.9" y="603.1" width="1" height="1" fill="#585070"/>
<rect x="239.6" y="631.5" width="1" height="1" fill="#4a4258"/>
<rect x="262.9" y="570.2" width="1.5" height="2" fill="#2a2426"/>
<rect x="242.5" y="620.9" width="1" height="2" fill="#6a6680"/>
<rect x="292.0" y="569.2" width="1" height="2" fill="#302a38"/>
<rect x="282.1" y="555.5" width="2" height="1" fill="#585070"/>
<rect x="272.8" y="562.0" width="1.5" height="1" fill="#585070"/>
<rect x="218.9" y="626.1" width="1" height="1.5" fill="#585070"/>
<rect x="228.5" y="600.2" width="1" height="2" fill="#302a38"/>
<rect x="188.4" y="631.0" width="1" height="1.5" fill="#2a2426"/>
<rect x="245.2" y="631.5" width="2" height="1" fill="#4a4040"/>
<rect x="261.5" y="619.2" width="1.5" height="1" fill="#2a2426"/>
<rect x="201.0" y="560.1" width="2" height="1" fill="#3a3030"/>
<rect x="212.4" y="570.8" width="1.5" height="1.5" fill="#6a6680"/>
<rect x="202.9" y="631.6" width="1" height="1.5" fill="#6a6680"/>
<rect x="269.7" y="566.0" width="1" height="1.5" fill="#55506a"/>
<rect x="223.6" y="600.1" width="1.5" height="2" fill="#3a3030"/>
<rect x="239.0" y="627.2" width="1.5" height="2" fill="#2a2426"/>
<rect x="237.4" y="559.2" width="1" height="1.5" fill="#585070"/>
<rect x="258.8" y="587.0" width="2" height="2" fill="#2a2426"/>
<rect x="266.6" y="599.1" width="2" height="1" fill="#4a4040"/>
<rect x="228.8" y="572.7" width="2" height="1.5" fill="#6a6680"/>
<rect x="257.1" y="550.5" width="1" height="1" fill="#55506a"/>
<rect x="223.7" y="598.4" width="1.5" height="2" fill="#55506a"/>
<rect x="212.4" y="557.9" width="1" height="1" fill="#302a38"/>
<rect x="284.4" y="556.8" width="1.5" height="1" fill="#4a4040"/>
<rect x="183.5" y="598.2" width="1.5" height="1" fill="#3a3030"/>
<rect x="234.7" y="579.3" width="2" height="1.5" fill="#302a38"/>
<rect x="258.2" y="599.5" width="1" height="1" fill="#55506a"/>
<rect x="230.5" y="568.5" width="1" height="1" fill="#585070"/>
<rect x="296.5" y="603.6" width="1" height="1" fill="#302a38"/>
<rect x="223.1" y="561.3" width="2" height="1" fill="#585070"/>
<rect x="180.4" y="628.6" width="1.5" height="2" fill="#585070"/>
<rect x="230.5" y="562.4" width="1.5" height="1.5" fill="#4a4258"/>
<rect x="192.7" y="583.6" width="1" height="1" fill="#6a6680"/>
<rect x="296.4" y="596.0" width="1" height="1" fill="#3a3030"/>
<rect x="257.2" y="591.6" width="1.5" height="1.5" fill="#4a4040"/>
<rect x="270.6" y="569.9" width="2" height="2" fill="#4a4258"/>
<rect x="295.3" y="598.1" width="1" height="1" fill="#302a38"/>
<rect x="196.0" y="623.6" width="1" height="1" fill="#3a3030"/>
<rect x="227.4" y="600.0" width="1" height="2" fill="#4a4258"/>
<rect x="206.7" y="615.3" width="1" height="2" fill="#3a3030"/>
<rect x="214.3" y="600.5" width="2" height="1" fill="#302a38"/>
<rect x="215.0" y="629.2" width="1" height="2" fill="#55506a"/>
<rect x="214.9" y="567.2" width="1" height="2" fill="#4a4040"/>
<rect x="284.3" y="566.3" width="1" height="1" fill="#55506a"/>
<rect x="252.9" y="571.6" width="1.5" height="1" fill="#4a4040"/>
<rect x="189.8" y="614.8" width="2" height="1.5" fill="#55506a"/>
<rect x="218.9" y="559.1" width="1.5" height="1" fill="#3a3030"/>
<rect x="241.5" y="594.7" width="2" height="1" fill="#585070"/>
<rect x="263.1" y="552.2" width="1.5" height="2" fill="#2a2426"/>
<rect x="240.6" y="593.0" width="1" height="1.5" fill="#55506a"/>
<rect x="249.1" y="558.2" width="1.5" height="1" fill="#4a4040"/>
<rect x="292.2" y="606.7" width="1.5" height="1" fill="#4a4258"/>
<rect x="216.7" y="590.6" width="1.5" height="1" fill="#585070"/>
<rect x="204.8" y="598.1" width="2" height="1.5" fill="#55506a"/>
<rect x="190.5" y="596.7" width="1" height="1" fill="#55506a"/>
<rect x="294.6" y="618.1" width="1.5" height="1" fill="#4a4040"/>
<rect x="197.4" y="562.4" width="1.5" height="1.5" fill="#4a4258"/>
<rect x="296.5" y="590.0" width="2" height="1" fill="#3a3030"/>
<rect x="288.0" y="602.2" width="1" height="1" fill="#4a4258"/>
<rect x="276.0" y="589.0" width="1.5" height="1" fill="#3a3030"/>
<rect x="271.0" y="585.8" width="1" height="2" fill="#302a38"/>
<rect x="258.9" y="615.6" width="2" height="1.5" fill="#585070"/>
<rect x="277.3" y="628.4" width="1.5" height="1" fill="#585070"/>
<rect x="226.3" y="606.5" width="1" height="1" fill="#585070"/>
<rect x="228.3" y="593.7" width="1" height="1" fill="#6a6680"/>
<rect x="235.0" y="552.1" width="2" height="2" fill="#2a2426"/>
<rect x="258.6" y="626.1" width="2" height="2" fill="#55506a"/>
<rect x="239.6" y="589.2" width="1" height="1.5" fill="#2a2426"/>
<rect x="181.7" y="617.4" width="1.5" height="2" fill="#55506a"/>
<rect x="232.8" y="598.1" width="2" height="1.5" fill="#3a3030"/>
<rect x="236.0" y="630.4" width="1.5" height="1" fill="#302a38"/>
<rect x="207.2" y="571.1" width="2" height="1" fill="#6a6680"/>
<rect x="287.4" y="615.7" width="1.5" height="2" fill="#2a2426"/>
<rect x="263.5" y="585.2" width="1" height="1" fill="#55506a"/>
<rect x="286.0" y="587.1" width="2" height="1" fill="#2a2426"/>
<rect x="201.7" y="600.6" width="1.5" height="1" fill="#4a4258"/>
<rect x="295.7" y="578.5" width="1" height="2" fill="#4a4040"/>
<rect x="237.0" y="586.4" width="1.5" height="1.5" fill="#585070"/>
<rect x="208.8" y="562.4" width="1" height="1.5" fill="#585070"/>
<rect x="180.10" y="563.40" width="6.4" height="6.4" fill="#ece476" filter="url(#glow)"/>
<rect x="180.70" y="564.00" width="5.2" height="5.2" fill="#f6f2a4"/>
<rect x="210.80" y="562.10" width="6.4" height="6.4" fill="#ece476" filter="url(#glow)"/>
<rect x="211.40" y="562.70" width="5.2" height="5.2" fill="#f6f2a4"/>
<rect x="242.40" y="560.80" width="6.4" height="6.4" fill="#ece476" filter="url(#glow)"/>
<rect x="243.00" y="561.40" width="5.2" height="5.2" fill="#f6f2a4"/>
<rect x="274.10" y="559.50" width="6.4" height="6.4" fill="#ece476" filter="url(#glow)"/>
<rect x="274.70" y="560.10" width="5.2" height="5.2" fill="#f6f2a4"/>
<rect x="181.30" y="596.10" width="6.4" height="6.4" fill="#ece476" filter="url(#glow)"/>
<rect x="181.90" y="596.70" width="5.2" height="5.2" fill="#f6f2a4"/>
<rect x="213.20" y="594.80" width="6.4" height="6.4" fill="#ece476" filter="url(#glow)"/>
<rect x="213.80" y="595.40" width="5.2" height="5.2" fill="#f6f2a4"/>
<rect x="244.40" y="593.50" width="6.4" height="6.4" fill="#ece476" filter="url(#glow)"/>
<rect x="245.00" y="594.10" width="5.2" height="5.2" fill="#f6f2a4"/>
<rect x="275.80" y="592.20" width="6.4" height="6.4" fill="#ece476" filter="url(#glow)"/>
<rect x="276.40" y="592.80" width="5.2" height="5.2" fill="#f6f2a4"/>
<rect x="183.80" y="624.70" width="6.4" height="6.4" fill="#ece476" filter="url(#glow)"/>
<rect x="184.40" y="625.30" width="5.2" height="5.2" fill="#f6f2a4"/>
<rect x="214.80" y="624.70" width="6.4" height="6.4" fill="#ece476" filter="url(#glow)"/>
<rect x="215.40" y="625.30" width="5.2" height="5.2" fill="#f6f2a4"/>
<rect x="246.50" y="624.70" width="6.4" height="6.4" fill="#ece476" filter="url(#glow)"/>
<rect x="247.10" y="625.30" width="5.2" height="5.2" fill="#f6f2a4"/>
<rect x="278.20" y="624.70" width="6.4" height="6.4" fill="#ece476" filter="url(#glow)"/>
<rect x="278.80" y="625.30" width="5.2" height="5.2" fill="#f6f2a4"/>
<rect x="251.70" y="605.80" width="25.00" height="3.20" fill="#fff" />
<text x="267.30" y="622.00" font-size="12" text-anchor="middle" fill="#fff" textLength="37.00" lengthAdjust="spacingAndGlyphs" >50 µm</text>
<rect x="179.80" y="549.20" width="117.90" height="83.80" fill="none" stroke="#111" stroke-width="1.2" stroke-dasharray="1.2 1"/>
<rect x="208.20" y="591.50" width="14.50" height="12.90" fill="none" stroke="#3fa8e0" stroke-width="1.1" stroke-dasharray="1.2 1.3" fill="none"/>
<line x1="208.20" y1="604.40" x2="118.00" y2="638.00" stroke="#3fa8e0" stroke-width="1.1" stroke-dasharray="1.2 1.3"/>
<line x1="222.70" y1="604.40" x2="300.00" y2="637.30" stroke="#3fa8e0" stroke-width="1.1" stroke-dasharray="1.2 1.3"/>
<rect x="15.90" y="639.30" width="100.90" height="40.90" fill="url(#gsem)" />
<polygon points="23.50,668.00 31.00,647.00 45.00,647.00 50.50,668.00" fill="#86867f" filter="url(#blur2)"/>
<rect x="30.00" y="651.00" width="16.00" height="3.00" fill="#a4a49c" filter="url(#blur2)"/>
<rect x="26.50" y="659.00" width="21.00" height="3.50" fill="#a0a098" filter="url(#blur2)"/>
<polygon points="89.80,668.00 96.00,647.00 110.00,647.00 113.00,668.00" fill="#86867f" filter="url(#blur2)"/>
<rect x="95.00" y="651.00" width="16.00" height="3.00" fill="#a4a49c" filter="url(#blur2)"/>
<rect x="92.80" y="659.00" width="17.20" height="3.50" fill="#a0a098" filter="url(#blur2)"/>
<rect x="15.90" y="669.50" width="100.90" height="10.70" fill="url(#gsemb)" />
<rect x="58.40" y="661.00" width="28.00" height="2.40" fill="#fff" />
<text x="74.00" y="673.60" font-size="12" text-anchor="middle" fill="#fff" textLength="41.00" lengthAdjust="spacingAndGlyphs" >200 nm</text>
<rect x="15.90" y="639.30" width="100.90" height="40.90" fill="none" stroke="#4cc85c" stroke-width="1.4" stroke-dasharray="1.3 1.3"/>
<rect x="117.30" y="637.30" width="183.10" height="113.90" fill="#6e6e6e" />
<rect x="117.3" y="637.3" width="183.1" height="113.9" fill="url(#dots)"/>
<path d="M182,649.5 L243.5,668 Q251.5,670.5 250,679 L240.5,741 Q239,749 231,746.8 L167,730.5 Q159.5,728.5 161,720.5 L174,655.5 Q175.5,647.5 182,649.5 Z" fill="#050505" stroke="#dcdcdc" stroke-width="1"/>
<path d="M244,668.2 Q251.5,670.5 250.2,679 L240.8,741 Q239.6,747.5 234,747.6" fill="none" stroke="#f0f0f0" stroke-width="1.8" />
<rect x="269.10" y="723.40" width="20.50" height="2.10" fill="#fff" />
<text x="279.00" y="739.00" font-size="12" text-anchor="middle" fill="#fff" textLength="30.50" lengthAdjust="spacingAndGlyphs" >5 µm</text>
<rect x="117.30" y="637.30" width="183.10" height="113.90" fill="none" stroke="#3fa8e0" stroke-width="1" stroke-dasharray="1.2 1.2"/>
<line x1="117.00" y1="639.50" x2="136.30" y2="659.20" stroke="#4cc05c" stroke-width="1" stroke-dasharray="1.2 1.2"/>
<line x1="117.00" y1="680.00" x2="136.30" y2="659.20" stroke="#4cc05c" stroke-width="1" stroke-dasharray="1.2 1.2"/>
<polygon points="137.00,659.20 132.50,656.00 133.50,662.00" fill="#4cc05c" />
<polygon points="43.20,720.00 49.00,709.00 90.00,709.00 95.80,720.00" fill="#decc8c" />
<rect x="52.60" y="720.30" width="32.70" height="4.70" fill="#3a9b4b" />
<polygon points="35.00,736.30 39.70,725.00 100.40,725.00 105.00,736.30" fill="#decc8c" />
<rect x="52.60" y="736.30" width="32.70" height="2.90" fill="#3a9b4b" />
<polygon points="26.90,751.00 31.50,739.20 108.60,739.20 113.80,751.00" fill="#decc8c" />
<text x="25.20" y="696.50" font-size="10.5" font-style="italic" textLength="12.20" lengthAdjust="spacingAndGlyphs" >Au</text>
<line x1="38.50" y1="695.00" x2="58.40" y2="708.30" stroke="#231f20" stroke-width="0.8" />
<text x="13.50" y="714.40" font-size="10.5" font-style="italic" textLength="15.50" lengthAdjust="spacingAndGlyphs" >SiO</text>
<text x="29.00" y="717.00" font-size="6.5" font-style="italic" >2</text>
<line x1="35.00" y1="711.80" x2="53.70" y2="721.60" stroke="#231f20" stroke-width="0.8" />
<text x="312.50" y="13.20" font-size="13.5" font-weight="bold" fill="#000" >C</text>
<rect x="343.80" y="1.20" width="100.20" height="78.80" fill="#e4f6ec" />
<rect x="451.70" y="1.20" width="85.30" height="78.80" fill="#d0f1f8" />
<rect x="544.70" y="1.20" width="101.90" height="78.80" fill="#f3e3eb" />
<text x="394.60" y="42.40" font-size="12.2" text-anchor="middle" fill="#333" textLength="65.00" lengthAdjust="spacingAndGlyphs" >Human serum</text>
<text x="494.00" y="38.60" font-size="12.2" text-anchor="middle" fill="#333" textLength="72.50" lengthAdjust="spacingAndGlyphs" >Serum replaced</text>
<text x="497.00" y="53.80" font-size="12.2" text-anchor="middle" fill="#333" textLength="51.00" lengthAdjust="spacingAndGlyphs" >with water</text>
<text x="597.60" y="36.50" font-size="12.2" text-anchor="middle" fill="#333" textLength="69.50" lengthAdjust="spacingAndGlyphs" >Water replaced</text>
<text x="597.60" y="51.60" font-size="12.2" text-anchor="middle" fill="#333" textLength="83.50" lengthAdjust="spacingAndGlyphs" >with R6G + serum</text>
<rect x="345.20" y="71.50" width="10.20" height="8.10" fill="#7ed348" />
<rect x="344.50" y="71.20" width="1.40" height="8.60" fill="#111" />
<rect x="383.70" y="71.50" width="10.20" height="8.10" fill="#7ed348" />
<rect x="393.20" y="71.20" width="1.40" height="8.60" fill="#111" />
<rect x="432.60" y="71.50" width="10.20" height="8.10" fill="#7ed348" />
<rect x="442.10" y="71.20" width="1.40" height="8.60" fill="#111" />
<rect x="483.60" y="71.50" width="10.20" height="8.10" fill="#7ed348" />
<rect x="493.10" y="71.20" width="1.40" height="8.60" fill="#111" />
<rect x="545.80" y="71.50" width="10.20" height="8.10" fill="#7ed348" />
<rect x="545.10" y="71.20" width="1.40" height="8.60" fill="#111" />
<rect x="583.30" y="71.50" width="10.20" height="8.10" fill="#7ed348" />
<rect x="592.80" y="71.20" width="1.40" height="8.60" fill="#111" />
<rect x="634.80" y="71.50" width="10.20" height="8.10" fill="#7ed348" />
<rect x="644.30" y="71.20" width="1.40" height="8.60" fill="#111" />
<line x1="342.70" y1="80.40" x2="673.00" y2="80.40" stroke="#231f20" stroke-width="1.5" />
<polygon points="680.50,80.40 668.50,75.20 671.50,80.40 668.50,85.60" fill="#231f20" />
<text x="344.80" y="94.90" font-size="13" text-anchor="middle" textLength="5.50" lengthAdjust="spacingAndGlyphs" >0</text>
<text x="393.90" y="94.90" font-size="13" text-anchor="middle" textLength="5.50" lengthAdjust="spacingAndGlyphs" >5</text>
<text x="442.60" y="94.90" font-size="13" text-anchor="middle" textLength="11.00" lengthAdjust="spacingAndGlyphs" >10</text>
<text x="492.50" y="94.90" font-size="13" text-anchor="middle" textLength="11.00" lengthAdjust="spacingAndGlyphs" >15</text>
<text x="543.20" y="94.90" font-size="13" text-anchor="middle" textLength="11.00" lengthAdjust="spacingAndGlyphs" >20</text>
<text x="592.50" y="94.90" font-size="13" text-anchor="middle" textLength="11.00" lengthAdjust="spacingAndGlyphs" >25</text>
<text x="643.10" y="94.90" font-size="13" text-anchor="middle" textLength="11.00" lengthAdjust="spacingAndGlyphs" >30</text>
<text x="487.00" y="108.20" font-size="12.6" text-anchor="middle" font-weight="bold" fill="#111" textLength="90.50" lengthAdjust="spacingAndGlyphs" >Time (minutes)</text>
<text x="316.00" y="127.60" font-size="13.5" font-weight="bold" fill="#000" >D</text>
<line x1="442.00" y1="123.00" x2="454.80" y2="123.00" stroke="#a9cfe6" stroke-width="1.8" />
<text x="458.00" y="127.00" font-size="11.5" textLength="59.80" lengthAdjust="spacingAndGlyphs" >serum proteins</text>
<line x1="534.90" y1="123.00" x2="546.00" y2="123.00" stroke="#f0a3ab" stroke-width="1.8" />
<text x="551.00" y="127.00" font-size="11.5" textLength="17.00" lengthAdjust="spacingAndGlyphs" >R6G</text>
<text x="419.00" y="139.00" font-size="12" text-anchor="middle" font-weight="bold" fill="#111" textLength="53.00" lengthAdjust="spacingAndGlyphs" >No cysteine</text>
<text x="603.00" y="139.00" font-size="12" text-anchor="middle" font-weight="bold" fill="#111" textLength="39.00" lengthAdjust="spacingAndGlyphs" >Cysteine</text>
<text x="324.80" y="248.50" font-size="13" text-anchor="middle" font-weight="bold" fill="#111" textLength="127.00" lengthAdjust="spacingAndGlyphs" transform="rotate(-90 324.80 248.50)" >Normalized intensity</text>
<path d="M341.50,175.68 L343.25,165.25 L345.00,168.00 L346.75,188.11 L348.50,190.79 L350.25,194.43 L352.00,186.84 L353.75,181.90 L355.50,183.84 L357.25,194.56 L359.00,193.99 L360.75,215.56 L362.50,203.33 L364.25,196.31 L366.00,193.77 L367.75,201.03 L369.50,200.08 L371.25,194.75 L373.00,189.07 L374.75,193.72 L376.50,183.22 L378.25,194.59 L380.00,184.44 L381.75,199.32 L383.50,188.39 L385.25,200.79 L387.00,180.01 L388.75,187.06 L390.50,181.12 L392.25,196.60 L394.00,196.75 L395.75,194.24 L397.50,192.50 L399.25,204.16 L401.00,176.64 L402.75,188.02 L404.50,186.24 L406.25,190.98 L408.00,180.62 L409.75,203.00 L411.50,191.22 L413.25,196.37 L415.00,179.20 L416.75,199.81 L418.50,184.57 L420.25,187.47 L422.00,188.89 L423.75,202.28 L425.50,193.61 L427.25,202.12 L429.00,185.22 L430.75,185.72 L432.50,176.30 L434.25,192.90 L436.00,170.74 L437.75,184.77 L439.50,180.85 L441.25,197.26 L443.00,186.85 L444.75,191.45 L446.50,205.53 L448.25,198.56 L450.00,191.85 L451.75,179.89 L453.50,190.40 L455.25,200.20 L457.00,195.83 L458.75,201.37 L460.50,193.22 L462.25,194.27 L464.00,175.31 L465.75,194.23 L467.50,184.50 L469.25,194.16 L471.00,174.29 L472.75,188.85 L474.50,190.76 L476.25,202.97 L478.00,178.08 L479.75,206.02 L481.50,195.50 L483.25,199.96 L485.00,188.26 L486.75,193.84 L488.50,189.02 L490.25,204.32 L492.00,195.05 L493.75,188.78 L495.50,180.77 L497.25,190.28 L497.25,229.19 L495.50,213.13 L493.75,218.99 L492.00,222.80 L490.25,233.57 L488.50,222.90 L486.75,216.83 L485.00,207.46 L483.25,228.62 L481.50,215.06 L479.75,226.22 L478.00,206.81 L476.25,225.83 L474.50,225.62 L472.75,225.30 L471.00,206.30 L469.25,229.37 L467.50,225.59 L465.75,230.45 L464.00,214.17 L462.25,223.79 L460.50,218.36 L458.75,226.04 L457.00,222.75 L455.25,223.44 L453.50,217.82 L451.75,205.46 L450.00,215.06 L448.25,229.22 L446.50,237.74 L444.75,226.80 L443.00,214.76 L441.25,226.43 L439.50,211.83 L437.75,221.37 L436.00,201.79 L434.25,231.68 L432.50,214.03 L430.75,217.09 L429.00,217.57 L427.25,225.66 L425.50,216.37 L423.75,224.73 L422.00,217.18 L420.25,213.82 L418.50,214.43 L416.75,225.16 L415.00,215.13 L413.25,225.48 L411.50,220.96 L409.75,241.45 L408.00,213.42 L406.25,232.22 L404.50,220.16 L402.75,222.52 L401.00,211.31 L399.25,230.19 L397.50,223.70 L395.75,222.95 L394.00,222.88 L392.25,217.37 L390.50,204.36 L388.75,217.24 L387.00,214.69 L385.25,229.77 L383.50,217.91 L381.75,228.29 L380.00,224.99 L378.25,235.03 L376.50,216.51 L374.75,227.79 L373.00,218.83 L371.25,226.78 L369.50,223.20 L367.75,223.34 L366.00,217.61 L364.25,222.43 L362.50,224.02 L360.75,238.92 L359.00,219.35 L357.25,223.54 L355.50,217.37 L353.75,220.73 L352.00,226.03 L350.25,226.26 L348.50,227.61 L346.75,229.03 L345.00,205.88 L343.25,191.87 L341.50,210.23 Z" fill="#cbcbcb" />
<path d="M341.50,175.68 L343.25,165.25 L345.00,168.00 L346.75,188.11 L348.50,190.79 L350.25,194.43 L352.00,186.84 L353.75,181.90 L355.50,183.84 L357.25,194.56 L359.00,193.99 L360.75,215.56 L362.50,203.33 L364.25,196.31 L366.00,193.77 L367.75,201.03 L369.50,200.08 L371.25,194.75 L373.00,189.07 L374.75,193.72 L376.50,183.22 L378.25,194.59 L380.00,184.44 L381.75,199.32 L383.50,188.39 L385.25,200.79 L387.00,180.01 L388.75,187.06 L390.50,181.12 L392.25,196.60 L394.00,196.75 L395.75,194.24 L397.50,192.50 L399.25,204.16 L401.00,176.64 L402.75,188.02 L404.50,186.24 L406.25,190.98 L408.00,180.62 L409.75,203.00 L411.50,191.22 L413.25,196.37 L415.00,179.20 L416.75,199.81 L418.50,184.57 L420.25,187.47 L422.00,188.89 L423.75,202.28 L425.50,193.61 L427.25,202.12 L429.00,185.22 L430.75,185.72 L432.50,176.30 L434.25,192.90 L436.00,170.74 L437.75,184.77 L439.50,180.85 L441.25,197.26 L443.00,186.85 L444.75,191.45 L446.50,205.53 L448.25,198.56 L450.00,191.85 L451.75,179.89 L453.50,190.40 L455.25,200.20 L457.00,195.83 L458.75,201.37 L460.50,193.22 L462.25,194.27 L464.00,175.31 L465.75,194.23 L467.50,184.50 L469.25,194.16 L471.00,174.29 L472.75,188.85 L474.50,190.76 L476.25,202.97 L478.00,178.08 L479.75,206.02 L481.50,195.50 L483.25,199.96 L485.00,188.26 L486.75,193.84 L488.50,189.02 L490.25,204.32 L492.00,195.05 L493.75,188.78 L495.50,180.77 L497.25,190.28" fill="none" stroke="#8a8a8a" stroke-width="0.6" />
<path d="M497.25,229.19 L495.50,213.13 L493.75,218.99 L492.00,222.80 L490.25,233.57 L488.50,222.90 L486.75,216.83 L485.00,207.46 L483.25,228.62 L481.50,215.06 L479.75,226.22 L478.00,206.81 L476.25,225.83 L474.50,225.62 L472.75,225.30 L471.00,206.30 L469.25,229.37 L467.50,225.59 L465.75,230.45 L464.00,214.17 L462.25,223.79 L460.50,218.36 L458.75,226.04 L457.00,222.75 L455.25,223.44 L453.50,217.82 L451.75,205.46 L450.00,215.06 L448.25,229.22 L446.50,237.74 L444.75,226.80 L443.00,214.76 L441.25,226.43 L439.50,211.83 L437.75,221.37 L436.00,201.79 L434.25,231.68 L432.50,214.03 L430.75,217.09 L429.00,217.57 L427.25,225.66 L425.50,216.37 L423.75,224.73 L422.00,217.18 L420.25,213.82 L418.50,214.43 L416.75,225.16 L415.00,215.13 L413.25,225.48 L411.50,220.96 L409.75,241.45 L408.00,213.42 L406.25,232.22 L404.50,220.16 L402.75,222.52 L401.00,211.31 L399.25,230.19 L397.50,223.70 L395.75,222.95 L394.00,222.88 L392.25,217.37 L390.50,204.36 L388.75,217.24 L387.00,214.69 L385.25,229.77 L383.50,217.91 L381.75,228.29 L380.00,224.99 L378.25,235.03 L376.50,216.51 L374.75,227.79 L373.00,218.83 L371.25,226.78 L369.50,223.20 L367.75,223.34 L366.00,217.61 L364.25,222.43 L362.50,224.02 L360.75,238.92 L359.00,219.35 L357.25,223.54 L355.50,217.37 L353.75,220.73 L352.00,226.03 L350.25,226.26 L348.50,227.61 L346.75,229.03 L345.00,205.88 L343.25,191.87 L341.50,210.23" fill="none" stroke="#8a8a8a" stroke-width="0.6" />
<path d="M341.50,192.95 L343.25,178.56 L345.00,186.94 L346.75,208.57 L348.50,209.20 L350.25,210.35 L352.00,206.43 L353.75,201.32 L355.50,200.60 L357.25,209.05 L359.00,206.67 L360.75,227.24 L362.50,213.68 L364.25,209.37 L366.00,205.69 L367.75,212.19 L369.50,211.64 L371.25,210.76 L373.00,203.95 L374.75,210.76 L376.50,199.86 L378.25,214.81 L380.00,204.72 L381.75,213.81 L383.50,203.15 L385.25,215.28 L387.00,197.35 L388.75,202.15 L390.50,192.74 L392.25,206.99 L394.00,209.81 L395.75,208.59 L397.50,208.10 L399.25,217.17 L401.00,193.98 L402.75,205.27 L404.50,203.20 L406.25,211.60 L408.00,197.02 L409.75,222.23 L411.50,206.09 L413.25,210.92 L415.00,197.16 L416.75,212.48 L418.50,199.50 L420.25,200.64 L422.00,203.03 L423.75,213.51 L425.50,204.99 L427.25,213.89 L429.00,201.39 L430.75,201.41 L432.50,195.17 L434.25,212.29 L436.00,186.27 L437.75,203.07 L439.50,196.34 L441.25,211.84 L443.00,200.81 L444.75,209.12 L446.50,221.64 L448.25,213.89 L450.00,203.45 L451.75,192.68 L453.50,204.11 L455.25,211.82 L457.00,209.29 L458.75,213.70 L460.50,205.79 L462.25,209.03 L464.00,194.74 L465.75,212.34 L467.50,205.04 L469.25,211.76 L471.00,190.29 L472.75,207.08 L474.50,208.19 L476.25,214.40 L478.00,192.44 L479.75,216.12 L481.50,205.28 L483.25,214.29 L485.00,197.86 L486.75,205.33 L488.50,205.96 L490.25,218.94 L492.00,208.93 L493.75,203.89 L495.50,196.95 L497.25,209.73" fill="none" stroke="#111" stroke-width="1.0" stroke-linejoin="round"/>
<path d="M341.50,244.94 L343.25,246.85 L345.00,247.28 L346.75,258.19 L348.50,254.97 L350.25,259.56 L352.00,255.43 L353.75,248.75 L355.50,250.22 L357.25,261.77 L359.00,258.39 L360.75,262.96 L362.50,253.55 L364.25,258.98 L366.00,259.82 L367.75,261.57 L369.50,246.59 L371.25,259.49 L373.00,252.91 L374.75,255.57 L376.50,255.71 L378.25,268.67 L380.00,256.16 L381.75,257.05 L383.50,256.82 L385.25,266.32 L387.00,253.65 L388.75,261.89 L390.50,250.41 L392.25,263.66 L394.00,257.74 L395.75,261.19 L397.50,257.86 L399.25,260.23 L401.00,253.14 L402.75,261.19 L404.50,256.06 L406.25,260.37 L408.00,259.64 L409.75,265.49 L411.50,258.70 L413.25,258.57 L415.00,257.50 L416.75,258.19 L418.50,252.88 L420.25,260.40 L422.00,256.69 L423.75,259.91 L425.50,261.53 L427.25,265.64 L429.00,257.18 L430.75,260.53 L432.50,252.07 L434.25,263.70 L436.00,256.54 L437.75,260.01 L439.50,259.14 L441.25,259.67 L443.00,256.87 L444.75,262.40 L446.50,253.79 L448.25,262.40 L450.00,254.04 L451.75,253.69 L453.50,252.53 L455.25,260.58 L457.00,256.23 L458.75,258.89 L460.50,256.58 L462.25,259.12 L464.00,256.04 L465.75,261.43 L467.50,256.51 L469.25,261.27 L471.00,255.51 L472.75,259.96 L474.50,256.69 L476.25,263.03 L478.00,245.17 L479.75,266.36 L481.50,260.81 L483.25,260.37 L485.00,253.81 L486.75,258.79 L488.50,257.51 L490.25,260.90 L492.00,256.95 L493.75,252.20 L495.50,254.69 L497.25,261.19 L497.25,265.30 L495.50,260.89 L493.75,259.75 L492.00,264.14 L490.25,264.84 L488.50,261.38 L486.75,264.06 L485.00,257.99 L483.25,267.96 L481.50,265.84 L479.75,270.35 L478.00,252.04 L476.25,268.98 L474.50,263.96 L472.75,266.28 L471.00,260.82 L469.25,265.91 L467.50,262.07 L465.75,265.96 L464.00,260.83 L462.25,266.06 L460.50,263.91 L458.75,265.71 L457.00,263.65 L455.25,266.09 L453.50,258.24 L451.75,258.36 L450.00,260.84 L448.25,267.82 L446.50,258.82 L444.75,267.99 L443.00,263.36 L441.25,266.38 L439.50,265.38 L437.75,263.71 L436.00,262.91 L434.25,271.13 L432.50,258.24 L430.75,267.53 L429.00,261.10 L427.25,269.73 L425.50,265.62 L423.75,265.09 L422.00,263.30 L420.25,265.85 L418.50,258.05 L416.75,264.08 L415.00,261.87 L413.25,265.19 L411.50,262.60 L409.75,272.84 L408.00,264.73 L406.25,265.11 L404.50,259.96 L402.75,267.15 L401.00,257.57 L399.25,265.78 L397.50,263.10 L395.75,266.60 L394.00,261.40 L392.25,269.95 L390.50,257.37 L388.75,266.72 L387.00,257.65 L385.25,272.66 L383.50,260.49 L381.75,262.14 L380.00,263.70 L378.25,273.43 L376.50,261.75 L374.75,262.86 L373.00,258.59 L371.25,264.56 L369.50,253.40 L367.75,265.55 L366.00,264.14 L364.25,264.68 L362.50,258.82 L360.75,266.77 L359.00,264.31 L357.25,267.41 L355.50,255.56 L353.75,255.26 L352.00,262.88 L350.25,266.79 L348.50,259.41 L346.75,264.36 L345.00,252.12 L343.25,252.31 L341.50,250.62 Z" fill="#c9c9c9" />
<path d="M341.50,244.94 L343.25,246.85 L345.00,247.28 L346.75,258.19 L348.50,254.97 L350.25,259.56 L352.00,255.43 L353.75,248.75 L355.50,250.22 L357.25,261.77 L359.00,258.39 L360.75,262.96 L362.50,253.55 L364.25,258.98 L366.00,259.82 L367.75,261.57 L369.50,246.59 L371.25,259.49 L373.00,252.91 L374.75,255.57 L376.50,255.71 L378.25,268.67 L380.00,256.16 L381.75,257.05 L383.50,256.82 L385.25,266.32 L387.00,253.65 L388.75,261.89 L390.50,250.41 L392.25,263.66 L394.00,257.74 L395.75,261.19 L397.50,257.86 L399.25,260.23 L401.00,253.14 L402.75,261.19 L404.50,256.06 L406.25,260.37 L408.00,259.64 L409.75,265.49 L411.50,258.70 L413.25,258.57 L415.00,257.50 L416.75,258.19 L418.50,252.88 L420.25,260.40 L422.00,256.69 L423.75,259.91 L425.50,261.53 L427.25,265.64 L429.00,257.18 L430.75,260.53 L432.50,252.07 L434.25,263.70 L436.00,256.54 L437.75,260.01 L439.50,259.14 L441.25,259.67 L443.00,256.87 L444.75,262.40 L446.50,253.79 L448.25,262.40 L450.00,254.04 L451.75,253.69 L453.50,252.53 L455.25,260.58 L457.00,256.23 L458.75,258.89 L460.50,256.58 L462.25,259.12 L464.00,256.04 L465.75,261.43 L467.50,256.51 L469.25,261.27 L471.00,255.51 L472.75,259.96 L474.50,256.69 L476.25,263.03 L478.00,245.17 L479.75,266.36 L481.50,260.81 L483.25,260.37 L485.00,253.81 L486.75,258.79 L488.50,257.51 L490.25,260.90 L492.00,256.95 L493.75,252.20 L495.50,254.69 L497.25,261.19" fill="none" stroke="#8a8a8a" stroke-width="0.6" />
<path d="M497.25,265.30 L495.50,260.89 L493.75,259.75 L492.00,264.14 L490.25,264.84 L488.50,261.38 L486.75,264.06 L485.00,257.99 L483.25,267.96 L481.50,265.84 L479.75,270.35 L478.00,252.04 L476.25,268.98 L474.50,263.96 L472.75,266.28 L471.00,260.82 L469.25,265.91 L467.50,262.07 L465.75,265.96 L464.00,260.83 L462.25,266.06 L460.50,263.91 L458.75,265.71 L457.00,263.65 L455.25,266.09 L453.50,258.24 L451.75,258.36 L450.00,260.84 L448.25,267.82 L446.50,258.82 L444.75,267.99 L443.00,263.36 L441.25,266.38 L439.50,265.38 L437.75,263.71 L436.00,262.91 L434.25,271.13 L432.50,258.24 L430.75,267.53 L429.00,261.10 L427.25,269.73 L425.50,265.62 L423.75,265.09 L422.00,263.30 L420.25,265.85 L418.50,258.05 L416.75,264.08 L415.00,261.87 L413.25,265.19 L411.50,262.60 L409.75,272.84 L408.00,264.73 L406.25,265.11 L404.50,259.96 L402.75,267.15 L401.00,257.57 L399.25,265.78 L397.50,263.10 L395.75,266.60 L394.00,261.40 L392.25,269.95 L390.50,257.37 L388.75,266.72 L387.00,257.65 L385.25,272.66 L383.50,260.49 L381.75,262.14 L380.00,263.70 L378.25,273.43 L376.50,261.75 L374.75,262.86 L373.00,258.59 L371.25,264.56 L369.50,253.40 L367.75,265.55 L366.00,264.14 L364.25,264.68 L362.50,258.82 L360.75,266.77 L359.00,264.31 L357.25,267.41 L355.50,255.56 L353.75,255.26 L352.00,262.88 L350.25,266.79 L348.50,259.41 L346.75,264.36 L345.00,252.12 L343.25,252.31 L341.50,250.62" fill="none" stroke="#8a8a8a" stroke-width="0.6" />
<path d="M341.50,247.78 L343.25,249.58 L345.00,249.70 L346.75,261.28 L348.50,257.19 L350.25,263.18 L352.00,259.16 L353.75,252.01 L355.50,252.89 L357.25,264.59 L359.00,261.35 L360.75,264.87 L362.50,256.18 L364.25,261.83 L366.00,261.98 L367.75,263.56 L369.50,249.99 L371.25,262.02 L373.00,255.75 L374.75,259.21 L376.50,258.73 L378.25,271.05 L380.00,259.93 L381.75,259.59 L383.50,258.65 L385.25,269.49 L387.00,255.65 L388.75,264.31 L390.50,253.89 L392.25,266.81 L394.00,259.57 L395.75,263.90 L397.50,260.48 L399.25,263.00 L401.00,255.35 L402.75,264.17 L404.50,258.01 L406.25,262.74 L408.00,262.18 L409.75,269.16 L411.50,260.65 L413.25,261.88 L415.00,259.68 L416.75,261.13 L418.50,255.47 L420.25,263.12 L422.00,260.00 L423.75,262.50 L425.50,263.58 L427.25,267.68 L429.00,259.14 L430.75,264.03 L432.50,255.15 L434.25,267.41 L436.00,259.72 L437.75,261.86 L439.50,262.26 L441.25,263.03 L443.00,260.11 L444.75,265.20 L446.50,256.31 L448.25,265.11 L450.00,257.44 L451.75,256.02 L453.50,255.39 L455.25,263.34 L457.00,259.94 L458.75,262.30 L460.50,260.25 L462.25,262.59 L464.00,258.43 L465.75,263.69 L467.50,259.29 L469.25,263.59 L471.00,258.17 L472.75,263.12 L474.50,260.33 L476.25,266.01 L478.00,248.61 L479.75,268.35 L481.50,263.33 L483.25,264.16 L485.00,255.90 L486.75,261.43 L488.50,259.45 L490.25,262.87 L492.00,260.54 L493.75,255.97 L495.50,257.79 L497.25,263.25" fill="none" stroke="#111" stroke-width="1.0" stroke-linejoin="round"/>
<path d="M341.50,332.21 L343.25,330.21 L345.00,327.47 L346.75,339.84 L348.50,335.64 L350.25,336.15 L352.00,329.72 L353.75,333.17 L355.50,327.57 L357.25,337.32 L359.00,331.85 L360.75,332.46 L362.50,333.33 L364.25,334.01 L366.00,329.15 L367.75,331.88 L369.50,331.52 L371.25,341.82 L373.00,332.79 L374.75,336.73 L376.50,330.04 L378.25,335.00 L380.00,330.05 L381.75,338.57 L383.50,325.64 L385.25,333.03 L387.00,323.29 L388.75,329.34 L390.50,321.47 L392.25,335.44 L394.00,333.20 L395.75,333.42 L397.50,334.65 L399.25,336.01 L401.00,330.22 L402.75,335.56 L404.50,334.94 L406.25,333.13 L408.00,332.49 L409.75,333.23 L411.50,325.15 L413.25,343.61 L415.00,333.82 L416.75,332.57 L418.50,327.02 L420.25,315.14 L422.00,310.11 L423.75,333.59 L425.50,330.49 L427.25,337.06 L429.00,328.40 L430.75,331.54 L432.50,325.23 L434.25,339.83 L436.00,334.48 L437.75,335.63 L439.50,327.65 L441.25,316.15 L443.00,301.06 L444.75,319.63 L446.50,327.20 L448.25,329.07 L450.00,310.28 L451.75,297.92 L453.50,293.41 L455.25,321.93 L457.00,328.83 L458.75,337.01 L460.50,331.47 L462.25,335.29 L464.00,334.08 L465.75,337.10 L467.50,334.27 L469.25,333.76 L471.00,334.22 L472.75,332.57 L474.50,328.17 L476.25,315.27 L478.00,305.63 L479.75,322.77 L481.50,327.34 L483.25,334.25 L485.00,331.16 L486.75,333.26 L488.50,334.67 L490.25,333.84 L492.00,331.70 L493.75,336.11 L495.50,331.34 L497.25,336.99 L497.25,342.11 L495.50,338.07 L493.75,342.13 L492.00,336.80 L490.25,338.16 L488.50,338.59 L486.75,338.38 L485.00,337.62 L483.25,340.07 L481.50,331.43 L479.75,327.69 L478.00,310.00 L476.25,320.32 L474.50,334.12 L472.75,338.76 L471.00,339.23 L469.25,338.62 L467.50,339.14 L465.75,342.71 L464.00,338.03 L462.25,342.30 L460.50,338.97 L458.75,340.89 L457.00,332.93 L455.25,326.04 L453.50,297.23 L451.75,301.53 L450.00,316.98 L448.25,334.56 L446.50,332.49 L444.75,325.33 L443.00,305.74 L441.25,320.84 L439.50,331.45 L437.75,342.68 L436.00,340.60 L434.25,343.46 L432.50,332.13 L430.75,338.37 L429.00,335.69 L427.25,343.83 L425.50,334.78 L423.75,340.46 L422.00,315.85 L420.25,319.53 L418.50,332.03 L416.75,339.30 L415.00,339.33 L413.25,350.66 L411.50,329.76 L409.75,338.19 L408.00,338.54 L406.25,340.48 L404.50,340.20 L402.75,341.26 L401.00,336.47 L399.25,340.81 L397.50,338.94 L395.75,340.01 L394.00,336.85 L392.25,341.35 L390.50,328.67 L388.75,336.53 L387.00,330.58 L385.25,339.41 L383.50,332.86 L381.75,342.35 L380.00,336.89 L378.25,339.74 L376.50,336.00 L374.75,340.61 L373.00,337.30 L371.25,346.78 L369.50,336.27 L367.75,337.55 L366.00,335.40 L364.25,340.96 L362.50,339.91 L360.75,336.95 L359.00,339.16 L357.25,344.72 L355.50,332.91 L353.75,340.72 L352.00,336.84 L350.25,343.52 L348.50,339.26 L346.75,344.06 L345.00,334.75 L343.25,335.45 L341.50,337.49 Z" fill="#c9c9c9" />
<path d="M341.50,332.21 L343.25,330.21 L345.00,327.47 L346.75,339.84 L348.50,335.64 L350.25,336.15 L352.00,329.72 L353.75,333.17 L355.50,327.57 L357.25,337.32 L359.00,331.85 L360.75,332.46 L362.50,333.33 L364.25,334.01 L366.00,329.15 L367.75,331.88 L369.50,331.52 L371.25,341.82 L373.00,332.79 L374.75,336.73 L376.50,330.04 L378.25,335.00 L380.00,330.05 L381.75,338.57 L383.50,325.64 L385.25,333.03 L387.00,323.29 L388.75,329.34 L390.50,321.47 L392.25,335.44 L394.00,333.20 L395.75,333.42 L397.50,334.65 L399.25,336.01 L401.00,330.22 L402.75,335.56 L404.50,334.94 L406.25,333.13 L408.00,332.49 L409.75,333.23 L411.50,325.15 L413.25,343.61 L415.00,333.82 L416.75,332.57 L418.50,327.02 L420.25,315.14 L422.00,310.11 L423.75,333.59 L425.50,330.49 L427.25,337.06 L429.00,328.40 L430.75,331.54 L432.50,325.23 L434.25,339.83 L436.00,334.48 L437.75,335.63 L439.50,327.65 L441.25,316.15 L443.00,301.06 L444.75,319.63 L446.50,327.20 L448.25,329.07 L450.00,310.28 L451.75,297.92 L453.50,293.41 L455.25,321.93 L457.00,328.83 L458.75,337.01 L460.50,331.47 L462.25,335.29 L464.00,334.08 L465.75,337.10 L467.50,334.27 L469.25,333.76 L471.00,334.22 L472.75,332.57 L474.50,328.17 L476.25,315.27 L478.00,305.63 L479.75,322.77 L481.50,327.34 L483.25,334.25 L485.00,331.16 L486.75,333.26 L488.50,334.67 L490.25,333.84 L492.00,331.70 L493.75,336.11 L495.50,331.34 L497.25,336.99" fill="none" stroke="#8a8a8a" stroke-width="0.6" />
<path d="M497.25,342.11 L495.50,338.07 L493.75,342.13 L492.00,336.80 L490.25,338.16 L488.50,338.59 L486.75,338.38 L485.00,337.62 L483.25,340.07 L481.50,331.43 L479.75,327.69 L478.00,310.00 L476.25,320.32 L474.50,334.12 L472.75,338.76 L471.00,339.23 L469.25,338.62 L467.50,339.14 L465.75,342.71 L464.00,338.03 L462.25,342.30 L460.50,338.97 L458.75,340.89 L457.00,332.93 L455.25,326.04 L453.50,297.23 L451.75,301.53 L450.00,316.98 L448.25,334.56 L446.50,332.49 L444.75,325.33 L443.00,305.74 L441.25,320.84 L439.50,331.45 L437.75,342.68 L436.00,340.60 L434.25,343.46 L432.50,332.13 L430.75,338.37 L429.00,335.69 L427.25,343.83 L425.50,334.78 L423.75,340.46 L422.00,315.85 L420.25,319.53 L418.50,332.03 L416.75,339.30 L415.00,339.33 L413.25,350.66 L411.50,329.76 L409.75,338.19 L408.00,338.54 L406.25,340.48 L404.50,340.20 L402.75,341.26 L401.00,336.47 L399.25,340.81 L397.50,338.94 L395.75,340.01 L394.00,336.85 L392.25,341.35 L390.50,328.67 L388.75,336.53 L387.00,330.58 L385.25,339.41 L383.50,332.86 L381.75,342.35 L380.00,336.89 L378.25,339.74 L376.50,336.00 L374.75,340.61 L373.00,337.30 L371.25,346.78 L369.50,336.27 L367.75,337.55 L366.00,335.40 L364.25,340.96 L362.50,339.91 L360.75,336.95 L359.00,339.16 L357.25,344.72 L355.50,332.91 L353.75,340.72 L352.00,336.84 L350.25,343.52 L348.50,339.26 L346.75,344.06 L345.00,334.75 L343.25,335.45 L341.50,337.49" fill="none" stroke="#8a8a8a" stroke-width="0.6" />
<path d="M341.50,334.85 L343.25,332.83 L345.00,331.11 L346.75,341.95 L348.50,337.45 L350.25,339.83 L352.00,333.28 L353.75,336.94 L355.50,330.24 L357.25,341.02 L359.00,335.50 L360.75,334.70 L362.50,336.62 L364.25,337.48 L366.00,332.28 L367.75,334.72 L369.50,333.89 L371.25,344.30 L373.00,335.05 L374.75,338.67 L376.50,333.02 L378.25,337.37 L380.00,333.47 L381.75,340.46 L383.50,329.25 L385.25,336.22 L387.00,326.93 L388.75,332.94 L390.50,325.07 L392.25,338.40 L394.00,335.03 L395.75,336.71 L397.50,336.79 L399.25,338.41 L401.00,333.35 L402.75,338.41 L404.50,337.57 L406.25,336.81 L408.00,335.52 L409.75,335.71 L411.50,327.46 L413.25,347.13 L415.00,336.58 L416.75,335.94 L418.50,329.52 L420.25,317.33 L422.00,312.98 L423.75,337.02 L425.50,332.63 L427.25,340.44 L429.00,332.04 L430.75,334.96 L432.50,328.68 L434.25,341.64 L436.00,337.54 L437.75,339.16 L439.50,329.55 L441.25,318.50 L443.00,303.40 L444.75,322.48 L446.50,329.85 L448.25,331.81 L450.00,313.63 L451.75,299.72 L453.50,295.32 L455.25,323.98 L457.00,330.88 L458.75,338.95 L460.50,335.22 L462.25,338.80 L464.00,336.06 L465.75,339.90 L467.50,336.71 L469.25,336.19 L471.00,336.72 L472.75,335.67 L474.50,331.14 L476.25,317.80 L478.00,307.81 L479.75,325.23 L481.50,329.39 L483.25,337.16 L485.00,334.39 L486.75,335.82 L488.50,336.63 L490.25,336.00 L492.00,334.25 L493.75,339.12 L495.50,334.70 L497.25,339.55" fill="none" stroke="#111" stroke-width="1.0" stroke-linejoin="round"/>
<line x1="420.90" y1="165.00" x2="420.90" y2="359.70" stroke="#e8323c" stroke-width="0.9" stroke-dasharray="1 1.4"/>
<line x1="442.60" y1="165.00" x2="442.60" y2="359.70" stroke="#e8323c" stroke-width="0.9" stroke-dasharray="1 1.4"/>
<line x1="452.40" y1="165.00" x2="452.40" y2="359.70" stroke="#e8323c" stroke-width="0.9" stroke-dasharray="1 1.4"/>
<line x1="477.80" y1="165.00" x2="477.80" y2="359.70" stroke="#e8323c" stroke-width="0.9" stroke-dasharray="1 1.4"/>
<text x="348.10" y="146.60" font-size="9.8" text-anchor="end" fill="#2a2a2a" transform="rotate(-90 348.10 146.60)" >730</text>
<text x="359.10" y="151.00" font-size="9.8" text-anchor="end" fill="#2a2a2a" transform="rotate(-90 359.10 151.00)" >808</text>
<text x="368.60" y="151.00" font-size="9.8" text-anchor="end" fill="#2a2a2a" transform="rotate(-90 368.60 151.00)" >845</text>
<text x="393.50" y="148.50" font-size="9.8" text-anchor="end" fill="#2a2a2a" transform="rotate(-90 393.50 148.50)" >1000</text>
<text x="403.90" y="149.00" font-size="9.8" text-anchor="end" fill="#2a2a2a" transform="rotate(-90 403.90 149.00)" >1082</text>
<text x="411.50" y="150.30" font-size="9.8" text-anchor="end" fill="#2a2a2a" transform="rotate(-90 411.50 150.30)" >1110</text>
<text x="424.00" y="148.20" font-size="9.8" text-anchor="end" fill="#2a2a2a" transform="rotate(-90 424.00 148.20)" >1185</text>
<text x="431.80" y="142.60" font-size="9.8" text-anchor="end" fill="#2a2a2a" transform="rotate(-90 431.80 142.60)" >1245</text>
<text x="438.90" y="156.20" font-size="9.8" text-anchor="end" fill="#2a2a2a" transform="rotate(-90 438.90 156.20)" >1271</text>
<text x="443.70" y="141.80" font-size="9.8" text-anchor="end" fill="#2a2a2a" transform="rotate(-90 443.70 141.80)" >1289</text>
<text x="447.50" y="160.50" font-size="9.8" text-anchor="end" fill="#2a2a2a" transform="rotate(-90 447.50 160.50)" >1310</text>
<text x="457.30" y="148.60" font-size="9.8" text-anchor="end" fill="#2a2a2a" transform="rotate(-90 457.30 148.60)" >1360</text>
<text x="465.00" y="149.90" font-size="9.8" text-anchor="end" fill="#2a2a2a" transform="rotate(-90 465.00 149.90)" >1422</text>
<text x="472.60" y="149.90" font-size="9.8" text-anchor="end" fill="#2a2a2a" transform="rotate(-90 472.60 149.90)" >1462</text>
<text x="481.00" y="150.00" font-size="9.8" text-anchor="end" fill="#2a2a2a" transform="rotate(-90 481.00 150.00)" >1501</text>
<text x="489.20" y="150.00" font-size="9.8" text-anchor="end" fill="#2a2a2a" transform="rotate(-90 489.20 150.00)" >1540</text>
<text x="499.60" y="150.00" font-size="9.8" text-anchor="end" fill="#2a2a2a" transform="rotate(-90 499.60 150.00)" >1589</text>
<text x="418.50" y="241.30" font-size="11.2" text-anchor="middle" textLength="66.00" lengthAdjust="spacingAndGlyphs" >Serum (10 mins)</text>
<text x="416.50" y="298.50" font-size="11.2" text-anchor="middle" textLength="63.00" lengthAdjust="spacingAndGlyphs" >Water (15 mins)</text>
<text x="412.00" y="357.80" font-size="11.2" text-anchor="middle" textLength="93.00" lengthAdjust="spacingAndGlyphs" >R6G + serum (30 mins)</text>
<g fill="#0773b9" fill-opacity="0.27">
<rect x="341.85" y="150" width="3.1" height="209.7"/>
<rect x="352.85" y="150" width="3.1" height="209.7"/>
<rect x="361.95" y="150" width="3.1" height="209.7"/>
<rect x="388.05" y="150" width="3.1" height="209.7"/>
<rect x="399.95" y="150" width="3.1" height="209.7"/>
<rect x="406.15" y="150" width="3.1" height="209.7"/>
<rect x="417.65" y="150" width="3.1" height="209.7"/>
<rect x="429.95" y="150" width="3.1" height="209.7"/>
<rect x="434.95" y="150" width="3.1" height="209.7"/>
<rect x="437.95" y="150" width="3.1" height="209.7"/>
<rect x="449.95" y="150" width="3.1" height="209.7"/>
<rect x="461.95" y="150" width="3.1" height="209.7"/>
<rect x="469.75" y="150" width="3.1" height="209.7"/>
<rect x="476.45" y="150" width="3.1" height="209.7"/>
<rect x="484.45" y="150" width="3.1" height="209.7"/>
<rect x="492.75" y="150" width="3.1" height="209.7"/>
</g>
<rect x="336.60" y="142.00" width="165.40" height="223.20" fill="none" stroke="#231f20" stroke-width="1.3"/>
<path d="M526.62,190.43 L528.37,192.54 L530.12,185.93 L531.87,200.09 L533.62,189.76 L535.37,194.90 L537.12,191.26 L538.87,200.26 L540.62,183.84 L542.37,194.21 L544.12,192.96 L545.87,190.66 L547.62,189.19 L549.37,195.04 L551.12,190.48 L552.87,195.15 L554.62,185.50 L556.37,198.60 L558.12,186.21 L559.87,196.77 L561.62,186.61 L563.37,195.15 L565.12,194.61 L566.87,193.78 L568.62,186.72 L570.37,196.88 L572.12,191.96 L573.87,194.45 L575.62,189.77 L577.37,196.37 L579.12,191.32 L580.87,198.86 L582.62,189.46 L584.37,197.76 L586.12,190.84 L587.87,195.60 L589.62,190.92 L591.37,202.86 L593.12,182.84 L594.87,188.00 L596.62,187.79 L598.37,199.91 L600.12,187.24 L601.87,192.68 L603.62,187.61 L605.37,197.27 L607.12,186.71 L608.87,195.29 L610.62,191.93 L612.37,190.28 L614.12,192.32 L615.87,192.39 L617.62,194.68 L619.37,194.36 L621.12,192.53 L622.87,200.67 L624.62,200.96 L626.37,199.90 L628.12,190.02 L629.87,196.09 L631.62,194.22 L633.37,200.79 L635.12,198.78 L636.87,193.24 L638.62,190.23 L640.37,193.80 L642.12,196.73 L643.87,196.81 L645.62,187.98 L647.37,195.89 L649.12,186.68 L650.87,190.16 L652.62,188.82 L654.37,199.23 L656.12,181.04 L657.87,198.88 L659.62,189.09 L661.37,190.79 L663.12,186.68 L664.87,197.37 L666.62,192.23 L668.37,201.63 L670.12,190.51 L671.87,193.83 L673.62,186.29 L675.37,198.03 L677.12,185.80 L678.87,188.96 L680.62,192.50 L680.62,215.12 L678.87,208.58 L677.12,209.51 L675.37,215.44 L673.62,206.71 L671.87,215.96 L670.12,214.38 L668.37,226.31 L666.62,211.29 L664.87,222.48 L663.12,207.35 L661.37,215.92 L659.62,208.22 L657.87,220.97 L656.12,203.80 L654.37,221.50 L652.62,214.68 L650.87,213.83 L649.12,206.25 L647.37,220.36 L645.62,206.43 L643.87,213.56 L642.12,217.58 L640.37,216.96 L638.62,211.09 L636.87,214.69 L635.12,217.90 L633.37,216.85 L631.62,217.33 L629.87,221.14 L628.12,211.44 L626.37,219.28 L624.62,221.90 L622.87,218.17 L621.12,210.30 L619.37,219.10 L617.62,212.36 L615.87,216.37 L614.12,212.54 L612.37,214.64 L610.62,210.96 L608.87,213.25 L607.12,211.53 L605.37,213.94 L603.62,211.38 L601.87,217.26 L600.12,207.58 L598.37,221.04 L596.62,212.65 L594.87,210.21 L593.12,199.98 L591.37,219.81 L589.62,216.58 L587.87,216.46 L586.12,209.18 L584.37,216.87 L582.62,213.34 L580.87,218.68 L579.12,212.75 L577.37,213.22 L575.62,214.04 L573.87,218.83 L572.12,208.07 L570.37,218.10 L568.62,210.40 L566.87,213.41 L565.12,211.99 L563.37,217.23 L561.62,211.26 L559.87,217.66 L558.12,208.15 L556.37,214.94 L554.62,201.77 L552.87,216.41 L551.12,211.19 L549.37,218.78 L547.62,214.11 L545.87,209.97 L544.12,215.68 L542.37,212.23 L540.62,208.62 L538.87,221.77 L537.12,216.04 L535.37,218.73 L533.62,213.86 L531.87,217.25 L530.12,210.70 L528.37,208.67 L526.62,215.66 Z" fill="#cbcbcb" />
<path d="M526.62,190.43 L528.37,192.54 L530.12,185.93 L531.87,200.09 L533.62,189.76 L535.37,194.90 L537.12,191.26 L538.87,200.26 L540.62,183.84 L542.37,194.21 L544.12,192.96 L545.87,190.66 L547.62,189.19 L549.37,195.04 L551.12,190.48 L552.87,195.15 L554.62,185.50 L556.37,198.60 L558.12,186.21 L559.87,196.77 L561.62,186.61 L563.37,195.15 L565.12,194.61 L566.87,193.78 L568.62,186.72 L570.37,196.88 L572.12,191.96 L573.87,194.45 L575.62,189.77 L577.37,196.37 L579.12,191.32 L580.87,198.86 L582.62,189.46 L584.37,197.76 L586.12,190.84 L587.87,195.60 L589.62,190.92 L591.37,202.86 L593.12,182.84 L594.87,188.00 L596.62,187.79 L598.37,199.91 L600.12,187.24 L601.87,192.68 L603.62,187.61 L605.37,197.27 L607.12,186.71 L608.87,195.29 L610.62,191.93 L612.37,190.28 L614.12,192.32 L615.87,192.39 L617.62,194.68 L619.37,194.36 L621.12,192.53 L622.87,200.67 L624.62,200.96 L626.37,199.90 L628.12,190.02 L629.87,196.09 L631.62,194.22 L633.37,200.79 L635.12,198.78 L636.87,193.24 L638.62,190.23 L640.37,193.80 L642.12,196.73 L643.87,196.81 L645.62,187.98 L647.37,195.89 L649.12,186.68 L650.87,190.16 L652.62,188.82 L654.37,199.23 L656.12,181.04 L657.87,198.88 L659.62,189.09 L661.37,190.79 L663.12,186.68 L664.87,197.37 L666.62,192.23 L668.37,201.63 L670.12,190.51 L671.87,193.83 L673.62,186.29 L675.37,198.03 L677.12,185.80 L678.87,188.96 L680.62,192.50" fill="none" stroke="#8a8a8a" stroke-width="0.6" />
<path d="M680.62,215.12 L678.87,208.58 L677.12,209.51 L675.37,215.44 L673.62,206.71 L671.87,215.96 L670.12,214.38 L668.37,226.31 L666.62,211.29 L664.87,222.48 L663.12,207.35 L661.37,215.92 L659.62,208.22 L657.87,220.97 L656.12,203.80 L654.37,221.50 L652.62,214.68 L650.87,213.83 L649.12,206.25 L647.37,220.36 L645.62,206.43 L643.87,213.56 L642.12,217.58 L640.37,216.96 L638.62,211.09 L636.87,214.69 L635.12,217.90 L633.37,216.85 L631.62,217.33 L629.87,221.14 L628.12,211.44 L626.37,219.28 L624.62,221.90 L622.87,218.17 L621.12,210.30 L619.37,219.10 L617.62,212.36 L615.87,216.37 L614.12,212.54 L612.37,214.64 L610.62,210.96 L608.87,213.25 L607.12,211.53 L605.37,213.94 L603.62,211.38 L601.87,217.26 L600.12,207.58 L598.37,221.04 L596.62,212.65 L594.87,210.21 L593.12,199.98 L591.37,219.81 L589.62,216.58 L587.87,216.46 L586.12,209.18 L584.37,216.87 L582.62,213.34 L580.87,218.68 L579.12,212.75 L577.37,213.22 L575.62,214.04 L573.87,218.83 L572.12,208.07 L570.37,218.10 L568.62,210.40 L566.87,213.41 L565.12,211.99 L563.37,217.23 L561.62,211.26 L559.87,217.66 L558.12,208.15 L556.37,214.94 L554.62,201.77 L552.87,216.41 L551.12,211.19 L549.37,218.78 L547.62,214.11 L545.87,209.97 L544.12,215.68 L542.37,212.23 L540.62,208.62 L538.87,221.77 L537.12,216.04 L535.37,218.73 L533.62,213.86 L531.87,217.25 L530.12,210.70 L528.37,208.67 L526.62,215.66" fill="none" stroke="#8a8a8a" stroke-width="0.6" />
<path d="M526.62,203.04 L528.37,200.60 L530.12,198.32 L531.87,208.67 L533.62,201.81 L535.37,206.81 L537.12,203.65 L538.87,211.01 L540.62,196.23 L542.37,203.22 L544.12,204.32 L545.87,200.31 L547.62,201.65 L549.37,206.91 L551.12,200.83 L552.87,205.78 L554.62,193.64 L556.37,206.77 L558.12,197.18 L559.87,207.21 L561.62,198.93 L563.37,206.19 L565.12,203.30 L566.87,203.59 L568.62,198.56 L570.37,207.49 L572.12,200.01 L573.87,206.64 L575.62,201.90 L577.37,204.79 L579.12,202.03 L580.87,208.77 L582.62,201.40 L584.37,207.32 L586.12,200.01 L587.87,206.03 L589.62,203.75 L591.37,211.33 L593.12,191.41 L594.87,199.10 L596.62,200.22 L598.37,210.47 L600.12,197.41 L601.87,204.97 L603.62,199.49 L605.37,205.61 L607.12,199.12 L608.87,204.27 L610.62,201.45 L612.37,202.46 L614.12,202.43 L615.87,204.38 L617.62,203.52 L619.37,206.73 L621.12,201.41 L622.87,209.42 L624.62,211.43 L626.37,209.59 L628.12,200.73 L629.87,208.62 L631.62,205.77 L633.37,208.82 L635.12,208.34 L636.87,203.97 L638.62,200.66 L640.37,205.38 L642.12,207.16 L643.87,205.19 L645.62,197.21 L647.37,208.13 L649.12,196.46 L650.87,201.99 L652.62,201.75 L654.37,210.37 L656.12,192.42 L657.87,209.92 L659.62,198.65 L661.37,203.35 L663.12,197.01 L664.87,209.93 L666.62,201.76 L668.37,213.97 L670.12,202.44 L671.87,204.90 L673.62,196.50 L675.37,206.73 L677.12,197.65 L678.87,198.77 L680.62,203.81" fill="none" stroke="#111" stroke-width="1.0" stroke-linejoin="round"/>
<path d="M526.62,250.29 L528.37,247.68 L530.12,251.45 L531.87,261.40 L533.62,252.35 L535.37,259.05 L537.12,255.76 L538.87,261.30 L540.62,255.69 L542.37,263.54 L544.12,256.63 L545.87,257.74 L547.62,256.14 L549.37,264.84 L551.12,258.52 L552.87,263.86 L554.62,259.94 L556.37,261.93 L558.12,260.48 L559.87,257.90 L561.62,255.34 L563.37,259.94 L565.12,258.40 L566.87,261.34 L568.62,253.23 L570.37,261.55 L572.12,255.05 L573.87,261.79 L575.62,258.08 L577.37,259.41 L579.12,255.40 L580.87,264.63 L582.62,257.45 L584.37,259.96 L586.12,258.52 L587.87,262.70 L589.62,249.48 L591.37,260.97 L593.12,252.73 L594.87,263.36 L596.62,254.11 L598.37,266.76 L600.12,256.89 L601.87,261.54 L603.62,257.99 L605.37,259.94 L607.12,258.50 L608.87,260.97 L610.62,248.96 L612.37,259.81 L614.12,254.02 L615.87,261.07 L617.62,251.43 L619.37,261.15 L621.12,252.22 L622.87,262.36 L624.62,256.09 L626.37,254.98 L628.12,252.50 L629.87,262.51 L631.62,256.88 L633.37,260.76 L635.12,251.20 L636.87,260.67 L638.62,253.06 L640.37,261.24 L642.12,256.60 L643.87,269.17 L645.62,253.91 L647.37,261.01 L649.12,256.53 L650.87,256.91 L652.62,256.52 L654.37,255.91 L656.12,253.30 L657.87,263.47 L659.62,259.74 L661.37,256.71 L663.12,259.06 L664.87,259.17 L666.62,253.59 L668.37,259.95 L670.12,252.99 L671.87,259.73 L673.62,256.65 L675.37,255.67 L677.12,257.20 L678.87,260.05 L680.62,248.90 L680.62,254.85 L678.87,263.87 L677.12,261.33 L675.37,260.06 L673.62,262.59 L671.87,263.37 L670.12,257.70 L668.37,265.67 L666.62,259.47 L664.87,263.19 L663.12,264.97 L661.37,260.44 L659.62,263.26 L657.87,267.65 L656.12,257.31 L654.37,261.56 L652.62,261.34 L650.87,260.16 L649.12,261.30 L647.37,265.62 L645.62,257.06 L643.87,271.98 L642.12,262.26 L640.37,265.17 L638.62,257.81 L636.87,266.56 L635.12,257.06 L633.37,265.37 L631.62,261.59 L629.87,265.77 L628.12,256.48 L626.37,259.84 L624.62,261.49 L622.87,266.51 L621.12,257.64 L619.37,267.01 L617.62,256.09 L615.87,264.96 L614.12,258.57 L612.37,262.91 L610.62,253.72 L608.87,263.89 L607.12,262.50 L605.37,265.40 L603.62,261.16 L601.87,265.65 L600.12,260.58 L598.37,270.85 L596.62,256.91 L594.87,269.05 L593.12,256.29 L591.37,265.66 L589.62,254.24 L587.87,266.72 L586.12,262.81 L584.37,262.87 L582.62,260.87 L580.87,268.01 L579.12,259.21 L577.37,262.64 L575.62,261.05 L573.87,265.31 L572.12,259.36 L570.37,264.49 L568.62,258.04 L566.87,266.34 L565.12,261.90 L563.37,264.82 L561.62,259.55 L559.87,261.21 L558.12,263.36 L556.37,267.04 L554.62,264.78 L552.87,269.14 L551.12,263.31 L549.37,268.99 L547.62,261.07 L545.87,262.40 L544.12,261.92 L542.37,266.89 L540.62,260.83 L538.87,266.41 L537.12,260.78 L535.37,263.38 L533.62,258.15 L531.87,266.88 L530.12,254.78 L528.37,252.17 L526.62,254.74 Z" fill="#c9c9c9" />
<path d="M526.62,250.29 L528.37,247.68 L530.12,251.45 L531.87,261.40 L533.62,252.35 L535.37,259.05 L537.12,255.76 L538.87,261.30 L540.62,255.69 L542.37,263.54 L544.12,256.63 L545.87,257.74 L547.62,256.14 L549.37,264.84 L551.12,258.52 L552.87,263.86 L554.62,259.94 L556.37,261.93 L558.12,260.48 L559.87,257.90 L561.62,255.34 L563.37,259.94 L565.12,258.40 L566.87,261.34 L568.62,253.23 L570.37,261.55 L572.12,255.05 L573.87,261.79 L575.62,258.08 L577.37,259.41 L579.12,255.40 L580.87,264.63 L582.62,257.45 L584.37,259.96 L586.12,258.52 L587.87,262.70 L589.62,249.48 L591.37,260.97 L593.12,252.73 L594.87,263.36 L596.62,254.11 L598.37,266.76 L600.12,256.89 L601.87,261.54 L603.62,257.99 L605.37,259.94 L607.12,258.50 L608.87,260.97 L610.62,248.96 L612.37,259.81 L614.12,254.02 L615.87,261.07 L617.62,251.43 L619.37,261.15 L621.12,252.22 L622.87,262.36 L624.62,256.09 L626.37,254.98 L628.12,252.50 L629.87,262.51 L631.62,256.88 L633.37,260.76 L635.12,251.20 L636.87,260.67 L638.62,253.06 L640.37,261.24 L642.12,256.60 L643.87,269.17 L645.62,253.91 L647.37,261.01 L649.12,256.53 L650.87,256.91 L652.62,256.52 L654.37,255.91 L656.12,253.30 L657.87,263.47 L659.62,259.74 L661.37,256.71 L663.12,259.06 L664.87,259.17 L666.62,253.59 L668.37,259.95 L670.12,252.99 L671.87,259.73 L673.62,256.65 L675.37,255.67 L677.12,257.20 L678.87,260.05 L680.62,248.90" fill="none" stroke="#8a8a8a" stroke-width="0.6" />
<path d="M680.62,254.85 L678.87,263.87 L677.12,261.33 L675.37,260.06 L673.62,262.59 L671.87,263.37 L670.12,257.70 L668.37,265.67 L666.62,259.47 L664.87,263.19 L663.12,264.97 L661.37,260.44 L659.62,263.26 L657.87,267.65 L656.12,257.31 L654.37,261.56 L652.62,261.34 L650.87,260.16 L649.12,261.30 L647.37,265.62 L645.62,257.06 L643.87,271.98 L642.12,262.26 L640.37,265.17 L638.62,257.81 L636.87,266.56 L635.12,257.06 L633.37,265.37 L631.62,261.59 L629.87,265.77 L628.12,256.48 L626.37,259.84 L624.62,261.49 L622.87,266.51 L621.12,257.64 L619.37,267.01 L617.62,256.09 L615.87,264.96 L614.12,258.57 L612.37,262.91 L610.62,253.72 L608.87,263.89 L607.12,262.50 L605.37,265.40 L603.62,261.16 L601.87,265.65 L600.12,260.58 L598.37,270.85 L596.62,256.91 L594.87,269.05 L593.12,256.29 L591.37,265.66 L589.62,254.24 L587.87,266.72 L586.12,262.81 L584.37,262.87 L582.62,260.87 L580.87,268.01 L579.12,259.21 L577.37,262.64 L575.62,261.05 L573.87,265.31 L572.12,259.36 L570.37,264.49 L568.62,258.04 L566.87,266.34 L565.12,261.90 L563.37,264.82 L561.62,259.55 L559.87,261.21 L558.12,263.36 L556.37,267.04 L554.62,264.78 L552.87,269.14 L551.12,263.31 L549.37,268.99 L547.62,261.07 L545.87,262.40 L544.12,261.92 L542.37,266.89 L540.62,260.83 L538.87,266.41 L537.12,260.78 L535.37,263.38 L533.62,258.15 L531.87,266.88 L530.12,254.78 L528.37,252.17 L526.62,254.74" fill="none" stroke="#8a8a8a" stroke-width="0.6" />
<path d="M526.62,252.51 L528.37,249.93 L530.12,253.12 L531.87,264.14 L533.62,255.25 L535.37,261.22 L537.12,258.27 L538.87,263.86 L540.62,258.26 L542.37,265.22 L544.12,259.27 L545.87,260.07 L547.62,258.61 L549.37,266.92 L551.12,260.92 L552.87,266.50 L554.62,262.36 L556.37,264.48 L558.12,261.92 L559.87,259.56 L561.62,257.45 L563.37,262.38 L565.12,260.15 L566.87,263.84 L568.62,255.64 L570.37,263.02 L572.12,257.21 L573.87,263.55 L575.62,259.57 L577.37,261.03 L579.12,257.30 L580.87,266.32 L582.62,259.16 L584.37,261.42 L586.12,260.66 L587.87,264.71 L589.62,251.86 L591.37,263.32 L593.12,254.51 L594.87,266.21 L596.62,255.51 L598.37,268.80 L600.12,258.74 L601.87,263.60 L603.62,259.58 L605.37,262.67 L607.12,260.50 L608.87,262.43 L610.62,251.34 L612.37,261.36 L614.12,256.30 L615.87,263.01 L617.62,253.76 L619.37,264.08 L621.12,254.93 L622.87,264.44 L624.62,258.79 L626.37,257.41 L628.12,254.49 L629.87,264.14 L631.62,259.24 L633.37,263.07 L635.12,254.13 L636.87,263.61 L638.62,255.43 L640.37,263.21 L642.12,259.43 L643.87,270.57 L645.62,255.49 L647.37,263.32 L649.12,258.92 L650.87,258.53 L652.62,258.93 L654.37,258.73 L656.12,255.30 L657.87,265.56 L659.62,261.50 L661.37,258.57 L663.12,262.01 L664.87,261.18 L666.62,256.53 L668.37,262.81 L670.12,255.34 L671.87,261.55 L673.62,259.62 L675.37,257.86 L677.12,259.27 L678.87,261.96 L680.62,251.88" fill="none" stroke="#111" stroke-width="1.0" stroke-linejoin="round"/>
<path d="M526.62,310.35 L528.37,306.16 L530.12,307.65 L531.87,333.08 L533.62,321.48 L535.37,320.31 L537.12,314.71 L538.87,330.81 L540.62,328.13 L542.37,329.57 L544.12,325.65 L545.87,328.48 L547.62,325.07 L549.37,328.22 L551.12,328.67 L552.87,330.39 L554.62,324.11 L556.37,333.75 L558.12,325.60 L559.87,330.51 L561.62,322.41 L563.37,327.13 L565.12,326.29 L566.87,331.27 L568.62,326.60 L570.37,331.33 L572.12,326.64 L573.87,330.78 L575.62,327.06 L577.37,334.82 L579.12,329.39 L580.87,328.55 L582.62,329.46 L584.37,329.86 L586.12,328.39 L587.87,344.58 L589.62,326.87 L591.37,327.00 L593.12,326.38 L594.87,336.11 L596.62,322.90 L598.37,335.54 L600.12,321.42 L601.87,317.89 L603.62,298.82 L605.37,309.52 L607.12,319.80 L608.87,328.99 L610.62,326.46 L612.37,331.32 L614.12,323.28 L615.87,331.07 L617.62,324.08 L619.37,331.19 L621.12,325.72 L622.87,320.97 L624.62,302.15 L626.37,305.37 L628.12,314.81 L629.87,327.80 L631.62,321.05 L633.37,306.85 L635.12,289.19 L636.87,294.56 L638.62,310.62 L640.37,331.85 L642.12,326.73 L643.87,330.10 L645.62,330.85 L647.37,329.71 L649.12,325.42 L650.87,332.21 L652.62,328.10 L654.37,333.92 L656.12,327.76 L657.87,328.17 L659.62,319.16 L661.37,316.21 L663.12,288.63 L664.87,306.20 L666.62,314.56 L668.37,330.71 L670.12,323.91 L671.87,327.17 L673.62,327.38 L675.37,330.50 L677.12,327.23 L678.87,333.26 L680.62,323.21 L680.62,331.93 L678.87,337.80 L677.12,331.81 L675.37,337.67 L673.62,332.19 L671.87,335.32 L670.12,331.39 L668.37,336.97 L666.62,319.97 L664.87,314.63 L663.12,295.35 L661.37,321.30 L659.62,326.94 L657.87,334.78 L656.12,331.92 L654.37,339.68 L652.62,332.58 L650.87,339.63 L649.12,329.97 L647.37,337.35 L645.62,335.05 L643.87,334.39 L642.12,332.58 L640.37,338.85 L638.62,315.41 L636.87,303.23 L635.12,296.39 L633.37,312.64 L631.62,328.92 L629.87,334.90 L628.12,322.25 L626.37,312.55 L624.62,308.79 L622.87,329.76 L621.12,331.63 L619.37,337.30 L617.62,329.91 L615.87,336.63 L614.12,328.19 L612.37,338.05 L610.62,334.23 L608.87,335.74 L607.12,324.95 L605.37,315.04 L603.62,303.60 L601.87,323.90 L600.12,329.79 L598.37,342.24 L596.62,327.97 L594.87,341.19 L593.12,332.25 L591.37,333.73 L589.62,331.59 L587.87,349.93 L586.12,333.11 L584.37,336.38 L582.62,333.60 L580.87,335.05 L579.12,333.75 L577.37,339.18 L575.62,333.44 L573.87,337.01 L572.12,333.27 L570.37,335.88 L568.62,334.12 L566.87,335.65 L565.12,331.94 L563.37,334.49 L561.62,330.97 L559.87,338.18 L558.12,334.37 L556.37,338.00 L554.62,329.89 L552.87,335.22 L551.12,332.83 L549.37,334.79 L547.62,332.13 L545.87,336.40 L544.12,330.06 L542.37,333.72 L540.62,336.55 L538.87,336.88 L537.12,323.35 L535.37,325.66 L533.62,329.59 L531.87,337.49 L530.12,316.16 L528.37,311.53 L526.62,319.04 Z" fill="#c9c9c9" />
<path d="M526.62,310.35 L528.37,306.16 L530.12,307.65 L531.87,333.08 L533.62,321.48 L535.37,320.31 L537.12,314.71 L538.87,330.81 L540.62,328.13 L542.37,329.57 L544.12,325.65 L545.87,328.48 L547.62,325.07 L549.37,328.22 L551.12,328.67 L552.87,330.39 L554.62,324.11 L556.37,333.75 L558.12,325.60 L559.87,330.51 L561.62,322.41 L563.37,327.13 L565.12,326.29 L566.87,331.27 L568.62,326.60 L570.37,331.33 L572.12,326.64 L573.87,330.78 L575.62,327.06 L577.37,334.82 L579.12,329.39 L580.87,328.55 L582.62,329.46 L584.37,329.86 L586.12,328.39 L587.87,344.58 L589.62,326.87 L591.37,327.00 L593.12,326.38 L594.87,336.11 L596.62,322.90 L598.37,335.54 L600.12,321.42 L601.87,317.89 L603.62,298.82 L605.37,309.52 L607.12,319.80 L608.87,328.99 L610.62,326.46 L612.37,331.32 L614.12,323.28 L615.87,331.07 L617.62,324.08 L619.37,331.19 L621.12,325.72 L622.87,320.97 L624.62,302.15 L626.37,305.37 L628.12,314.81 L629.87,327.80 L631.62,321.05 L633.37,306.85 L635.12,289.19 L636.87,294.56 L638.62,310.62 L640.37,331.85 L642.12,326.73 L643.87,330.10 L645.62,330.85 L647.37,329.71 L649.12,325.42 L650.87,332.21 L652.62,328.10 L654.37,333.92 L656.12,327.76 L657.87,328.17 L659.62,319.16 L661.37,316.21 L663.12,288.63 L664.87,306.20 L666.62,314.56 L668.37,330.71 L670.12,323.91 L671.87,327.17 L673.62,327.38 L675.37,330.50 L677.12,327.23 L678.87,333.26 L680.62,323.21" fill="none" stroke="#8a8a8a" stroke-width="0.6" />
<path d="M680.62,331.93 L678.87,337.80 L677.12,331.81 L675.37,337.67 L673.62,332.19 L671.87,335.32 L670.12,331.39 L668.37,336.97 L666.62,319.97 L664.87,314.63 L663.12,295.35 L661.37,321.30 L659.62,326.94 L657.87,334.78 L656.12,331.92 L654.37,339.68 L652.62,332.58 L650.87,339.63 L649.12,329.97 L647.37,337.35 L645.62,335.05 L643.87,334.39 L642.12,332.58 L640.37,338.85 L638.62,315.41 L636.87,303.23 L635.12,296.39 L633.37,312.64 L631.62,328.92 L629.87,334.90 L628.12,322.25 L626.37,312.55 L624.62,308.79 L622.87,329.76 L621.12,331.63 L619.37,337.30 L617.62,329.91 L615.87,336.63 L614.12,328.19 L612.37,338.05 L610.62,334.23 L608.87,335.74 L607.12,324.95 L605.37,315.04 L603.62,303.60 L601.87,323.90 L600.12,329.79 L598.37,342.24 L596.62,327.97 L594.87,341.19 L593.12,332.25 L591.37,333.73 L589.62,331.59 L587.87,349.93 L586.12,333.11 L584.37,336.38 L582.62,333.60 L580.87,335.05 L579.12,333.75 L577.37,339.18 L575.62,333.44 L573.87,337.01 L572.12,333.27 L570.37,335.88 L568.62,334.12 L566.87,335.65 L565.12,331.94 L563.37,334.49 L561.62,330.97 L559.87,338.18 L558.12,334.37 L556.37,338.00 L554.62,329.89 L552.87,335.22 L551.12,332.83 L549.37,334.79 L547.62,332.13 L545.87,336.40 L544.12,330.06 L542.37,333.72 L540.62,336.55 L538.87,336.88 L537.12,323.35 L535.37,325.66 L533.62,329.59 L531.87,337.49 L530.12,316.16 L528.37,311.53 L526.62,319.04" fill="none" stroke="#8a8a8a" stroke-width="0.6" />
<path d="M526.62,314.69 L528.37,308.85 L530.12,311.90 L531.87,335.29 L533.62,325.54 L535.37,322.99 L537.12,319.03 L538.87,333.84 L540.62,332.34 L542.37,331.65 L544.12,327.86 L545.87,332.44 L547.62,328.60 L549.37,331.51 L551.12,330.75 L552.87,332.81 L554.62,327.00 L556.37,335.87 L558.12,329.99 L559.87,334.34 L561.62,326.69 L563.37,330.81 L565.12,329.12 L566.87,333.46 L568.62,330.36 L570.37,333.61 L572.12,329.96 L573.87,333.90 L575.62,330.25 L577.37,337.00 L579.12,331.57 L580.87,331.80 L582.62,331.53 L584.37,333.12 L586.12,330.75 L587.87,347.25 L589.62,329.23 L591.37,330.37 L593.12,329.32 L594.87,338.65 L596.62,325.44 L598.37,338.89 L600.12,325.61 L601.87,320.90 L603.62,301.21 L605.37,312.28 L607.12,322.38 L608.87,332.36 L610.62,330.34 L612.37,334.68 L614.12,325.74 L615.87,333.85 L617.62,326.99 L619.37,334.25 L621.12,328.67 L622.87,325.36 L624.62,305.47 L626.37,308.96 L628.12,318.53 L629.87,331.35 L631.62,324.99 L633.37,309.74 L635.12,292.79 L636.87,298.90 L638.62,313.02 L640.37,335.35 L642.12,329.65 L643.87,332.24 L645.62,332.95 L647.37,333.53 L649.12,327.69 L650.87,335.92 L652.62,330.34 L654.37,336.80 L656.12,329.84 L657.87,331.47 L659.62,323.05 L661.37,318.76 L663.12,291.99 L664.87,310.41 L666.62,317.27 L668.37,333.84 L670.12,327.65 L671.87,331.24 L673.62,329.78 L675.37,334.09 L677.12,329.52 L678.87,335.53 L680.62,327.57" fill="none" stroke="#111" stroke-width="1.0" stroke-linejoin="round"/>
<line x1="603.70" y1="165.00" x2="603.70" y2="359.70" stroke="#e8323c" stroke-width="0.9" stroke-dasharray="1 1.4"/>
<line x1="626.30" y1="165.00" x2="626.30" y2="359.70" stroke="#e8323c" stroke-width="0.9" stroke-dasharray="1 1.4"/>
<line x1="635.70" y1="165.00" x2="635.70" y2="359.70" stroke="#e8323c" stroke-width="0.9" stroke-dasharray="1 1.4"/>
<line x1="663.50" y1="165.00" x2="663.50" y2="359.70" stroke="#e8323c" stroke-width="0.9" stroke-dasharray="1 1.4"/>
<text x="530.50" y="149.40" font-size="9.8" text-anchor="end" fill="#2a2a2a" transform="rotate(-90 530.50 149.40)" >730</text>
<text x="541.50" y="154.20" font-size="9.8" text-anchor="end" fill="#2a2a2a" transform="rotate(-90 541.50 154.20)" >808</text>
<text x="551.10" y="153.60" font-size="9.8" text-anchor="end" fill="#2a2a2a" transform="rotate(-90 551.10 153.60)" >845</text>
<text x="575.40" y="151.20" font-size="9.8" text-anchor="end" fill="#2a2a2a" transform="rotate(-90 575.40 151.20)" >1000</text>
<text x="586.10" y="151.80" font-size="9.8" text-anchor="end" fill="#2a2a2a" transform="rotate(-90 586.10 151.80)" >1082</text>
<text x="594.50" y="151.80" font-size="9.8" text-anchor="end" fill="#2a2a2a" transform="rotate(-90 594.50 151.80)" >1110</text>
<text x="605.20" y="151.70" font-size="9.8" text-anchor="end" fill="#2a2a2a" transform="rotate(-90 605.20 151.70)" >1185</text>
<text x="615.80" y="147.20" font-size="9.8" text-anchor="end" fill="#2a2a2a" transform="rotate(-90 615.80 147.20)" >1245</text>
<text x="622.90" y="160.70" font-size="9.8" text-anchor="end" fill="#2a2a2a" transform="rotate(-90 622.90 160.70)" >1271</text>
<text x="626.70" y="144.60" font-size="9.8" text-anchor="end" fill="#2a2a2a" transform="rotate(-90 626.70 144.60)" >1289</text>
<text x="638.00" y="147.20" font-size="9.8" text-anchor="end" fill="#2a2a2a" transform="rotate(-90 638.00 147.20)" >1360</text>
<text x="648.90" y="153.00" font-size="9.8" text-anchor="end" fill="#2a2a2a" transform="rotate(-90 648.90 153.00)" >1422</text>
<text x="657.30" y="153.00" font-size="9.8" text-anchor="end" fill="#2a2a2a" transform="rotate(-90 657.30 153.00)" >1462</text>
<text x="665.00" y="153.00" font-size="9.8" text-anchor="end" fill="#2a2a2a" transform="rotate(-90 665.00 153.00)" >1501</text>
<text x="673.00" y="153.00" font-size="9.8" text-anchor="end" fill="#2a2a2a" transform="rotate(-90 673.00 153.00)" >1540</text>
<text x="680.50" y="153.00" font-size="9.8" text-anchor="end" fill="#2a2a2a" transform="rotate(-90 680.50 153.00)" >1589</text>
<text x="604.50" y="235.80" font-size="11.2" text-anchor="middle" textLength="67.00" lengthAdjust="spacingAndGlyphs" >Serum (10 mins)</text>
<text x="605.80" y="282.00" font-size="11.2" text-anchor="middle" textLength="62.50" lengthAdjust="spacingAndGlyphs" >Water (15 mins)</text>
<text x="597.80" y="359.50" font-size="11.2" text-anchor="middle" textLength="94.50" lengthAdjust="spacingAndGlyphs" >R6G + serum (30 mins)</text>
<g fill="#0773b9" fill-opacity="0.27">
<rect x="526.95" y="150" width="3.1" height="209.7"/>
<rect x="536.45" y="150" width="3.1" height="209.7"/>
<rect x="545.45" y="150" width="3.1" height="209.7"/>
<rect x="571.65" y="150" width="3.1" height="209.7"/>
<rect x="583.45" y="150" width="3.1" height="209.7"/>
<rect x="589.75" y="150" width="3.1" height="209.7"/>
<rect x="599.45" y="150" width="3.1" height="209.7"/>
<rect x="613.75" y="150" width="3.1" height="209.7"/>
<rect x="618.65" y="150" width="3.1" height="209.7"/>
<rect x="621.85" y="150" width="3.1" height="209.7"/>
<rect x="633.15" y="150" width="3.1" height="209.7"/>
<rect x="645.15" y="150" width="3.1" height="209.7"/>
<rect x="653.45" y="150" width="3.1" height="209.7"/>
<rect x="660.45" y="150" width="3.1" height="209.7"/>
<rect x="667.95" y="150" width="3.1" height="209.7"/>
<rect x="675.95" y="150" width="3.1" height="209.7"/>
</g>
<rect x="518.70" y="142.00" width="164.20" height="223.20" fill="none" stroke="#231f20" stroke-width="1.3"/>
<text x="367.50" y="383.50" font-size="12.6" font-weight="bold" fill="#111" textLength="87.00" lengthAdjust="spacingAndGlyphs" >Raman Shift (cm</text>
<text x="455.00" y="378.00" font-size="9" font-weight="bold" fill="#111" textLength="8.00" lengthAdjust="spacingAndGlyphs" >-1</text>
<text x="464.00" y="383.50" font-size="12.6" font-weight="bold" fill="#111" >)</text>
<text x="546.50" y="383.50" font-size="12.6" font-weight="bold" fill="#111" textLength="87.00" lengthAdjust="spacingAndGlyphs" >Raman Shift (cm</text>
<text x="634.00" y="378.00" font-size="9" font-weight="bold" fill="#111" textLength="8.00" lengthAdjust="spacingAndGlyphs" >-1</text>
<text x="643.00" y="383.50" font-size="12.6" font-weight="bold" fill="#111" >)</text>
<text x="313.30" y="401.30" font-size="13.5" font-weight="bold" fill="#000" >E</text>
<rect x="356.00" y="388.00" width="114.00" height="238.00" fill="#e4f6ec" />
<rect x="477.80" y="388.00" width="71.20" height="238.00" fill="#d0f1f8" />
<rect x="555.20" y="388.00" width="123.80" height="238.00" fill="#f3e3eb" />
<path d="M355.4,387.6 L679.3,387.6 L679.3,626.4 L355.4,626.4 Z" fill="none" stroke="#231f20" stroke-width="1.3" />
<line x1="355.40" y1="405.50" x2="360.10" y2="405.50" stroke="#231f20" stroke-width="1" />
<text x="349.80" y="410.90" font-size="12.5" text-anchor="end" textLength="24.60" lengthAdjust="spacingAndGlyphs" >0.03</text>
<line x1="355.40" y1="470.20" x2="360.10" y2="470.20" stroke="#231f20" stroke-width="1" />
<text x="349.80" y="475.60" font-size="12.5" text-anchor="end" textLength="24.60" lengthAdjust="spacingAndGlyphs" >0.02</text>
<line x1="355.40" y1="534.90" x2="360.10" y2="534.90" stroke="#231f20" stroke-width="1" />
<text x="349.80" y="540.30" font-size="12.5" text-anchor="end" textLength="24.60" lengthAdjust="spacingAndGlyphs" >0.01</text>
<line x1="355.40" y1="599.60" x2="360.10" y2="599.60" stroke="#231f20" stroke-width="1" />
<text x="349.80" y="605.00" font-size="12.5" text-anchor="end" textLength="6.60" lengthAdjust="spacingAndGlyphs" >0</text>
<line x1="369.60" y1="626.40" x2="369.60" y2="622.30" stroke="#231f20" stroke-width="1" />
<text x="368.20" y="641.00" font-size="13" text-anchor="middle" textLength="6.60" lengthAdjust="spacingAndGlyphs" >0</text>
<line x1="417.50" y1="626.40" x2="417.50" y2="622.30" stroke="#231f20" stroke-width="1" />
<text x="415.30" y="641.00" font-size="13" text-anchor="middle" textLength="6.60" lengthAdjust="spacingAndGlyphs" >5</text>
<line x1="464.40" y1="626.40" x2="464.40" y2="622.30" stroke="#231f20" stroke-width="1" />
<text x="461.20" y="641.00" font-size="13" text-anchor="middle" textLength="13.20" lengthAdjust="spacingAndGlyphs" >10</text>
<line x1="511.20" y1="626.40" x2="511.20" y2="622.30" stroke="#231f20" stroke-width="1" />
<text x="508.60" y="641.00" font-size="13" text-anchor="middle" textLength="13.20" lengthAdjust="spacingAndGlyphs" >15</text>
<line x1="557.70" y1="626.40" x2="557.70" y2="622.30" stroke="#231f20" stroke-width="1" />
<text x="556.90" y="641.00" font-size="13" text-anchor="middle" textLength="13.20" lengthAdjust="spacingAndGlyphs" >20</text>
<line x1="604.70" y1="626.40" x2="604.70" y2="622.30" stroke="#231f20" stroke-width="1" />
<text x="605.30" y="641.00" font-size="13" text-anchor="middle" textLength="13.20" lengthAdjust="spacingAndGlyphs" >25</text>
<line x1="651.50" y1="626.40" x2="651.50" y2="622.30" stroke="#231f20" stroke-width="1" />
<text x="651.60" y="641.00" font-size="13" text-anchor="middle" textLength="13.20" lengthAdjust="spacingAndGlyphs" >30</text>
<text x="501.60" y="652.00" font-size="12.6" text-anchor="middle" font-weight="bold" fill="#111" textLength="88.80" lengthAdjust="spacingAndGlyphs" >Time (minutes)</text>
<text x="322.50" y="508.20" font-size="12.7" text-anchor="middle" font-weight="bold" fill="#111" textLength="123.00" lengthAdjust="spacingAndGlyphs" transform="rotate(-90 322.50 508.20)" >Normalized intensity</text>
<text x="409.00" y="619.90" font-size="12.2" text-anchor="middle" fill="#333" textLength="30.50" lengthAdjust="spacingAndGlyphs" >Serum</text>
<text x="512.20" y="619.90" font-size="12.2" text-anchor="middle" fill="#333" textLength="27.00" lengthAdjust="spacingAndGlyphs" >Water</text>
<text x="607.40" y="619.90" font-size="12.4" text-anchor="middle" fill="#333" textLength="61.00" lengthAdjust="spacingAndGlyphs" >R6G + serum</text>
<rect x="360.00" y="391.00" width="25.20" height="8.40" fill="#3c78c8" />
<text x="388.20" y="399.70" font-size="12.8" textLength="35.30" lengthAdjust="spacingAndGlyphs" >1245 cm</text>
<text x="423.60" y="394.40" font-size="7.5" textLength="5.00" lengthAdjust="spacingAndGlyphs" >-1</text>
<text x="428.60" y="399.70" font-size="12.8" textLength="129.50" lengthAdjust="spacingAndGlyphs" >serum protein (no cysteine)</text>
<rect x="360.00" y="404.30" width="25.20" height="8.40" fill="#c8283a" />
<text x="388.20" y="413.00" font-size="12.8" textLength="35.30" lengthAdjust="spacingAndGlyphs" >1245 cm</text>
<text x="423.60" y="407.70" font-size="7.5" textLength="5.00" lengthAdjust="spacingAndGlyphs" >-1</text>
<text x="428.60" y="413.00" font-size="12.8" textLength="116.00" lengthAdjust="spacingAndGlyphs" >serum protein (cysteine)</text>
<rect x="360.00" y="417.60" width="25.20" height="8.40" fill="#ebaa46" />
<text x="388.20" y="426.30" font-size="12.8" textLength="35.30" lengthAdjust="spacingAndGlyphs" >1507 cm</text>
<text x="423.60" y="421.00" font-size="7.5" textLength="5.00" lengthAdjust="spacingAndGlyphs" >-1</text>
<text x="428.60" y="426.30" font-size="12.8" textLength="90.50" lengthAdjust="spacingAndGlyphs" >R6G ( no cysteine)</text>
<rect x="360.00" y="431.70" width="25.20" height="8.40" fill="#8c2896" />
<text x="388.20" y="440.40" font-size="12.8" textLength="35.30" lengthAdjust="spacingAndGlyphs" >1507 cm</text>
<text x="423.60" y="435.10" font-size="7.5" textLength="5.00" lengthAdjust="spacingAndGlyphs" >-1</text>
<text x="428.60" y="440.40" font-size="12.8" textLength="75.00" lengthAdjust="spacingAndGlyphs" >R6G (cysteine)</text>
<path d="M417.60,526.00 L417.60,461.30 L423.70,461.30 L423.70,467.00" fill="none" stroke="#231f20" stroke-width="0.9" />
<text x="420.65" y="462.90" font-size="10.5" text-anchor="middle" textLength="10.50" lengthAdjust="spacingAndGlyphs" >***</text>
<path d="M464.50,538.70 L464.50,447.80 L469.50,447.80 L469.50,452.50" fill="none" stroke="#231f20" stroke-width="0.9" />
<text x="467.00" y="449.40" font-size="10.5" text-anchor="middle" textLength="10.50" lengthAdjust="spacingAndGlyphs" >***</text>
<path d="M511.30,557.00 L511.30,529.00 L516.20,529.00 L516.20,535.50" fill="none" stroke="#231f20" stroke-width="0.9" />
<text x="513.75" y="530.60" font-size="10.5" text-anchor="middle" textLength="10.50" lengthAdjust="spacingAndGlyphs" >***</text>
<path d="M557.70,564.00 L557.70,525.00 L563.20,525.00 L563.20,531.50" fill="none" stroke="#231f20" stroke-width="0.9" />
<text x="560.45" y="526.60" font-size="10.5" text-anchor="middle" textLength="10.50" lengthAdjust="spacingAndGlyphs" >***</text>
<path d="M567.40,512.50 L567.40,506.50 L573.40,506.50 L573.40,541.00" fill="none" stroke="#231f20" stroke-width="0.9" />
<text x="570.40" y="508.10" font-size="10.5" text-anchor="middle" textLength="10.50" lengthAdjust="spacingAndGlyphs" >***</text>
<path d="M604.70,571.90 L604.70,528.00 L609.60,528.00 L609.60,534.00" fill="none" stroke="#231f20" stroke-width="0.9" />
<text x="607.15" y="529.60" font-size="10.5" text-anchor="middle" textLength="10.50" lengthAdjust="spacingAndGlyphs" >***</text>
<path d="M614.40,423.50 L614.40,420.50 L620.40,420.50 L620.40,485.40" fill="none" stroke="#231f20" stroke-width="0.9" />
<text x="617.40" y="422.10" font-size="10.5" text-anchor="middle" textLength="10.50" lengthAdjust="spacingAndGlyphs" >***</text>
<path d="M651.40,571.30 L651.40,526.00 L656.50,526.00 L656.50,531.50" fill="none" stroke="#231f20" stroke-width="0.9" />
<text x="653.95" y="527.60" font-size="10.5" text-anchor="middle" textLength="10.50" lengthAdjust="spacingAndGlyphs" >***</text>
<path d="M661.40,406.00 L661.40,403.00 L667.00,403.00 L667.00,476.90" fill="none" stroke="#231f20" stroke-width="0.9" />
<text x="664.20" y="404.60" font-size="10.5" text-anchor="middle" textLength="10.50" lengthAdjust="spacingAndGlyphs" >***</text>
<path d="M371.60,560.80 L417.60,561.60 L464.50,567.70 L511.30,575.60 L557.70,581.30 L604.70,592.10 L651.40,588.40" fill="none" stroke="#e05a2a" stroke-width="0.8" stroke-opacity="0.85"/>
<line x1="371.60" y1="529.00" x2="371.60" y2="592.70" stroke="#e05a2a" stroke-width="0.9" stroke-opacity="0.55"/>
<rect x="369.80" y="527.40" width="3.60" height="3.20" fill="#e05a2a" />
<rect x="369.80" y="591.10" width="3.60" height="3.20" fill="#e05a2a" />
<line x1="417.60" y1="533.20" x2="417.60" y2="590.80" stroke="#e05a2a" stroke-width="0.9" stroke-opacity="0.55"/>
<rect x="415.80" y="531.60" width="3.60" height="3.20" fill="#e05a2a" />
<rect x="415.80" y="589.20" width="3.60" height="3.20" fill="#e05a2a" />
<line x1="464.50" y1="543.40" x2="464.50" y2="591.90" stroke="#e05a2a" stroke-width="0.9" stroke-opacity="0.55"/>
<rect x="462.70" y="541.80" width="3.60" height="3.20" fill="#e05a2a" />
<rect x="462.70" y="590.30" width="3.60" height="3.20" fill="#e05a2a" />
<line x1="511.30" y1="562.80" x2="511.30" y2="587.50" stroke="#e05a2a" stroke-width="0.9" stroke-opacity="0.55"/>
<rect x="509.50" y="561.20" width="3.60" height="3.20" fill="#e05a2a" />
<rect x="509.50" y="585.90" width="3.60" height="3.20" fill="#e05a2a" />
<line x1="557.70" y1="569.30" x2="557.70" y2="592.70" stroke="#e05a2a" stroke-width="0.9" stroke-opacity="0.55"/>
<rect x="555.90" y="567.70" width="3.60" height="3.20" fill="#e05a2a" />
<rect x="555.90" y="591.10" width="3.60" height="3.20" fill="#e05a2a" />
<line x1="604.70" y1="576.20" x2="604.70" y2="607.70" stroke="#e05a2a" stroke-width="0.9" stroke-opacity="0.55"/>
<rect x="602.90" y="574.60" width="3.60" height="3.20" fill="#e05a2a" />
<rect x="602.90" y="606.10" width="3.60" height="3.20" fill="#e05a2a" />
<line x1="651.40" y1="576.40" x2="651.40" y2="600.30" stroke="#e05a2a" stroke-width="0.9" stroke-opacity="0.55"/>
<rect x="649.60" y="574.80" width="3.60" height="3.20" fill="#e05a2a" />
<rect x="649.60" y="598.70" width="3.60" height="3.20" fill="#e05a2a" />
<circle cx="371.60" cy="560.80" r="2.7" fill="#fff" fill-opacity="0.45" stroke="#e05a2a" stroke-width="1.4"/>
<circle cx="417.60" cy="561.60" r="2.7" fill="#fff" fill-opacity="0.45" stroke="#e05a2a" stroke-width="1.4"/>
<circle cx="464.50" cy="567.70" r="2.7" fill="#fff" fill-opacity="0.45" stroke="#e05a2a" stroke-width="1.4"/>
<circle cx="511.30" cy="575.60" r="2.7" fill="#fff" fill-opacity="0.45" stroke="#e05a2a" stroke-width="1.4"/>
<circle cx="557.70" cy="581.30" r="2.7" fill="#fff" fill-opacity="0.45" stroke="#e05a2a" stroke-width="1.4"/>
<circle cx="604.70" cy="592.10" r="2.7" fill="#fff" fill-opacity="0.45" stroke="#e05a2a" stroke-width="1.4"/>
<circle cx="651.40" cy="588.40" r="2.7" fill="#fff" fill-opacity="0.45" stroke="#e05a2a" stroke-width="1.4"/>
<path d="M376.00,554.70 L422.90,522.00 L469.50,510.40 L516.20,554.60 L563.20,552.30 L609.60,551.40 L656.50,553.10" fill="none" stroke="#3a7fd0" stroke-width="0.8" stroke-opacity="0.85"/>
<line x1="376.00" y1="528.00" x2="376.00" y2="581.60" stroke="#3a7fd0" stroke-width="0.9" stroke-opacity="0.55"/>
<rect x="374.20" y="526.40" width="3.60" height="3.20" fill="#3a7fd0" />
<rect x="374.20" y="580.00" width="3.60" height="3.20" fill="#3a7fd0" />
<line x1="422.90" y1="470.20" x2="422.90" y2="574.70" stroke="#3a7fd0" stroke-width="0.9" stroke-opacity="0.55"/>
<rect x="421.10" y="468.60" width="3.60" height="3.20" fill="#3a7fd0" />
<rect x="421.10" y="573.10" width="3.60" height="3.20" fill="#3a7fd0" />
<line x1="469.50" y1="455.50" x2="469.50" y2="565.50" stroke="#3a7fd0" stroke-width="0.9" stroke-opacity="0.55"/>
<rect x="467.70" y="453.90" width="3.60" height="3.20" fill="#3a7fd0" />
<rect x="467.70" y="563.90" width="3.60" height="3.20" fill="#3a7fd0" />
<line x1="516.20" y1="539.50" x2="516.20" y2="569.90" stroke="#3a7fd0" stroke-width="0.9" stroke-opacity="0.55"/>
<rect x="514.40" y="537.90" width="3.60" height="3.20" fill="#3a7fd0" />
<rect x="514.40" y="568.30" width="3.60" height="3.20" fill="#3a7fd0" />
<line x1="563.20" y1="535.20" x2="563.20" y2="569.30" stroke="#3a7fd0" stroke-width="0.9" stroke-opacity="0.55"/>
<rect x="561.40" y="533.60" width="3.60" height="3.20" fill="#3a7fd0" />
<rect x="561.40" y="567.70" width="3.60" height="3.20" fill="#3a7fd0" />
<line x1="609.60" y1="538.00" x2="609.60" y2="565.00" stroke="#3a7fd0" stroke-width="0.9" stroke-opacity="0.55"/>
<rect x="607.80" y="536.40" width="3.60" height="3.20" fill="#3a7fd0" />
<rect x="607.80" y="563.40" width="3.60" height="3.20" fill="#3a7fd0" />
<line x1="656.50" y1="535.20" x2="656.50" y2="571.90" stroke="#3a7fd0" stroke-width="0.9" stroke-opacity="0.55"/>
<rect x="654.70" y="533.60" width="3.60" height="3.20" fill="#3a7fd0" />
<rect x="654.70" y="570.30" width="3.60" height="3.20" fill="#3a7fd0" />
<circle cx="376.00" cy="554.70" r="2.7" fill="#fff" fill-opacity="0.45" stroke="#3a7fd0" stroke-width="1.4"/>
<circle cx="422.90" cy="522.00" r="2.7" fill="#fff" fill-opacity="0.45" stroke="#3a7fd0" stroke-width="1.4"/>
<circle cx="469.50" cy="510.40" r="2.7" fill="#fff" fill-opacity="0.45" stroke="#3a7fd0" stroke-width="1.4"/>
<circle cx="516.20" cy="554.60" r="2.7" fill="#fff" fill-opacity="0.45" stroke="#3a7fd0" stroke-width="1.4"/>
<circle cx="563.20" cy="552.30" r="2.7" fill="#fff" fill-opacity="0.45" stroke="#3a7fd0" stroke-width="1.4"/>
<circle cx="609.60" cy="551.40" r="2.7" fill="#fff" fill-opacity="0.45" stroke="#3a7fd0" stroke-width="1.4"/>
<circle cx="656.50" cy="553.10" r="2.7" fill="#fff" fill-opacity="0.45" stroke="#3a7fd0" stroke-width="1.4"/>
<path d="M573.10,559.40 L619.50,516.70 L666.50,507.30" fill="none" stroke="#eeb232" stroke-width="0.8" stroke-opacity="0.85"/>
<line x1="573.10" y1="544.60" x2="573.10" y2="576.40" stroke="#eeb232" stroke-width="0.9" stroke-opacity="0.55"/>
<rect x="571.30" y="543.00" width="3.60" height="3.20" fill="#eeb232" />
<rect x="571.30" y="574.80" width="3.60" height="3.20" fill="#eeb232" />
<line x1="619.50" y1="489.10" x2="619.50" y2="544.30" stroke="#eeb232" stroke-width="0.9" stroke-opacity="0.55"/>
<rect x="617.70" y="487.50" width="3.60" height="3.20" fill="#eeb232" />
<rect x="617.70" y="542.70" width="3.60" height="3.20" fill="#eeb232" />
<line x1="666.50" y1="481.70" x2="666.50" y2="532.90" stroke="#eeb232" stroke-width="0.9" stroke-opacity="0.55"/>
<rect x="664.70" y="480.10" width="3.60" height="3.20" fill="#eeb232" />
<rect x="664.70" y="531.30" width="3.60" height="3.20" fill="#eeb232" />
<circle cx="573.10" cy="559.40" r="2.7" fill="#fff" fill-opacity="0.45" stroke="#eeb232" stroke-width="1.4"/>
<circle cx="619.50" cy="516.70" r="2.7" fill="#fff" fill-opacity="0.45" stroke="#eeb232" stroke-width="1.4"/>
<circle cx="666.50" cy="507.30" r="2.7" fill="#fff" fill-opacity="0.45" stroke="#eeb232" stroke-width="1.4"/>
<path d="M567.70,539.50 L614.70,459.20 L661.40,441.80" fill="none" stroke="#8e32a4" stroke-width="0.8" stroke-opacity="0.85"/>
<line x1="567.70" y1="516.10" x2="567.70" y2="562.80" stroke="#8e32a4" stroke-width="0.9" stroke-opacity="0.55"/>
<rect x="565.90" y="514.50" width="3.60" height="3.20" fill="#8e32a4" />
<rect x="565.90" y="561.20" width="3.60" height="3.20" fill="#8e32a4" />
<line x1="614.70" y1="426.50" x2="614.70" y2="491.70" stroke="#8e32a4" stroke-width="0.9" stroke-opacity="0.55"/>
<rect x="612.90" y="424.90" width="3.60" height="3.20" fill="#8e32a4" />
<rect x="612.90" y="490.10" width="3.60" height="3.20" fill="#8e32a4" />
<line x1="661.40" y1="409.10" x2="661.40" y2="474.60" stroke="#8e32a4" stroke-width="0.9" stroke-opacity="0.55"/>
<rect x="659.60" y="407.50" width="3.60" height="3.20" fill="#8e32a4" />
<rect x="659.60" y="473.00" width="3.60" height="3.20" fill="#8e32a4" />
<circle cx="567.70" cy="539.50" r="2.7" fill="#fff" fill-opacity="0.45" stroke="#8e32a4" stroke-width="1.4"/>
<circle cx="614.70" cy="459.20" r="2.7" fill="#fff" fill-opacity="0.45" stroke="#8e32a4" stroke-width="1.4"/>
<circle cx="661.40" cy="441.80" r="2.7" fill="#fff" fill-opacity="0.45" stroke="#8e32a4" stroke-width="1.4"/>
<text x="318.60" y="654.60" font-size="13.5" font-weight="bold" fill="#000" >F</text>
<rect x="344.70" y="661.10" width="167.90" height="79.10" fill="#e4f6ec" />
<rect x="513.20" y="661.10" width="168.90" height="79.10" fill="#f3e3eb" />
<rect x="321.10" y="661.10" width="23.60" height="79.10" fill="#fff" />
<rect x="345.30" y="676.50" width="54.50" height="29.70" fill="#fff" />
<rect x="345.30" y="707.70" width="54.50" height="28.90" fill="#fff" />
<rect x="401.90" y="676.50" width="54.20" height="29.70" fill="#fff" />
<rect x="401.90" y="707.70" width="54.20" height="28.90" fill="#fff" />
<rect x="458.50" y="676.50" width="54.20" height="29.70" fill="#fff" />
<rect x="458.50" y="707.70" width="54.20" height="28.90" fill="#fff" />
<rect x="514.50" y="676.50" width="54.90" height="29.70" fill="#fff" />
<rect x="514.50" y="707.70" width="54.90" height="28.90" fill="#fff" />
<rect x="571.50" y="676.50" width="54.20" height="29.70" fill="#fff" />
<rect x="571.50" y="707.70" width="54.20" height="28.90" fill="#fff" />
<rect x="628.10" y="676.50" width="53.70" height="29.70" fill="#fff" />
<rect x="628.10" y="707.70" width="53.70" height="28.90" fill="#fff" />
<rect x="345.80" y="677.00" width="5.75" height="6.10" fill="#428eea" shape-rendering="crispEdges"/>
<rect x="351.15" y="677.00" width="5.75" height="6.10" fill="#3a30a8" shape-rendering="crispEdges"/>
<rect x="356.50" y="677.00" width="5.75" height="6.10" fill="#3a30a8" shape-rendering="crispEdges"/>
<rect x="361.85" y="677.00" width="5.75" height="6.10" fill="#3a30a8" shape-rendering="crispEdges"/>
<rect x="367.20" y="677.00" width="5.75" height="6.10" fill="#4858f2" shape-rendering="crispEdges"/>
<rect x="372.55" y="677.00" width="5.75" height="6.10" fill="#428eea" shape-rendering="crispEdges"/>
<rect x="377.90" y="677.00" width="5.75" height="6.10" fill="#4858f2" shape-rendering="crispEdges"/>
<rect x="383.25" y="677.00" width="5.75" height="6.10" fill="#428eea" shape-rendering="crispEdges"/>
<rect x="388.60" y="677.00" width="5.75" height="6.10" fill="#428eea" shape-rendering="crispEdges"/>
<rect x="393.95" y="677.00" width="5.75" height="6.10" fill="#5fd28c" shape-rendering="crispEdges"/>
<rect x="345.80" y="682.70" width="5.75" height="6.10" fill="#46b4c8" shape-rendering="crispEdges"/>
<rect x="351.15" y="682.70" width="5.75" height="6.10" fill="#4858f2" shape-rendering="crispEdges"/>
<rect x="356.50" y="682.70" width="5.75" height="6.10" fill="#428eea" shape-rendering="crispEdges"/>
<rect x="361.85" y="682.70" width="5.75" height="6.10" fill="#3a30a8" shape-rendering="crispEdges"/>
<rect x="367.20" y="682.70" width="5.75" height="6.10" fill="#46b4c8" shape-rendering="crispEdges"/>
<rect x="372.55" y="682.70" width="5.75" height="6.10" fill="#3a30a8" shape-rendering="crispEdges"/>
<rect x="377.90" y="682.70" width="5.75" height="6.10" fill="#3a30a8" shape-rendering="crispEdges"/>
<rect x="383.25" y="682.70" width="5.75" height="6.10" fill="#3a30a8" shape-rendering="crispEdges"/>
<rect x="388.60" y="682.70" width="5.75" height="6.10" fill="#46b4c8" shape-rendering="crispEdges"/>
<rect x="393.95" y="682.70" width="5.75" height="6.10" fill="#4858f2" shape-rendering="crispEdges"/>
<rect x="345.80" y="688.40" width="5.75" height="6.10" fill="#428eea" shape-rendering="crispEdges"/>
<rect x="351.15" y="688.40" width="5.75" height="6.10" fill="#4858f2" shape-rendering="crispEdges"/>
<rect x="356.50" y="688.40" width="5.75" height="6.10" fill="#46b4c8" shape-rendering="crispEdges"/>
<rect x="361.85" y="688.40" width="5.75" height="6.10" fill="#428eea" shape-rendering="crispEdges"/>
<rect x="367.20" y="688.40" width="5.75" height="6.10" fill="#5fd28c" shape-rendering="crispEdges"/>
<rect x="372.55" y="688.40" width="5.75" height="6.10" fill="#3a30a8" shape-rendering="crispEdges"/>
<rect x="377.90" y="688.40" width="5.75" height="6.10" fill="#3a30a8" shape-rendering="crispEdges"/>
<rect x="383.25" y="688.40" width="5.75" height="6.10" fill="#4858f2" shape-rendering="crispEdges"/>
<rect x="388.60" y="688.40" width="5.75" height="6.10" fill="#3a30a8" shape-rendering="crispEdges"/>
<rect x="393.95" y="688.40" width="5.75" height="6.10" fill="#46b4c8" shape-rendering="crispEdges"/>
<rect x="345.80" y="694.10" width="5.75" height="6.10" fill="#3a30a8" shape-rendering="crispEdges"/>
<rect x="351.15" y="694.10" width="5.75" height="6.10" fill="#428eea" shape-rendering="crispEdges"/>
<rect x="356.50" y="694.10" width="5.75" height="6.10" fill="#4858f2" shape-rendering="crispEdges"/>
<rect x="361.85" y="694.10" width="5.75" height="6.10" fill="#4858f2" shape-rendering="crispEdges"/>
<rect x="367.20" y="694.10" width="5.75" height="6.10" fill="#4858f2" shape-rendering="crispEdges"/>
<rect x="372.55" y="694.10" width="5.75" height="6.10" fill="#4858f2" shape-rendering="crispEdges"/>
<rect x="377.90" y="694.10" width="5.75" height="6.10" fill="#4858f2" shape-rendering="crispEdges"/>
<rect x="383.25" y="694.10" width="5.75" height="6.10" fill="#4858f2" shape-rendering="crispEdges"/>
<rect x="388.60" y="694.10" width="5.75" height="6.10" fill="#3a30a8" shape-rendering="crispEdges"/>
<rect x="393.95" y="694.10" width="5.75" height="6.10" fill="#3a30a8" shape-rendering="crispEdges"/>
<rect x="345.80" y="699.80" width="5.75" height="6.10" fill="#46b4c8" shape-rendering="crispEdges"/>
<rect x="351.15" y="699.80" width="5.75" height="6.10" fill="#4858f2" shape-rendering="crispEdges"/>
<rect x="356.50" y="699.80" width="5.75" height="6.10" fill="#46b4c8" shape-rendering="crispEdges"/>
<rect x="361.85" y="699.80" width="5.75" height="6.10" fill="#3a30a8" shape-rendering="crispEdges"/>
<rect x="367.20" y="699.80" width="5.75" height="6.10" fill="#3a30a8" shape-rendering="crispEdges"/>
<rect x="372.55" y="699.80" width="5.75" height="6.10" fill="#3a30a8" shape-rendering="crispEdges"/>
<rect x="377.90" y="699.80" width="5.75" height="6.10" fill="#428eea" shape-rendering="crispEdges"/>
<rect x="383.25" y="699.80" width="5.75" height="6.10" fill="#4858f2" shape-rendering="crispEdges"/>
<rect x="388.60" y="699.80" width="5.75" height="6.10" fill="#46b4c8" shape-rendering="crispEdges"/>
<rect x="393.95" y="699.80" width="5.75" height="6.10" fill="#3a30a8" shape-rendering="crispEdges"/>
<rect x="345.80" y="708.30" width="5.75" height="5.94" fill="#4858f2" shape-rendering="crispEdges"/>
<rect x="351.15" y="708.30" width="5.75" height="5.94" fill="#3a30a8" shape-rendering="crispEdges"/>
<rect x="356.50" y="708.30" width="5.75" height="5.94" fill="#46b4c8" shape-rendering="crispEdges"/>
<rect x="361.85" y="708.30" width="5.75" height="5.94" fill="#428eea" shape-rendering="crispEdges"/>
<rect x="367.20" y="708.30" width="5.75" height="5.94" fill="#3a30a8" shape-rendering="crispEdges"/>
<rect x="372.55" y="708.30" width="5.75" height="5.94" fill="#4858f2" shape-rendering="crispEdges"/>
<rect x="377.90" y="708.30" width="5.75" height="5.94" fill="#428eea" shape-rendering="crispEdges"/>
<rect x="383.25" y="708.30" width="5.75" height="5.94" fill="#3a30a8" shape-rendering="crispEdges"/>
<rect x="388.60" y="708.30" width="5.75" height="5.94" fill="#3a30a8" shape-rendering="crispEdges"/>
<rect x="393.95" y="708.30" width="5.75" height="5.94" fill="#46b4c8" shape-rendering="crispEdges"/>
<rect x="345.80" y="713.84" width="5.75" height="5.94" fill="#3a30a8" shape-rendering="crispEdges"/>
<rect x="351.15" y="713.84" width="5.75" height="5.94" fill="#4858f2" shape-rendering="crispEdges"/>
<rect x="356.50" y="713.84" width="5.75" height="5.94" fill="#4858f2" shape-rendering="crispEdges"/>
<rect x="361.85" y="713.84" width="5.75" height="5.94" fill="#428eea" shape-rendering="crispEdges"/>
<rect x="367.20" y="713.84" width="5.75" height="5.94" fill="#428eea" shape-rendering="crispEdges"/>
<rect x="372.55" y="713.84" width="5.75" height="5.94" fill="#5fd28c" shape-rendering="crispEdges"/>
<rect x="377.90" y="713.84" width="5.75" height="5.94" fill="#428eea" shape-rendering="crispEdges"/>
<rect x="383.25" y="713.84" width="5.75" height="5.94" fill="#4858f2" shape-rendering="crispEdges"/>
<rect x="388.60" y="713.84" width="5.75" height="5.94" fill="#46b4c8" shape-rendering="crispEdges"/>
<rect x="393.95" y="713.84" width="5.75" height="5.94" fill="#3a30a8" shape-rendering="crispEdges"/>
<rect x="345.80" y="719.38" width="5.75" height="5.94" fill="#46b4c8" shape-rendering="crispEdges"/>
<rect x="351.15" y="719.38" width="5.75" height="5.94" fill="#3a30a8" shape-rendering="crispEdges"/>
<rect x="356.50" y="719.38" width="5.75" height="5.94" fill="#3a30a8" shape-rendering="crispEdges"/>
<rect x="361.85" y="719.38" width="5.75" height="5.94" fill="#3a30a8" shape-rendering="crispEdges"/>
<rect x="367.20" y="719.38" width="5.75" height="5.94" fill="#428eea" shape-rendering="crispEdges"/>
<rect x="372.55" y="719.38" width="5.75" height="5.94" fill="#428eea" shape-rendering="crispEdges"/>
<rect x="377.90" y="719.38" width="5.75" height="5.94" fill="#3a30a8" shape-rendering="crispEdges"/>
<rect x="383.25" y="719.38" width="5.75" height="5.94" fill="#3a30a8" shape-rendering="crispEdges"/>
<rect x="388.60" y="719.38" width="5.75" height="5.94" fill="#428eea" shape-rendering="crispEdges"/>
<rect x="393.95" y="719.38" width="5.75" height="5.94" fill="#3a30a8" shape-rendering="crispEdges"/>
<rect x="345.80" y="724.92" width="5.75" height="5.94" fill="#428eea" shape-rendering="crispEdges"/>
<rect x="351.15" y="724.92" width="5.75" height="5.94" fill="#3a30a8" shape-rendering="crispEdges"/>
<rect x="356.50" y="724.92" width="5.75" height="5.94" fill="#3a30a8" shape-rendering="crispEdges"/>
<rect x="361.85" y="724.92" width="5.75" height="5.94" fill="#3a30a8" shape-rendering="crispEdges"/>
<rect x="367.20" y="724.92" width="5.75" height="5.94" fill="#4858f2" shape-rendering="crispEdges"/>
<rect x="372.55" y="724.92" width="5.75" height="5.94" fill="#3a30a8" shape-rendering="crispEdges"/>
<rect x="377.90" y="724.92" width="5.75" height="5.94" fill="#428eea" shape-rendering="crispEdges"/>
<rect x="383.25" y="724.92" width="5.75" height="5.94" fill="#4858f2" shape-rendering="crispEdges"/>
<rect x="388.60" y="724.92" width="5.75" height="5.94" fill="#3a30a8" shape-rendering="crispEdges"/>
<rect x="393.95" y="724.92" width="5.75" height="5.94" fill="#3a30a8" shape-rendering="crispEdges"/>
<rect x="345.80" y="730.46" width="5.75" height="5.94" fill="#46b4c8" shape-rendering="crispEdges"/>
<rect x="351.15" y="730.46" width="5.75" height="5.94" fill="#3a30a8" shape-rendering="crispEdges"/>
<rect x="356.50" y="730.46" width="5.75" height="5.94" fill="#4858f2" shape-rendering="crispEdges"/>
<rect x="361.85" y="730.46" width="5.75" height="5.94" fill="#3a30a8" shape-rendering="crispEdges"/>
<rect x="367.20" y="730.46" width="5.75" height="5.94" fill="#4858f2" shape-rendering="crispEdges"/>
<rect x="372.55" y="730.46" width="5.75" height="5.94" fill="#46b4c8" shape-rendering="crispEdges"/>
<rect x="377.90" y="730.46" width="5.75" height="5.94" fill="#3a30a8" shape-rendering="crispEdges"/>
<rect x="383.25" y="730.46" width="5.75" height="5.94" fill="#46b4c8" shape-rendering="crispEdges"/>
<rect x="388.60" y="730.46" width="5.75" height="5.94" fill="#3a30a8" shape-rendering="crispEdges"/>
<rect x="393.95" y="730.46" width="5.75" height="5.94" fill="#428eea" shape-rendering="crispEdges"/>
<rect x="402.40" y="677.00" width="5.72" height="6.10" fill="#b9be37" shape-rendering="crispEdges"/>
<rect x="407.72" y="677.00" width="5.72" height="6.10" fill="#4858f2" shape-rendering="crispEdges"/>
<rect x="413.04" y="677.00" width="5.72" height="6.10" fill="#4858f2" shape-rendering="crispEdges"/>
<rect x="418.36" y="677.00" width="5.72" height="6.10" fill="#4858f2" shape-rendering="crispEdges"/>
<rect x="423.68" y="677.00" width="5.72" height="6.10" fill="#428eea" shape-rendering="crispEdges"/>
<rect x="429.00" y="677.00" width="5.72" height="6.10" fill="#428eea" shape-rendering="crispEdges"/>
<rect x="434.32" y="677.00" width="5.72" height="6.10" fill="#46b4c8" shape-rendering="crispEdges"/>
<rect x="439.64" y="677.00" width="5.72" height="6.10" fill="#4858f2" shape-rendering="crispEdges"/>
<rect x="444.96" y="677.00" width="5.72" height="6.10" fill="#428eea" shape-rendering="crispEdges"/>
<rect x="450.28" y="677.00" width="5.72" height="6.10" fill="#b9be37" shape-rendering="crispEdges"/>
<rect x="402.40" y="682.70" width="5.72" height="6.10" fill="#96ca48" shape-rendering="crispEdges"/>
<rect x="407.72" y="682.70" width="5.72" height="6.10" fill="#5fd28c" shape-rendering="crispEdges"/>
<rect x="413.04" y="682.70" width="5.72" height="6.10" fill="#3a30a8" shape-rendering="crispEdges"/>
<rect x="418.36" y="682.70" width="5.72" height="6.10" fill="#428eea" shape-rendering="crispEdges"/>
<rect x="423.68" y="682.70" width="5.72" height="6.10" fill="#5fd28c" shape-rendering="crispEdges"/>
<rect x="429.00" y="682.70" width="5.72" height="6.10" fill="#428eea" shape-rendering="crispEdges"/>
<rect x="434.32" y="682.70" width="5.72" height="6.10" fill="#e8f532" shape-rendering="crispEdges"/>
<rect x="439.64" y="682.70" width="5.72" height="6.10" fill="#428eea" shape-rendering="crispEdges"/>
<rect x="444.96" y="682.70" width="5.72" height="6.10" fill="#e8f532" shape-rendering="crispEdges"/>
<rect x="450.28" y="682.70" width="5.72" height="6.10" fill="#5fd28c" shape-rendering="crispEdges"/>
<rect x="402.40" y="688.40" width="5.72" height="6.10" fill="#dcb246" shape-rendering="crispEdges"/>
<rect x="407.72" y="688.40" width="5.72" height="6.10" fill="#4858f2" shape-rendering="crispEdges"/>
<rect x="413.04" y="688.40" width="5.72" height="6.10" fill="#3a30a8" shape-rendering="crispEdges"/>
<rect x="418.36" y="688.40" width="5.72" height="6.10" fill="#dcb246" shape-rendering="crispEdges"/>
<rect x="423.68" y="688.40" width="5.72" height="6.10" fill="#3a30a8" shape-rendering="crispEdges"/>
<rect x="429.00" y="688.40" width="5.72" height="6.10" fill="#4858f2" shape-rendering="crispEdges"/>
<rect x="434.32" y="688.40" width="5.72" height="6.10" fill="#e8f532" shape-rendering="crispEdges"/>
<rect x="439.64" y="688.40" width="5.72" height="6.10" fill="#428eea" shape-rendering="crispEdges"/>
<rect x="444.96" y="688.40" width="5.72" height="6.10" fill="#b9be37" shape-rendering="crispEdges"/>
<rect x="450.28" y="688.40" width="5.72" height="6.10" fill="#428eea" shape-rendering="crispEdges"/>
<rect x="402.40" y="694.10" width="5.72" height="6.10" fill="#46b4c8" shape-rendering="crispEdges"/>
<rect x="407.72" y="694.10" width="5.72" height="6.10" fill="#3a30a8" shape-rendering="crispEdges"/>
<rect x="413.04" y="694.10" width="5.72" height="6.10" fill="#3a30a8" shape-rendering="crispEdges"/>
<rect x="418.36" y="694.10" width="5.72" height="6.10" fill="#5fd28c" shape-rendering="crispEdges"/>
<rect x="423.68" y="694.10" width="5.72" height="6.10" fill="#96ca48" shape-rendering="crispEdges"/>
<rect x="429.00" y="694.10" width="5.72" height="6.10" fill="#4858f2" shape-rendering="crispEdges"/>
<rect x="434.32" y="694.10" width="5.72" height="6.10" fill="#46b4c8" shape-rendering="crispEdges"/>
<rect x="439.64" y="694.10" width="5.72" height="6.10" fill="#3a30a8" shape-rendering="crispEdges"/>
<rect x="444.96" y="694.10" width="5.72" height="6.10" fill="#428eea" shape-rendering="crispEdges"/>
<rect x="450.28" y="694.10" width="5.72" height="6.10" fill="#46b4c8" shape-rendering="crispEdges"/>
<rect x="402.40" y="699.80" width="5.72" height="6.10" fill="#4858f2" shape-rendering="crispEdges"/>
<rect x="407.72" y="699.80" width="5.72" height="6.10" fill="#46b4c8" shape-rendering="crispEdges"/>
<rect x="413.04" y="699.80" width="5.72" height="6.10" fill="#96ca48" shape-rendering="crispEdges"/>
<rect x="418.36" y="699.80" width="5.72" height="6.10" fill="#dcb246" shape-rendering="crispEdges"/>
<rect x="423.68" y="699.80" width="5.72" height="6.10" fill="#3a30a8" shape-rendering="crispEdges"/>
<rect x="429.00" y="699.80" width="5.72" height="6.10" fill="#b9be37" shape-rendering="crispEdges"/>
<rect x="434.32" y="699.80" width="5.72" height="6.10" fill="#428eea" shape-rendering="crispEdges"/>
<rect x="439.64" y="699.80" width="5.72" height="6.10" fill="#3a30a8" shape-rendering="crispEdges"/>
<rect x="444.96" y="699.80" width="5.72" height="6.10" fill="#4858f2" shape-rendering="crispEdges"/>
<rect x="450.28" y="699.80" width="5.72" height="6.10" fill="#428eea" shape-rendering="crispEdges"/>
<rect x="402.40" y="708.30" width="5.72" height="5.94" fill="#3a30a8" shape-rendering="crispEdges"/>
<rect x="407.72" y="708.30" width="5.72" height="5.94" fill="#3a30a8" shape-rendering="crispEdges"/>
<rect x="413.04" y="708.30" width="5.72" height="5.94" fill="#428eea" shape-rendering="crispEdges"/>
<rect x="418.36" y="708.30" width="5.72" height="5.94" fill="#428eea" shape-rendering="crispEdges"/>
<rect x="423.68" y="708.30" width="5.72" height="5.94" fill="#4858f2" shape-rendering="crispEdges"/>
<rect x="429.00" y="708.30" width="5.72" height="5.94" fill="#4858f2" shape-rendering="crispEdges"/>
<rect x="434.32" y="708.30" width="5.72" height="5.94" fill="#428eea" shape-rendering="crispEdges"/>
<rect x="439.64" y="708.30" width="5.72" height="5.94" fill="#3a30a8" shape-rendering="crispEdges"/>
<rect x="444.96" y="708.30" width="5.72" height="5.94" fill="#3a30a8" shape-rendering="crispEdges"/>
<rect x="450.28" y="708.30" width="5.72" height="5.94" fill="#46b4c8" shape-rendering="crispEdges"/>
<rect x="402.40" y="713.84" width="5.72" height="5.94" fill="#3a30a8" shape-rendering="crispEdges"/>
<rect x="407.72" y="713.84" width="5.72" height="5.94" fill="#4858f2" shape-rendering="crispEdges"/>
<rect x="413.04" y="713.84" width="5.72" height="5.94" fill="#428eea" shape-rendering="crispEdges"/>
<rect x="418.36" y="713.84" width="5.72" height="5.94" fill="#428eea" shape-rendering="crispEdges"/>
<rect x="423.68" y="713.84" width="5.72" height="5.94" fill="#428eea" shape-rendering="crispEdges"/>
<rect x="429.00" y="713.84" width="5.72" height="5.94" fill="#46b4c8" shape-rendering="crispEdges"/>
<rect x="434.32" y="713.84" width="5.72" height="5.94" fill="#428eea" shape-rendering="crispEdges"/>
<rect x="439.64" y="713.84" width="5.72" height="5.94" fill="#4858f2" shape-rendering="crispEdges"/>
<rect x="444.96" y="713.84" width="5.72" height="5.94" fill="#46b4c8" shape-rendering="crispEdges"/>
<rect x="450.28" y="713.84" width="5.72" height="5.94" fill="#3a30a8" shape-rendering="crispEdges"/>
<rect x="402.40" y="719.38" width="5.72" height="5.94" fill="#428eea" shape-rendering="crispEdges"/>
<rect x="407.72" y="719.38" width="5.72" height="5.94" fill="#3a30a8" shape-rendering="crispEdges"/>
<rect x="413.04" y="719.38" width="5.72" height="5.94" fill="#3a30a8" shape-rendering="crispEdges"/>
<rect x="418.36" y="719.38" width="5.72" height="5.94" fill="#3a30a8" shape-rendering="crispEdges"/>
<rect x="423.68" y="719.38" width="5.72" height="5.94" fill="#428eea" shape-rendering="crispEdges"/>
<rect x="429.00" y="719.38" width="5.72" height="5.94" fill="#428eea" shape-rendering="crispEdges"/>
<rect x="434.32" y="719.38" width="5.72" height="5.94" fill="#4858f2" shape-rendering="crispEdges"/>
<rect x="439.64" y="719.38" width="5.72" height="5.94" fill="#3a30a8" shape-rendering="crispEdges"/>
<rect x="444.96" y="719.38" width="5.72" height="5.94" fill="#428eea" shape-rendering="crispEdges"/>
<rect x="450.28" y="719.38" width="5.72" height="5.94" fill="#3a30a8" shape-rendering="crispEdges"/>
<rect x="402.40" y="724.92" width="5.72" height="5.94" fill="#428eea" shape-rendering="crispEdges"/>
<rect x="407.72" y="724.92" width="5.72" height="5.94" fill="#3a30a8" shape-rendering="crispEdges"/>
<rect x="413.04" y="724.92" width="5.72" height="5.94" fill="#3a30a8" shape-rendering="crispEdges"/>
<rect x="418.36" y="724.92" width="5.72" height="5.94" fill="#3a30a8" shape-rendering="crispEdges"/>
<rect x="423.68" y="724.92" width="5.72" height="5.94" fill="#428eea" shape-rendering="crispEdges"/>
<rect x="429.00" y="724.92" width="5.72" height="5.94" fill="#3a30a8" shape-rendering="crispEdges"/>
<rect x="434.32" y="724.92" width="5.72" height="5.94" fill="#428eea" shape-rendering="crispEdges"/>
<rect x="439.64" y="724.92" width="5.72" height="5.94" fill="#4858f2" shape-rendering="crispEdges"/>
<rect x="444.96" y="724.92" width="5.72" height="5.94" fill="#3a30a8" shape-rendering="crispEdges"/>
<rect x="450.28" y="724.92" width="5.72" height="5.94" fill="#3a30a8" shape-rendering="crispEdges"/>
<rect x="402.40" y="730.46" width="5.72" height="5.94" fill="#428eea" shape-rendering="crispEdges"/>
<rect x="407.72" y="730.46" width="5.72" height="5.94" fill="#3a30a8" shape-rendering="crispEdges"/>
<rect x="413.04" y="730.46" width="5.72" height="5.94" fill="#4858f2" shape-rendering="crispEdges"/>
<rect x="418.36" y="730.46" width="5.72" height="5.94" fill="#3a30a8" shape-rendering="crispEdges"/>
<rect x="423.68" y="730.46" width="5.72" height="5.94" fill="#4858f2" shape-rendering="crispEdges"/>
<rect x="429.00" y="730.46" width="5.72" height="5.94" fill="#428eea" shape-rendering="crispEdges"/>
<rect x="434.32" y="730.46" width="5.72" height="5.94" fill="#3a30a8" shape-rendering="crispEdges"/>
<rect x="439.64" y="730.46" width="5.72" height="5.94" fill="#46b4c8" shape-rendering="crispEdges"/>
<rect x="444.96" y="730.46" width="5.72" height="5.94" fill="#3a30a8" shape-rendering="crispEdges"/>
<rect x="450.28" y="730.46" width="5.72" height="5.94" fill="#428eea" shape-rendering="crispEdges"/>
<rect x="459.00" y="677.00" width="5.72" height="6.10" fill="#4858f2" shape-rendering="crispEdges"/>
<rect x="464.32" y="677.00" width="5.72" height="6.10" fill="#428eea" shape-rendering="crispEdges"/>
<rect x="469.64" y="677.00" width="5.72" height="6.10" fill="#428eea" shape-rendering="crispEdges"/>
<rect x="474.96" y="677.00" width="5.72" height="6.10" fill="#46b4c8" shape-rendering="crispEdges"/>
<rect x="480.28" y="677.00" width="5.72" height="6.10" fill="#46b4c8" shape-rendering="crispEdges"/>
<rect x="485.60" y="677.00" width="5.72" height="6.10" fill="#dcb246" shape-rendering="crispEdges"/>
<rect x="490.92" y="677.00" width="5.72" height="6.10" fill="#4858f2" shape-rendering="crispEdges"/>
<rect x="496.24" y="677.00" width="5.72" height="6.10" fill="#46b4c8" shape-rendering="crispEdges"/>
<rect x="501.56" y="677.00" width="5.72" height="6.10" fill="#3a30a8" shape-rendering="crispEdges"/>
<rect x="506.88" y="677.00" width="5.72" height="6.10" fill="#b9be37" shape-rendering="crispEdges"/>
<rect x="459.00" y="682.70" width="5.72" height="6.10" fill="#e8f532" shape-rendering="crispEdges"/>
<rect x="464.32" y="682.70" width="5.72" height="6.10" fill="#46b4c8" shape-rendering="crispEdges"/>
<rect x="469.64" y="682.70" width="5.72" height="6.10" fill="#3a30a8" shape-rendering="crispEdges"/>
<rect x="474.96" y="682.70" width="5.72" height="6.10" fill="#428eea" shape-rendering="crispEdges"/>
<rect x="480.28" y="682.70" width="5.72" height="6.10" fill="#46b4c8" shape-rendering="crispEdges"/>
<rect x="485.60" y="682.70" width="5.72" height="6.10" fill="#96ca48" shape-rendering="crispEdges"/>
<rect x="490.92" y="682.70" width="5.72" height="6.10" fill="#4858f2" shape-rendering="crispEdges"/>
<rect x="496.24" y="682.70" width="5.72" height="6.10" fill="#96ca48" shape-rendering="crispEdges"/>
<rect x="501.56" y="682.70" width="5.72" height="6.10" fill="#5fd28c" shape-rendering="crispEdges"/>
<rect x="506.88" y="682.70" width="5.72" height="6.10" fill="#96ca48" shape-rendering="crispEdges"/>
<rect x="459.00" y="688.40" width="5.72" height="6.10" fill="#46b4c8" shape-rendering="crispEdges"/>
<rect x="464.32" y="688.40" width="5.72" height="6.10" fill="#b9be37" shape-rendering="crispEdges"/>
<rect x="469.64" y="688.40" width="5.72" height="6.10" fill="#428eea" shape-rendering="crispEdges"/>
<rect x="474.96" y="688.40" width="5.72" height="6.10" fill="#4858f2" shape-rendering="crispEdges"/>
<rect x="480.28" y="688.40" width="5.72" height="6.10" fill="#3a30a8" shape-rendering="crispEdges"/>
<rect x="485.60" y="688.40" width="5.72" height="6.10" fill="#96ca48" shape-rendering="crispEdges"/>
<rect x="490.92" y="688.40" width="5.72" height="6.10" fill="#e2d23e" shape-rendering="crispEdges"/>
<rect x="496.24" y="688.40" width="5.72" height="6.10" fill="#46b4c8" shape-rendering="crispEdges"/>
<rect x="501.56" y="688.40" width="5.72" height="6.10" fill="#46b4c8" shape-rendering="crispEdges"/>
<rect x="506.88" y="688.40" width="5.72" height="6.10" fill="#4858f2" shape-rendering="crispEdges"/>
<rect x="459.00" y="694.10" width="5.72" height="6.10" fill="#3a30a8" shape-rendering="crispEdges"/>
<rect x="464.32" y="694.10" width="5.72" height="6.10" fill="#4858f2" shape-rendering="crispEdges"/>
<rect x="469.64" y="694.10" width="5.72" height="6.10" fill="#e8f532" shape-rendering="crispEdges"/>
<rect x="474.96" y="694.10" width="5.72" height="6.10" fill="#3a30a8" shape-rendering="crispEdges"/>
<rect x="480.28" y="694.10" width="5.72" height="6.10" fill="#dcb246" shape-rendering="crispEdges"/>
<rect x="485.60" y="694.10" width="5.72" height="6.10" fill="#428eea" shape-rendering="crispEdges"/>
<rect x="490.92" y="694.10" width="5.72" height="6.10" fill="#dcb246" shape-rendering="crispEdges"/>
<rect x="496.24" y="694.10" width="5.72" height="6.10" fill="#46b4c8" shape-rendering="crispEdges"/>
<rect x="501.56" y="694.10" width="5.72" height="6.10" fill="#428eea" shape-rendering="crispEdges"/>
<rect x="506.88" y="694.10" width="5.72" height="6.10" fill="#b9be37" shape-rendering="crispEdges"/>
<rect x="459.00" y="699.80" width="5.72" height="6.10" fill="#46b4c8" shape-rendering="crispEdges"/>
<rect x="464.32" y="699.80" width="5.72" height="6.10" fill="#3a30a8" shape-rendering="crispEdges"/>
<rect x="469.64" y="699.80" width="5.72" height="6.10" fill="#e8f532" shape-rendering="crispEdges"/>
<rect x="474.96" y="699.80" width="5.72" height="6.10" fill="#4858f2" shape-rendering="crispEdges"/>
<rect x="480.28" y="699.80" width="5.72" height="6.10" fill="#428eea" shape-rendering="crispEdges"/>
<rect x="485.60" y="699.80" width="5.72" height="6.10" fill="#96ca48" shape-rendering="crispEdges"/>
<rect x="490.92" y="699.80" width="5.72" height="6.10" fill="#5fd28c" shape-rendering="crispEdges"/>
<rect x="496.24" y="699.80" width="5.72" height="6.10" fill="#96ca48" shape-rendering="crispEdges"/>
<rect x="501.56" y="699.80" width="5.72" height="6.10" fill="#5fd28c" shape-rendering="crispEdges"/>
<rect x="506.88" y="699.80" width="5.72" height="6.10" fill="#4858f2" shape-rendering="crispEdges"/>
<rect x="459.00" y="708.30" width="5.72" height="5.94" fill="#3a30a8" shape-rendering="crispEdges"/>
<rect x="464.32" y="708.30" width="5.72" height="5.94" fill="#428eea" shape-rendering="crispEdges"/>
<rect x="469.64" y="708.30" width="5.72" height="5.94" fill="#3a30a8" shape-rendering="crispEdges"/>
<rect x="474.96" y="708.30" width="5.72" height="5.94" fill="#3a30a8" shape-rendering="crispEdges"/>
<rect x="480.28" y="708.30" width="5.72" height="5.94" fill="#4858f2" shape-rendering="crispEdges"/>
<rect x="485.60" y="708.30" width="5.72" height="5.94" fill="#4858f2" shape-rendering="crispEdges"/>
<rect x="490.92" y="708.30" width="5.72" height="5.94" fill="#4858f2" shape-rendering="crispEdges"/>
<rect x="496.24" y="708.30" width="5.72" height="5.94" fill="#3a30a8" shape-rendering="crispEdges"/>
<rect x="501.56" y="708.30" width="5.72" height="5.94" fill="#4858f2" shape-rendering="crispEdges"/>
<rect x="506.88" y="708.30" width="5.72" height="5.94" fill="#3a30a8" shape-rendering="crispEdges"/>
<rect x="459.00" y="713.84" width="5.72" height="5.94" fill="#46b4c8" shape-rendering="crispEdges"/>
<rect x="464.32" y="713.84" width="5.72" height="5.94" fill="#428eea" shape-rendering="crispEdges"/>
<rect x="469.64" y="713.84" width="5.72" height="5.94" fill="#3a30a8" shape-rendering="crispEdges"/>
<rect x="474.96" y="713.84" width="5.72" height="5.94" fill="#428eea" shape-rendering="crispEdges"/>
<rect x="480.28" y="713.84" width="5.72" height="5.94" fill="#4858f2" shape-rendering="crispEdges"/>
<rect x="485.60" y="713.84" width="5.72" height="5.94" fill="#3a30a8" shape-rendering="crispEdges"/>
<rect x="490.92" y="713.84" width="5.72" height="5.94" fill="#4858f2" shape-rendering="crispEdges"/>
<rect x="496.24" y="713.84" width="5.72" height="5.94" fill="#4858f2" shape-rendering="crispEdges"/>
<rect x="501.56" y="713.84" width="5.72" height="5.94" fill="#3a30a8" shape-rendering="crispEdges"/>
<rect x="506.88" y="713.84" width="5.72" height="5.94" fill="#428eea" shape-rendering="crispEdges"/>
<rect x="459.00" y="719.38" width="5.72" height="5.94" fill="#4858f2" shape-rendering="crispEdges"/>
<rect x="464.32" y="719.38" width="5.72" height="5.94" fill="#3a30a8" shape-rendering="crispEdges"/>
<rect x="469.64" y="719.38" width="5.72" height="5.94" fill="#4858f2" shape-rendering="crispEdges"/>
<rect x="474.96" y="719.38" width="5.72" height="5.94" fill="#3a30a8" shape-rendering="crispEdges"/>
<rect x="480.28" y="719.38" width="5.72" height="5.94" fill="#428eea" shape-rendering="crispEdges"/>
<rect x="485.60" y="719.38" width="5.72" height="5.94" fill="#3a30a8" shape-rendering="crispEdges"/>
<rect x="490.92" y="719.38" width="5.72" height="5.94" fill="#4858f2" shape-rendering="crispEdges"/>
<rect x="496.24" y="719.38" width="5.72" height="5.94" fill="#4858f2" shape-rendering="crispEdges"/>
<rect x="501.56" y="719.38" width="5.72" height="5.94" fill="#3a30a8" shape-rendering="crispEdges"/>
<rect x="506.88" y="719.38" width="5.72" height="5.94" fill="#3a30a8" shape-rendering="crispEdges"/>
<rect x="459.00" y="724.92" width="5.72" height="5.94" fill="#428eea" shape-rendering="crispEdges"/>
<rect x="464.32" y="724.92" width="5.72" height="5.94" fill="#428eea" shape-rendering="crispEdges"/>
<rect x="469.64" y="724.92" width="5.72" height="5.94" fill="#3a30a8" shape-rendering="crispEdges"/>
<rect x="474.96" y="724.92" width="5.72" height="5.94" fill="#3a30a8" shape-rendering="crispEdges"/>
<rect x="480.28" y="724.92" width="5.72" height="5.94" fill="#4858f2" shape-rendering="crispEdges"/>
<rect x="485.60" y="724.92" width="5.72" height="5.94" fill="#4858f2" shape-rendering="crispEdges"/>
<rect x="490.92" y="724.92" width="5.72" height="5.94" fill="#4858f2" shape-rendering="crispEdges"/>
<rect x="496.24" y="724.92" width="5.72" height="5.94" fill="#3a30a8" shape-rendering="crispEdges"/>
<rect x="501.56" y="724.92" width="5.72" height="5.94" fill="#46b4c8" shape-rendering="crispEdges"/>
<rect x="506.88" y="724.92" width="5.72" height="5.94" fill="#4858f2" shape-rendering="crispEdges"/>
<rect x="459.00" y="730.46" width="5.72" height="5.94" fill="#4858f2" shape-rendering="crispEdges"/>
<rect x="464.32" y="730.46" width="5.72" height="5.94" fill="#3a30a8" shape-rendering="crispEdges"/>
<rect x="469.64" y="730.46" width="5.72" height="5.94" fill="#3a30a8" shape-rendering="crispEdges"/>
<rect x="474.96" y="730.46" width="5.72" height="5.94" fill="#4858f2" shape-rendering="crispEdges"/>
<rect x="480.28" y="730.46" width="5.72" height="5.94" fill="#3a30a8" shape-rendering="crispEdges"/>
<rect x="485.60" y="730.46" width="5.72" height="5.94" fill="#46b4c8" shape-rendering="crispEdges"/>
<rect x="490.92" y="730.46" width="5.72" height="5.94" fill="#3a30a8" shape-rendering="crispEdges"/>
<rect x="496.24" y="730.46" width="5.72" height="5.94" fill="#3a30a8" shape-rendering="crispEdges"/>
<rect x="501.56" y="730.46" width="5.72" height="5.94" fill="#428eea" shape-rendering="crispEdges"/>
<rect x="506.88" y="730.46" width="5.72" height="5.94" fill="#3a30a8" shape-rendering="crispEdges"/>
<rect x="515.00" y="677.00" width="5.79" height="6.10" fill="#5074f5" shape-rendering="crispEdges"/>
<rect x="520.39" y="677.00" width="5.79" height="6.10" fill="#5074f5" shape-rendering="crispEdges"/>
<rect x="525.78" y="677.00" width="5.79" height="6.10" fill="#5074f5" shape-rendering="crispEdges"/>
<rect x="531.17" y="677.00" width="5.79" height="6.10" fill="#5074f5" shape-rendering="crispEdges"/>
<rect x="536.56" y="677.00" width="5.79" height="6.10" fill="#4c96e6" shape-rendering="crispEdges"/>
<rect x="541.95" y="677.00" width="5.79" height="6.10" fill="#564ef4" shape-rendering="crispEdges"/>
<rect x="547.34" y="677.00" width="5.79" height="6.10" fill="#564ef4" shape-rendering="crispEdges"/>
<rect x="552.73" y="677.00" width="5.79" height="6.10" fill="#4b28b0" shape-rendering="crispEdges"/>
<rect x="558.12" y="677.00" width="5.79" height="6.10" fill="#564ef4" shape-rendering="crispEdges"/>
<rect x="563.51" y="677.00" width="5.79" height="6.10" fill="#4c96e6" shape-rendering="crispEdges"/>
<rect x="515.00" y="682.70" width="5.79" height="6.10" fill="#5838e2" shape-rendering="crispEdges"/>
<rect x="520.39" y="682.70" width="5.79" height="6.10" fill="#4c96e6" shape-rendering="crispEdges"/>
<rect x="525.78" y="682.70" width="5.79" height="6.10" fill="#5074f5" shape-rendering="crispEdges"/>
<rect x="531.17" y="682.70" width="5.79" height="6.10" fill="#5074f5" shape-rendering="crispEdges"/>
<rect x="536.56" y="682.70" width="5.79" height="6.10" fill="#564ef4" shape-rendering="crispEdges"/>
<rect x="541.95" y="682.70" width="5.79" height="6.10" fill="#4b28b0" shape-rendering="crispEdges"/>
<rect x="547.34" y="682.70" width="5.79" height="6.10" fill="#5074f5" shape-rendering="crispEdges"/>
<rect x="552.73" y="682.70" width="5.79" height="6.10" fill="#4c96e6" shape-rendering="crispEdges"/>
<rect x="558.12" y="682.70" width="5.79" height="6.10" fill="#5838e2" shape-rendering="crispEdges"/>
<rect x="563.51" y="682.70" width="5.79" height="6.10" fill="#4c96e6" shape-rendering="crispEdges"/>
<rect x="515.00" y="688.40" width="5.79" height="6.10" fill="#5838e2" shape-rendering="crispEdges"/>
<rect x="520.39" y="688.40" width="5.79" height="6.10" fill="#4c96e6" shape-rendering="crispEdges"/>
<rect x="525.78" y="688.40" width="5.79" height="6.10" fill="#5074f5" shape-rendering="crispEdges"/>
<rect x="531.17" y="688.40" width="5.79" height="6.10" fill="#5074f5" shape-rendering="crispEdges"/>
<rect x="536.56" y="688.40" width="5.79" height="6.10" fill="#4b28b0" shape-rendering="crispEdges"/>
<rect x="541.95" y="688.40" width="5.79" height="6.10" fill="#564ef4" shape-rendering="crispEdges"/>
<rect x="547.34" y="688.40" width="5.79" height="6.10" fill="#4aacce" shape-rendering="crispEdges"/>
<rect x="552.73" y="688.40" width="5.79" height="6.10" fill="#4aacce" shape-rendering="crispEdges"/>
<rect x="558.12" y="688.40" width="5.79" height="6.10" fill="#4b28b0" shape-rendering="crispEdges"/>
<rect x="563.51" y="688.40" width="5.79" height="6.10" fill="#564ef4" shape-rendering="crispEdges"/>
<rect x="515.00" y="694.10" width="5.79" height="6.10" fill="#4b28b0" shape-rendering="crispEdges"/>
<rect x="520.39" y="694.10" width="5.79" height="6.10" fill="#564ef4" shape-rendering="crispEdges"/>
<rect x="525.78" y="694.10" width="5.79" height="6.10" fill="#4c96e6" shape-rendering="crispEdges"/>
<rect x="531.17" y="694.10" width="5.79" height="6.10" fill="#564ef4" shape-rendering="crispEdges"/>
<rect x="536.56" y="694.10" width="5.79" height="6.10" fill="#564ef4" shape-rendering="crispEdges"/>
<rect x="541.95" y="694.10" width="5.79" height="6.10" fill="#4c96e6" shape-rendering="crispEdges"/>
<rect x="547.34" y="694.10" width="5.79" height="6.10" fill="#4c96e6" shape-rendering="crispEdges"/>
<rect x="552.73" y="694.10" width="5.79" height="6.10" fill="#4b28b0" shape-rendering="crispEdges"/>
<rect x="558.12" y="694.10" width="5.79" height="6.10" fill="#5074f5" shape-rendering="crispEdges"/>
<rect x="563.51" y="694.10" width="5.79" height="6.10" fill="#5074f5" shape-rendering="crispEdges"/>
<rect x="515.00" y="699.80" width="5.79" height="6.10" fill="#4b28b0" shape-rendering="crispEdges"/>
<rect x="520.39" y="699.80" width="5.79" height="6.10" fill="#4aacce" shape-rendering="crispEdges"/>
<rect x="525.78" y="699.80" width="5.79" height="6.10" fill="#564ef4" shape-rendering="crispEdges"/>
<rect x="531.17" y="699.80" width="5.79" height="6.10" fill="#4aacce" shape-rendering="crispEdges"/>
<rect x="536.56" y="699.80" width="5.79" height="6.10" fill="#564ef4" shape-rendering="crispEdges"/>
<rect x="541.95" y="699.80" width="5.79" height="6.10" fill="#5074f5" shape-rendering="crispEdges"/>
<rect x="547.34" y="699.80" width="5.79" height="6.10" fill="#4c96e6" shape-rendering="crispEdges"/>
<rect x="552.73" y="699.80" width="5.79" height="6.10" fill="#564ef4" shape-rendering="crispEdges"/>
<rect x="558.12" y="699.80" width="5.79" height="6.10" fill="#5074f5" shape-rendering="crispEdges"/>
<rect x="563.51" y="699.80" width="5.79" height="6.10" fill="#5074f5" shape-rendering="crispEdges"/>
<rect x="515.00" y="708.30" width="5.79" height="5.94" fill="#564ef4" shape-rendering="crispEdges"/>
<rect x="520.39" y="708.30" width="5.79" height="5.94" fill="#5074f5" shape-rendering="crispEdges"/>
<rect x="525.78" y="708.30" width="5.79" height="5.94" fill="#564ef4" shape-rendering="crispEdges"/>
<rect x="531.17" y="708.30" width="5.79" height="5.94" fill="#4b28b0" shape-rendering="crispEdges"/>
<rect x="536.56" y="708.30" width="5.79" height="5.94" fill="#4b28b0" shape-rendering="crispEdges"/>
<rect x="541.95" y="708.30" width="5.79" height="5.94" fill="#4b28b0" shape-rendering="crispEdges"/>
<rect x="547.34" y="708.30" width="5.79" height="5.94" fill="#4b28b0" shape-rendering="crispEdges"/>
<rect x="552.73" y="708.30" width="5.79" height="5.94" fill="#4b28b0" shape-rendering="crispEdges"/>
<rect x="558.12" y="708.30" width="5.79" height="5.94" fill="#4b28b0" shape-rendering="crispEdges"/>
<rect x="563.51" y="708.30" width="5.79" height="5.94" fill="#4b28b0" shape-rendering="crispEdges"/>
<rect x="515.00" y="713.84" width="5.79" height="5.94" fill="#4b28b0" shape-rendering="crispEdges"/>
<rect x="520.39" y="713.84" width="5.79" height="5.94" fill="#4b28b0" shape-rendering="crispEdges"/>
<rect x="525.78" y="713.84" width="5.79" height="5.94" fill="#4b28b0" shape-rendering="crispEdges"/>
<rect x="531.17" y="713.84" width="5.79" height="5.94" fill="#4b28b0" shape-rendering="crispEdges"/>
<rect x="536.56" y="713.84" width="5.79" height="5.94" fill="#4b28b0" shape-rendering="crispEdges"/>
<rect x="541.95" y="713.84" width="5.79" height="5.94" fill="#5838e2" shape-rendering="crispEdges"/>
<rect x="547.34" y="713.84" width="5.79" height="5.94" fill="#4b28b0" shape-rendering="crispEdges"/>
<rect x="552.73" y="713.84" width="5.79" height="5.94" fill="#4b28b0" shape-rendering="crispEdges"/>
<rect x="558.12" y="713.84" width="5.79" height="5.94" fill="#5838e2" shape-rendering="crispEdges"/>
<rect x="563.51" y="713.84" width="5.79" height="5.94" fill="#4b28b0" shape-rendering="crispEdges"/>
<rect x="515.00" y="719.38" width="5.79" height="5.94" fill="#4b28b0" shape-rendering="crispEdges"/>
<rect x="520.39" y="719.38" width="5.79" height="5.94" fill="#5838e2" shape-rendering="crispEdges"/>
<rect x="525.78" y="719.38" width="5.79" height="5.94" fill="#4b28b0" shape-rendering="crispEdges"/>
<rect x="531.17" y="719.38" width="5.79" height="5.94" fill="#4b28b0" shape-rendering="crispEdges"/>
<rect x="536.56" y="719.38" width="5.79" height="5.94" fill="#564ef4" shape-rendering="crispEdges"/>
<rect x="541.95" y="719.38" width="5.79" height="5.94" fill="#4b28b0" shape-rendering="crispEdges"/>
<rect x="547.34" y="719.38" width="5.79" height="5.94" fill="#4b28b0" shape-rendering="crispEdges"/>
<rect x="552.73" y="719.38" width="5.79" height="5.94" fill="#4b28b0" shape-rendering="crispEdges"/>
<rect x="558.12" y="719.38" width="5.79" height="5.94" fill="#4b28b0" shape-rendering="crispEdges"/>
<rect x="563.51" y="719.38" width="5.79" height="5.94" fill="#4b28b0" shape-rendering="crispEdges"/>
<rect x="515.00" y="724.92" width="5.79" height="5.94" fill="#4b28b0" shape-rendering="crispEdges"/>
<rect x="520.39" y="724.92" width="5.79" height="5.94" fill="#4b28b0" shape-rendering="crispEdges"/>
<rect x="525.78" y="724.92" width="5.79" height="5.94" fill="#4b28b0" shape-rendering="crispEdges"/>
<rect x="531.17" y="724.92" width="5.79" height="5.94" fill="#4b28b0" shape-rendering="crispEdges"/>
<rect x="536.56" y="724.92" width="5.79" height="5.94" fill="#4b28b0" shape-rendering="crispEdges"/>
<rect x="541.95" y="724.92" width="5.79" height="5.94" fill="#4b28b0" shape-rendering="crispEdges"/>
<rect x="547.34" y="724.92" width="5.79" height="5.94" fill="#4b28b0" shape-rendering="crispEdges"/>
<rect x="552.73" y="724.92" width="5.79" height="5.94" fill="#4b28b0" shape-rendering="crispEdges"/>
<rect x="558.12" y="724.92" width="5.79" height="5.94" fill="#4b28b0" shape-rendering="crispEdges"/>
<rect x="563.51" y="724.92" width="5.79" height="5.94" fill="#564ef4" shape-rendering="crispEdges"/>
<rect x="515.00" y="730.46" width="5.79" height="5.94" fill="#4b28b0" shape-rendering="crispEdges"/>
<rect x="520.39" y="730.46" width="5.79" height="5.94" fill="#4b28b0" shape-rendering="crispEdges"/>
<rect x="525.78" y="730.46" width="5.79" height="5.94" fill="#4b28b0" shape-rendering="crispEdges"/>
<rect x="531.17" y="730.46" width="5.79" height="5.94" fill="#4b28b0" shape-rendering="crispEdges"/>
<rect x="536.56" y="730.46" width="5.79" height="5.94" fill="#564ef4" shape-rendering="crispEdges"/>
<rect x="541.95" y="730.46" width="5.79" height="5.94" fill="#4b28b0" shape-rendering="crispEdges"/>
<rect x="547.34" y="730.46" width="5.79" height="5.94" fill="#4b28b0" shape-rendering="crispEdges"/>
<rect x="552.73" y="730.46" width="5.79" height="5.94" fill="#4b28b0" shape-rendering="crispEdges"/>
<rect x="558.12" y="730.46" width="5.79" height="5.94" fill="#4b28b0" shape-rendering="crispEdges"/>
<rect x="563.51" y="730.46" width="5.79" height="5.94" fill="#4b28b0" shape-rendering="crispEdges"/>
<rect x="572.00" y="677.00" width="5.72" height="6.10" fill="#4aacce" shape-rendering="crispEdges"/>
<rect x="577.32" y="677.00" width="5.72" height="6.10" fill="#5838e2" shape-rendering="crispEdges"/>
<rect x="582.64" y="677.00" width="5.72" height="6.10" fill="#5074f5" shape-rendering="crispEdges"/>
<rect x="587.96" y="677.00" width="5.72" height="6.10" fill="#564ef4" shape-rendering="crispEdges"/>
<rect x="593.28" y="677.00" width="5.72" height="6.10" fill="#4c96e6" shape-rendering="crispEdges"/>
<rect x="598.60" y="677.00" width="5.72" height="6.10" fill="#5838e2" shape-rendering="crispEdges"/>
<rect x="603.92" y="677.00" width="5.72" height="6.10" fill="#564ef4" shape-rendering="crispEdges"/>
<rect x="609.24" y="677.00" width="5.72" height="6.10" fill="#564ef4" shape-rendering="crispEdges"/>
<rect x="614.56" y="677.00" width="5.72" height="6.10" fill="#5838e2" shape-rendering="crispEdges"/>
<rect x="619.88" y="677.00" width="5.72" height="6.10" fill="#4c96e6" shape-rendering="crispEdges"/>
<rect x="572.00" y="682.70" width="5.72" height="6.10" fill="#564ef4" shape-rendering="crispEdges"/>
<rect x="577.32" y="682.70" width="5.72" height="6.10" fill="#5838e2" shape-rendering="crispEdges"/>
<rect x="582.64" y="682.70" width="5.72" height="6.10" fill="#5074f5" shape-rendering="crispEdges"/>
<rect x="587.96" y="682.70" width="5.72" height="6.10" fill="#564ef4" shape-rendering="crispEdges"/>
<rect x="593.28" y="682.70" width="5.72" height="6.10" fill="#4c96e6" shape-rendering="crispEdges"/>
<rect x="598.60" y="682.70" width="5.72" height="6.10" fill="#5838e2" shape-rendering="crispEdges"/>
<rect x="603.92" y="682.70" width="5.72" height="6.10" fill="#4c96e6" shape-rendering="crispEdges"/>
<rect x="609.24" y="682.70" width="5.72" height="6.10" fill="#564ef4" shape-rendering="crispEdges"/>
<rect x="614.56" y="682.70" width="5.72" height="6.10" fill="#4aacce" shape-rendering="crispEdges"/>
<rect x="619.88" y="682.70" width="5.72" height="6.10" fill="#5074f5" shape-rendering="crispEdges"/>
<rect x="572.00" y="688.40" width="5.72" height="6.10" fill="#4b28b0" shape-rendering="crispEdges"/>
<rect x="577.32" y="688.40" width="5.72" height="6.10" fill="#564ef4" shape-rendering="crispEdges"/>
<rect x="582.64" y="688.40" width="5.72" height="6.10" fill="#564ef4" shape-rendering="crispEdges"/>
<rect x="587.96" y="688.40" width="5.72" height="6.10" fill="#5838e2" shape-rendering="crispEdges"/>
<rect x="593.28" y="688.40" width="5.72" height="6.10" fill="#5838e2" shape-rendering="crispEdges"/>
<rect x="598.60" y="688.40" width="5.72" height="6.10" fill="#5838e2" shape-rendering="crispEdges"/>
<rect x="603.92" y="688.40" width="5.72" height="6.10" fill="#4c96e6" shape-rendering="crispEdges"/>
<rect x="609.24" y="688.40" width="5.72" height="6.10" fill="#4c96e6" shape-rendering="crispEdges"/>
<rect x="614.56" y="688.40" width="5.72" height="6.10" fill="#564ef4" shape-rendering="crispEdges"/>
<rect x="619.88" y="688.40" width="5.72" height="6.10" fill="#5838e2" shape-rendering="crispEdges"/>
<rect x="572.00" y="694.10" width="5.72" height="6.10" fill="#5074f5" shape-rendering="crispEdges"/>
<rect x="577.32" y="694.10" width="5.72" height="6.10" fill="#5838e2" shape-rendering="crispEdges"/>
<rect x="582.64" y="694.10" width="5.72" height="6.10" fill="#4c96e6" shape-rendering="crispEdges"/>
<rect x="587.96" y="694.10" width="5.72" height="6.10" fill="#4b28b0" shape-rendering="crispEdges"/>
<rect x="593.28" y="694.10" width="5.72" height="6.10" fill="#4c96e6" shape-rendering="crispEdges"/>
<rect x="598.60" y="694.10" width="5.72" height="6.10" fill="#564ef4" shape-rendering="crispEdges"/>
<rect x="603.92" y="694.10" width="5.72" height="6.10" fill="#4c96e6" shape-rendering="crispEdges"/>
<rect x="609.24" y="694.10" width="5.72" height="6.10" fill="#4c96e6" shape-rendering="crispEdges"/>
<rect x="614.56" y="694.10" width="5.72" height="6.10" fill="#564ef4" shape-rendering="crispEdges"/>
<rect x="619.88" y="694.10" width="5.72" height="6.10" fill="#5838e2" shape-rendering="crispEdges"/>
<rect x="572.00" y="699.80" width="5.72" height="6.10" fill="#5838e2" shape-rendering="crispEdges"/>
<rect x="577.32" y="699.80" width="5.72" height="6.10" fill="#5074f5" shape-rendering="crispEdges"/>
<rect x="582.64" y="699.80" width="5.72" height="6.10" fill="#564ef4" shape-rendering="crispEdges"/>
<rect x="587.96" y="699.80" width="5.72" height="6.10" fill="#5838e2" shape-rendering="crispEdges"/>
<rect x="593.28" y="699.80" width="5.72" height="6.10" fill="#5838e2" shape-rendering="crispEdges"/>
<rect x="598.60" y="699.80" width="5.72" height="6.10" fill="#564ef4" shape-rendering="crispEdges"/>
<rect x="603.92" y="699.80" width="5.72" height="6.10" fill="#5074f5" shape-rendering="crispEdges"/>
<rect x="609.24" y="699.80" width="5.72" height="6.10" fill="#564ef4" shape-rendering="crispEdges"/>
<rect x="614.56" y="699.80" width="5.72" height="6.10" fill="#5838e2" shape-rendering="crispEdges"/>
<rect x="619.88" y="699.80" width="5.72" height="6.10" fill="#5074f5" shape-rendering="crispEdges"/>
<rect x="572.00" y="708.30" width="5.72" height="5.94" fill="#4b28b0" shape-rendering="crispEdges"/>
<rect x="577.32" y="708.30" width="5.72" height="5.94" fill="#4b28b0" shape-rendering="crispEdges"/>
<rect x="582.64" y="708.30" width="5.72" height="5.94" fill="#4b28b0" shape-rendering="crispEdges"/>
<rect x="587.96" y="708.30" width="5.72" height="5.94" fill="#4b28b0" shape-rendering="crispEdges"/>
<rect x="593.28" y="708.30" width="5.72" height="5.94" fill="#4b28b0" shape-rendering="crispEdges"/>
<rect x="598.60" y="708.30" width="5.72" height="5.94" fill="#4b28b0" shape-rendering="crispEdges"/>
<rect x="603.92" y="708.30" width="5.72" height="5.94" fill="#4b28b0" shape-rendering="crispEdges"/>
<rect x="609.24" y="708.30" width="5.72" height="5.94" fill="#4b28b0" shape-rendering="crispEdges"/>
<rect x="614.56" y="708.30" width="5.72" height="5.94" fill="#4b28b0" shape-rendering="crispEdges"/>
<rect x="619.88" y="708.30" width="5.72" height="5.94" fill="#4b28b0" shape-rendering="crispEdges"/>
<rect x="572.00" y="713.84" width="5.72" height="5.94" fill="#4b28b0" shape-rendering="crispEdges"/>
<rect x="577.32" y="713.84" width="5.72" height="5.94" fill="#5074f5" shape-rendering="crispEdges"/>
<rect x="582.64" y="713.84" width="5.72" height="5.94" fill="#4b28b0" shape-rendering="crispEdges"/>
<rect x="587.96" y="713.84" width="5.72" height="5.94" fill="#4b28b0" shape-rendering="crispEdges"/>
<rect x="593.28" y="713.84" width="5.72" height="5.94" fill="#4b28b0" shape-rendering="crispEdges"/>
<rect x="598.60" y="713.84" width="5.72" height="5.94" fill="#4b28b0" shape-rendering="crispEdges"/>
<rect x="603.92" y="713.84" width="5.72" height="5.94" fill="#4b28b0" shape-rendering="crispEdges"/>
<rect x="609.24" y="713.84" width="5.72" height="5.94" fill="#4b28b0" shape-rendering="crispEdges"/>
<rect x="614.56" y="713.84" width="5.72" height="5.94" fill="#5838e2" shape-rendering="crispEdges"/>
<rect x="619.88" y="713.84" width="5.72" height="5.94" fill="#4b28b0" shape-rendering="crispEdges"/>
<rect x="572.00" y="719.38" width="5.72" height="5.94" fill="#4b28b0" shape-rendering="crispEdges"/>
<rect x="577.32" y="719.38" width="5.72" height="5.94" fill="#4b28b0" shape-rendering="crispEdges"/>
<rect x="582.64" y="719.38" width="5.72" height="5.94" fill="#4b28b0" shape-rendering="crispEdges"/>
<rect x="587.96" y="719.38" width="5.72" height="5.94" fill="#4b28b0" shape-rendering="crispEdges"/>
<rect x="593.28" y="719.38" width="5.72" height="5.94" fill="#5838e2" shape-rendering="crispEdges"/>
<rect x="598.60" y="719.38" width="5.72" height="5.94" fill="#4b28b0" shape-rendering="crispEdges"/>
<rect x="603.92" y="719.38" width="5.72" height="5.94" fill="#564ef4" shape-rendering="crispEdges"/>
<rect x="609.24" y="719.38" width="5.72" height="5.94" fill="#4b28b0" shape-rendering="crispEdges"/>
<rect x="614.56" y="719.38" width="5.72" height="5.94" fill="#4b28b0" shape-rendering="crispEdges"/>
<rect x="619.88" y="719.38" width="5.72" height="5.94" fill="#4b28b0" shape-rendering="crispEdges"/>
<rect x="572.00" y="724.92" width="5.72" height="5.94" fill="#4b28b0" shape-rendering="crispEdges"/>
<rect x="577.32" y="724.92" width="5.72" height="5.94" fill="#4b28b0" shape-rendering="crispEdges"/>
<rect x="582.64" y="724.92" width="5.72" height="5.94" fill="#4b28b0" shape-rendering="crispEdges"/>
<rect x="587.96" y="724.92" width="5.72" height="5.94" fill="#4b28b0" shape-rendering="crispEdges"/>
<rect x="593.28" y="724.92" width="5.72" height="5.94" fill="#5074f5" shape-rendering="crispEdges"/>
<rect x="598.60" y="724.92" width="5.72" height="5.94" fill="#502ebe" shape-rendering="crispEdges"/>
<rect x="603.92" y="724.92" width="5.72" height="5.94" fill="#4b28b0" shape-rendering="crispEdges"/>
<rect x="609.24" y="724.92" width="5.72" height="5.94" fill="#4b28b0" shape-rendering="crispEdges"/>
<rect x="614.56" y="724.92" width="5.72" height="5.94" fill="#4b28b0" shape-rendering="crispEdges"/>
<rect x="619.88" y="724.92" width="5.72" height="5.94" fill="#4b28b0" shape-rendering="crispEdges"/>
<rect x="572.00" y="730.46" width="5.72" height="5.94" fill="#4b28b0" shape-rendering="crispEdges"/>
<rect x="577.32" y="730.46" width="5.72" height="5.94" fill="#4b28b0" shape-rendering="crispEdges"/>
<rect x="582.64" y="730.46" width="5.72" height="5.94" fill="#4b28b0" shape-rendering="crispEdges"/>
<rect x="587.96" y="730.46" width="5.72" height="5.94" fill="#4b28b0" shape-rendering="crispEdges"/>
<rect x="593.28" y="730.46" width="5.72" height="5.94" fill="#4b28b0" shape-rendering="crispEdges"/>
<rect x="598.60" y="730.46" width="5.72" height="5.94" fill="#4b28b0" shape-rendering="crispEdges"/>
<rect x="603.92" y="730.46" width="5.72" height="5.94" fill="#4b28b0" shape-rendering="crispEdges"/>
<rect x="609.24" y="730.46" width="5.72" height="5.94" fill="#4b28b0" shape-rendering="crispEdges"/>
<rect x="614.56" y="730.46" width="5.72" height="5.94" fill="#4b28b0" shape-rendering="crispEdges"/>
<rect x="619.88" y="730.46" width="5.72" height="5.94" fill="#4b28b0" shape-rendering="crispEdges"/>
<rect x="628.60" y="677.00" width="5.67" height="6.10" fill="#5074f5" shape-rendering="crispEdges"/>
<rect x="633.87" y="677.00" width="5.67" height="6.10" fill="#4c96e6" shape-rendering="crispEdges"/>
<rect x="639.14" y="677.00" width="5.67" height="6.10" fill="#5838e2" shape-rendering="crispEdges"/>
<rect x="644.41" y="677.00" width="5.67" height="6.10" fill="#564ef4" shape-rendering="crispEdges"/>
<rect x="649.68" y="677.00" width="5.67" height="6.10" fill="#564ef4" shape-rendering="crispEdges"/>
<rect x="654.95" y="677.00" width="5.67" height="6.10" fill="#4c96e6" shape-rendering="crispEdges"/>
<rect x="660.22" y="677.00" width="5.67" height="6.10" fill="#564ef4" shape-rendering="crispEdges"/>
<rect x="665.49" y="677.00" width="5.67" height="6.10" fill="#564ef4" shape-rendering="crispEdges"/>
<rect x="670.76" y="677.00" width="5.67" height="6.10" fill="#5838e2" shape-rendering="crispEdges"/>
<rect x="676.03" y="677.00" width="5.67" height="6.10" fill="#5074f5" shape-rendering="crispEdges"/>
<rect x="628.60" y="682.70" width="5.67" height="6.10" fill="#4b28b0" shape-rendering="crispEdges"/>
<rect x="633.87" y="682.70" width="5.67" height="6.10" fill="#5838e2" shape-rendering="crispEdges"/>
<rect x="639.14" y="682.70" width="5.67" height="6.10" fill="#4c96e6" shape-rendering="crispEdges"/>
<rect x="644.41" y="682.70" width="5.67" height="6.10" fill="#5838e2" shape-rendering="crispEdges"/>
<rect x="649.68" y="682.70" width="5.67" height="6.10" fill="#4c96e6" shape-rendering="crispEdges"/>
<rect x="654.95" y="682.70" width="5.67" height="6.10" fill="#564ef4" shape-rendering="crispEdges"/>
<rect x="660.22" y="682.70" width="5.67" height="6.10" fill="#564ef4" shape-rendering="crispEdges"/>
<rect x="665.49" y="682.70" width="5.67" height="6.10" fill="#4c96e6" shape-rendering="crispEdges"/>
<rect x="670.76" y="682.70" width="5.67" height="6.10" fill="#564ef4" shape-rendering="crispEdges"/>
<rect x="676.03" y="682.70" width="5.67" height="6.10" fill="#4aacce" shape-rendering="crispEdges"/>
<rect x="628.60" y="688.40" width="5.67" height="6.10" fill="#564ef4" shape-rendering="crispEdges"/>
<rect x="633.87" y="688.40" width="5.67" height="6.10" fill="#5074f5" shape-rendering="crispEdges"/>
<rect x="639.14" y="688.40" width="5.67" height="6.10" fill="#4c96e6" shape-rendering="crispEdges"/>
<rect x="644.41" y="688.40" width="5.67" height="6.10" fill="#5838e2" shape-rendering="crispEdges"/>
<rect x="649.68" y="688.40" width="5.67" height="6.10" fill="#5838e2" shape-rendering="crispEdges"/>
<rect x="654.95" y="688.40" width="5.67" height="6.10" fill="#5838e2" shape-rendering="crispEdges"/>
<rect x="660.22" y="688.40" width="5.67" height="6.10" fill="#564ef4" shape-rendering="crispEdges"/>
<rect x="665.49" y="688.40" width="5.67" height="6.10" fill="#564ef4" shape-rendering="crispEdges"/>
<rect x="670.76" y="688.40" width="5.67" height="6.10" fill="#564ef4" shape-rendering="crispEdges"/>
<rect x="676.03" y="688.40" width="5.67" height="6.10" fill="#564ef4" shape-rendering="crispEdges"/>
<rect x="628.60" y="694.10" width="5.67" height="6.10" fill="#5838e2" shape-rendering="crispEdges"/>
<rect x="633.87" y="694.10" width="5.67" height="6.10" fill="#5838e2" shape-rendering="crispEdges"/>
<rect x="639.14" y="694.10" width="5.67" height="6.10" fill="#5074f5" shape-rendering="crispEdges"/>
<rect x="644.41" y="694.10" width="5.67" height="6.10" fill="#564ef4" shape-rendering="crispEdges"/>
<rect x="649.68" y="694.10" width="5.67" height="6.10" fill="#4c96e6" shape-rendering="crispEdges"/>
<rect x="654.95" y="694.10" width="5.67" height="6.10" fill="#4b28b0" shape-rendering="crispEdges"/>
<rect x="660.22" y="694.10" width="5.67" height="6.10" fill="#564ef4" shape-rendering="crispEdges"/>
<rect x="665.49" y="694.10" width="5.67" height="6.10" fill="#5838e2" shape-rendering="crispEdges"/>
<rect x="670.76" y="694.10" width="5.67" height="6.10" fill="#5838e2" shape-rendering="crispEdges"/>
<rect x="676.03" y="694.10" width="5.67" height="6.10" fill="#5838e2" shape-rendering="crispEdges"/>
<rect x="628.60" y="699.80" width="5.67" height="6.10" fill="#5074f5" shape-rendering="crispEdges"/>
<rect x="633.87" y="699.80" width="5.67" height="6.10" fill="#4c96e6" shape-rendering="crispEdges"/>
<rect x="639.14" y="699.80" width="5.67" height="6.10" fill="#5838e2" shape-rendering="crispEdges"/>
<rect x="644.41" y="699.80" width="5.67" height="6.10" fill="#5074f5" shape-rendering="crispEdges"/>
<rect x="649.68" y="699.80" width="5.67" height="6.10" fill="#564ef4" shape-rendering="crispEdges"/>
<rect x="654.95" y="699.80" width="5.67" height="6.10" fill="#5838e2" shape-rendering="crispEdges"/>
<rect x="660.22" y="699.80" width="5.67" height="6.10" fill="#4b28b0" shape-rendering="crispEdges"/>
<rect x="665.49" y="699.80" width="5.67" height="6.10" fill="#5074f5" shape-rendering="crispEdges"/>
<rect x="670.76" y="699.80" width="5.67" height="6.10" fill="#4b28b0" shape-rendering="crispEdges"/>
<rect x="676.03" y="699.80" width="5.67" height="6.10" fill="#4b28b0" shape-rendering="crispEdges"/>
<rect x="628.60" y="708.30" width="5.67" height="5.94" fill="#5838e2" shape-rendering="crispEdges"/>
<rect x="633.87" y="708.30" width="5.67" height="5.94" fill="#4b28b0" shape-rendering="crispEdges"/>
<rect x="639.14" y="708.30" width="5.67" height="5.94" fill="#4b28b0" shape-rendering="crispEdges"/>
<rect x="644.41" y="708.30" width="5.67" height="5.94" fill="#502ebe" shape-rendering="crispEdges"/>
<rect x="649.68" y="708.30" width="5.67" height="5.94" fill="#4b28b0" shape-rendering="crispEdges"/>
<rect x="654.95" y="708.30" width="5.67" height="5.94" fill="#4b28b0" shape-rendering="crispEdges"/>
<rect x="660.22" y="708.30" width="5.67" height="5.94" fill="#4b28b0" shape-rendering="crispEdges"/>
<rect x="665.49" y="708.30" width="5.67" height="5.94" fill="#4b28b0" shape-rendering="crispEdges"/>
<rect x="670.76" y="708.30" width="5.67" height="5.94" fill="#5838e2" shape-rendering="crispEdges"/>
<rect x="676.03" y="708.30" width="5.67" height="5.94" fill="#4b28b0" shape-rendering="crispEdges"/>
<rect x="628.60" y="713.84" width="5.67" height="5.94" fill="#502ebe" shape-rendering="crispEdges"/>
<rect x="633.87" y="713.84" width="5.67" height="5.94" fill="#4b28b0" shape-rendering="crispEdges"/>
<rect x="639.14" y="713.84" width="5.67" height="5.94" fill="#4b28b0" shape-rendering="crispEdges"/>
<rect x="644.41" y="713.84" width="5.67" height="5.94" fill="#5838e2" shape-rendering="crispEdges"/>
<rect x="649.68" y="713.84" width="5.67" height="5.94" fill="#4b28b0" shape-rendering="crispEdges"/>
<rect x="654.95" y="713.84" width="5.67" height="5.94" fill="#4b28b0" shape-rendering="crispEdges"/>
<rect x="660.22" y="713.84" width="5.67" height="5.94" fill="#4b28b0" shape-rendering="crispEdges"/>
<rect x="665.49" y="713.84" width="5.67" height="5.94" fill="#4b28b0" shape-rendering="crispEdges"/>
<rect x="670.76" y="713.84" width="5.67" height="5.94" fill="#4b28b0" shape-rendering="crispEdges"/>
<rect x="676.03" y="713.84" width="5.67" height="5.94" fill="#4b28b0" shape-rendering="crispEdges"/>
<rect x="628.60" y="719.38" width="5.67" height="5.94" fill="#5838e2" shape-rendering="crispEdges"/>
<rect x="633.87" y="719.38" width="5.67" height="5.94" fill="#502ebe" shape-rendering="crispEdges"/>
<rect x="639.14" y="719.38" width="5.67" height="5.94" fill="#4b28b0" shape-rendering="crispEdges"/>
<rect x="644.41" y="719.38" width="5.67" height="5.94" fill="#4b28b0" shape-rendering="crispEdges"/>
<rect x="649.68" y="719.38" width="5.67" height="5.94" fill="#4b28b0" shape-rendering="crispEdges"/>
<rect x="654.95" y="719.38" width="5.67" height="5.94" fill="#4b28b0" shape-rendering="crispEdges"/>
<rect x="660.22" y="719.38" width="5.67" height="5.94" fill="#4b28b0" shape-rendering="crispEdges"/>
<rect x="665.49" y="719.38" width="5.67" height="5.94" fill="#4b28b0" shape-rendering="crispEdges"/>
<rect x="670.76" y="719.38" width="5.67" height="5.94" fill="#4b28b0" shape-rendering="crispEdges"/>
<rect x="676.03" y="719.38" width="5.67" height="5.94" fill="#4b28b0" shape-rendering="crispEdges"/>
<rect x="628.60" y="724.92" width="5.67" height="5.94" fill="#4b28b0" shape-rendering="crispEdges"/>
<rect x="633.87" y="724.92" width="5.67" height="5.94" fill="#4b28b0" shape-rendering="crispEdges"/>
<rect x="639.14" y="724.92" width="5.67" height="5.94" fill="#4b28b0" shape-rendering="crispEdges"/>
<rect x="644.41" y="724.92" width="5.67" height="5.94" fill="#4b28b0" shape-rendering="crispEdges"/>
<rect x="649.68" y="724.92" width="5.67" height="5.94" fill="#4b28b0" shape-rendering="crispEdges"/>
<rect x="654.95" y="724.92" width="5.67" height="5.94" fill="#4b28b0" shape-rendering="crispEdges"/>
<rect x="660.22" y="724.92" width="5.67" height="5.94" fill="#4b28b0" shape-rendering="crispEdges"/>
<rect x="665.49" y="724.92" width="5.67" height="5.94" fill="#4b28b0" shape-rendering="crispEdges"/>
<rect x="670.76" y="724.92" width="5.67" height="5.94" fill="#4b28b0" shape-rendering="crispEdges"/>
<rect x="676.03" y="724.92" width="5.67" height="5.94" fill="#502ebe" shape-rendering="crispEdges"/>
<rect x="628.60" y="730.46" width="5.67" height="5.94" fill="#4b28b0" shape-rendering="crispEdges"/>
<rect x="633.87" y="730.46" width="5.67" height="5.94" fill="#4b28b0" shape-rendering="crispEdges"/>
<rect x="639.14" y="730.46" width="5.67" height="5.94" fill="#4b28b0" shape-rendering="crispEdges"/>
<rect x="644.41" y="730.46" width="5.67" height="5.94" fill="#4b28b0" shape-rendering="crispEdges"/>
<rect x="649.68" y="730.46" width="5.67" height="5.94" fill="#4b28b0" shape-rendering="crispEdges"/>
<rect x="654.95" y="730.46" width="5.67" height="5.94" fill="#4b28b0" shape-rendering="crispEdges"/>
<rect x="660.22" y="730.46" width="5.67" height="5.94" fill="#4b28b0" shape-rendering="crispEdges"/>
<rect x="665.49" y="730.46" width="5.67" height="5.94" fill="#4b28b0" shape-rendering="crispEdges"/>
<rect x="670.76" y="730.46" width="5.67" height="5.94" fill="#4b28b0" shape-rendering="crispEdges"/>
<rect x="676.03" y="730.46" width="5.67" height="5.94" fill="#4b28b0" shape-rendering="crispEdges"/>
<line x1="321.10" y1="707.00" x2="682.10" y2="707.00" stroke="#1a1a1a" stroke-width="2" />
<rect x="321.10" y="661.10" width="361.00" height="79.20" fill="none" stroke="#231f20" stroke-width="1.3"/>
<text x="372.40" y="673.40" font-size="12.4" text-anchor="middle" textLength="34.80" lengthAdjust="spacingAndGlyphs" >0 mins</text>
<text x="428.70" y="673.40" font-size="12.4" text-anchor="middle" textLength="34.80" lengthAdjust="spacingAndGlyphs" >5 mins</text>
<text x="482.50" y="673.40" font-size="12.4" text-anchor="middle" textLength="39.00" lengthAdjust="spacingAndGlyphs" >10 mins</text>
<text x="540.70" y="673.40" font-size="12.4" text-anchor="middle" textLength="39.00" lengthAdjust="spacingAndGlyphs" >20 mins</text>
<text x="599.60" y="673.40" font-size="12.4" text-anchor="middle" textLength="39.00" lengthAdjust="spacingAndGlyphs" >25 mins</text>
<text x="650.80" y="673.40" font-size="12.4" text-anchor="middle" textLength="39.00" lengthAdjust="spacingAndGlyphs" >30 mins</text>
<text x="333.00" y="684.00" font-size="10.4" text-anchor="middle" textLength="12.00" lengthAdjust="spacingAndGlyphs" transform="rotate(-90 333.00 684.00)" >No</text>
<text x="343.00" y="683.80" font-size="10.4" text-anchor="middle" textLength="36.00" lengthAdjust="spacingAndGlyphs" transform="rotate(-90 343.00 683.80)" >cysteine</text>
<text x="337.30" y="723.50" font-size="10.4" text-anchor="middle" textLength="34.00" lengthAdjust="spacingAndGlyphs" transform="rotate(-90 337.30 723.50)" >cysteine</text>
<text x="425.00" y="755.30" font-size="11.5" text-anchor="middle" textLength="98.00" lengthAdjust="spacingAndGlyphs" >Normalized intensity</text>
<linearGradient id="gpar" x1="0" x2="1" y1="0" y2="0"><stop offset="0.0" stop-color="rgb(62, 38, 168)"/><stop offset="0.125" stop-color="rgb(72, 82, 244)"/><stop offset="0.25" stop-color="rgb(46, 135, 247)"/><stop offset="0.375" stop-color="rgb(18, 177, 214)"/><stop offset="0.5" stop-color="rgb(55, 200, 151)"/><stop offset="0.625" stop-color="rgb(171, 199, 57)"/><stop offset="0.75" stop-color="rgb(254, 195, 56)"/><stop offset="0.875" stop-color="rgb(245, 227, 39)"/><stop offset="1.0" stop-color="rgb(249, 251, 21)"/></linearGradient>
<rect x="398.80" y="759.00" width="53.20" height="7.00" fill="url(#gpar)" stroke="#231f20" stroke-width="0.8"/>
<text x="376.60" y="766.00" font-size="10" textLength="8.00" lengthAdjust="spacingAndGlyphs" >3I</text>
<text x="384.60" y="768.50" font-size="6.5" textLength="12.50" lengthAdjust="spacingAndGlyphs" >noise</text>
<text x="455.60" y="766.30" font-size="11.2" textLength="18.00" lengthAdjust="spacingAndGlyphs" >max</text>
<path d="M508.5,748.2 L508.5,765.3 L531.3,765.3" fill="none" stroke="#231f20" stroke-width="1.4" />
<text x="516.20" y="753.20" font-size="11.5" text-anchor="middle" >y</text>
<text x="534.70" y="768.00" font-size="11.5" text-anchor="middle" >x</text>
<rect x="555.50" y="750.20" width="20.50" height="4.30" fill="#111" />
<text x="565.20" y="765.20" font-size="11.2" text-anchor="middle" textLength="30.50" lengthAdjust="spacingAndGlyphs" >20 µm</text></svg>
</body></html>
